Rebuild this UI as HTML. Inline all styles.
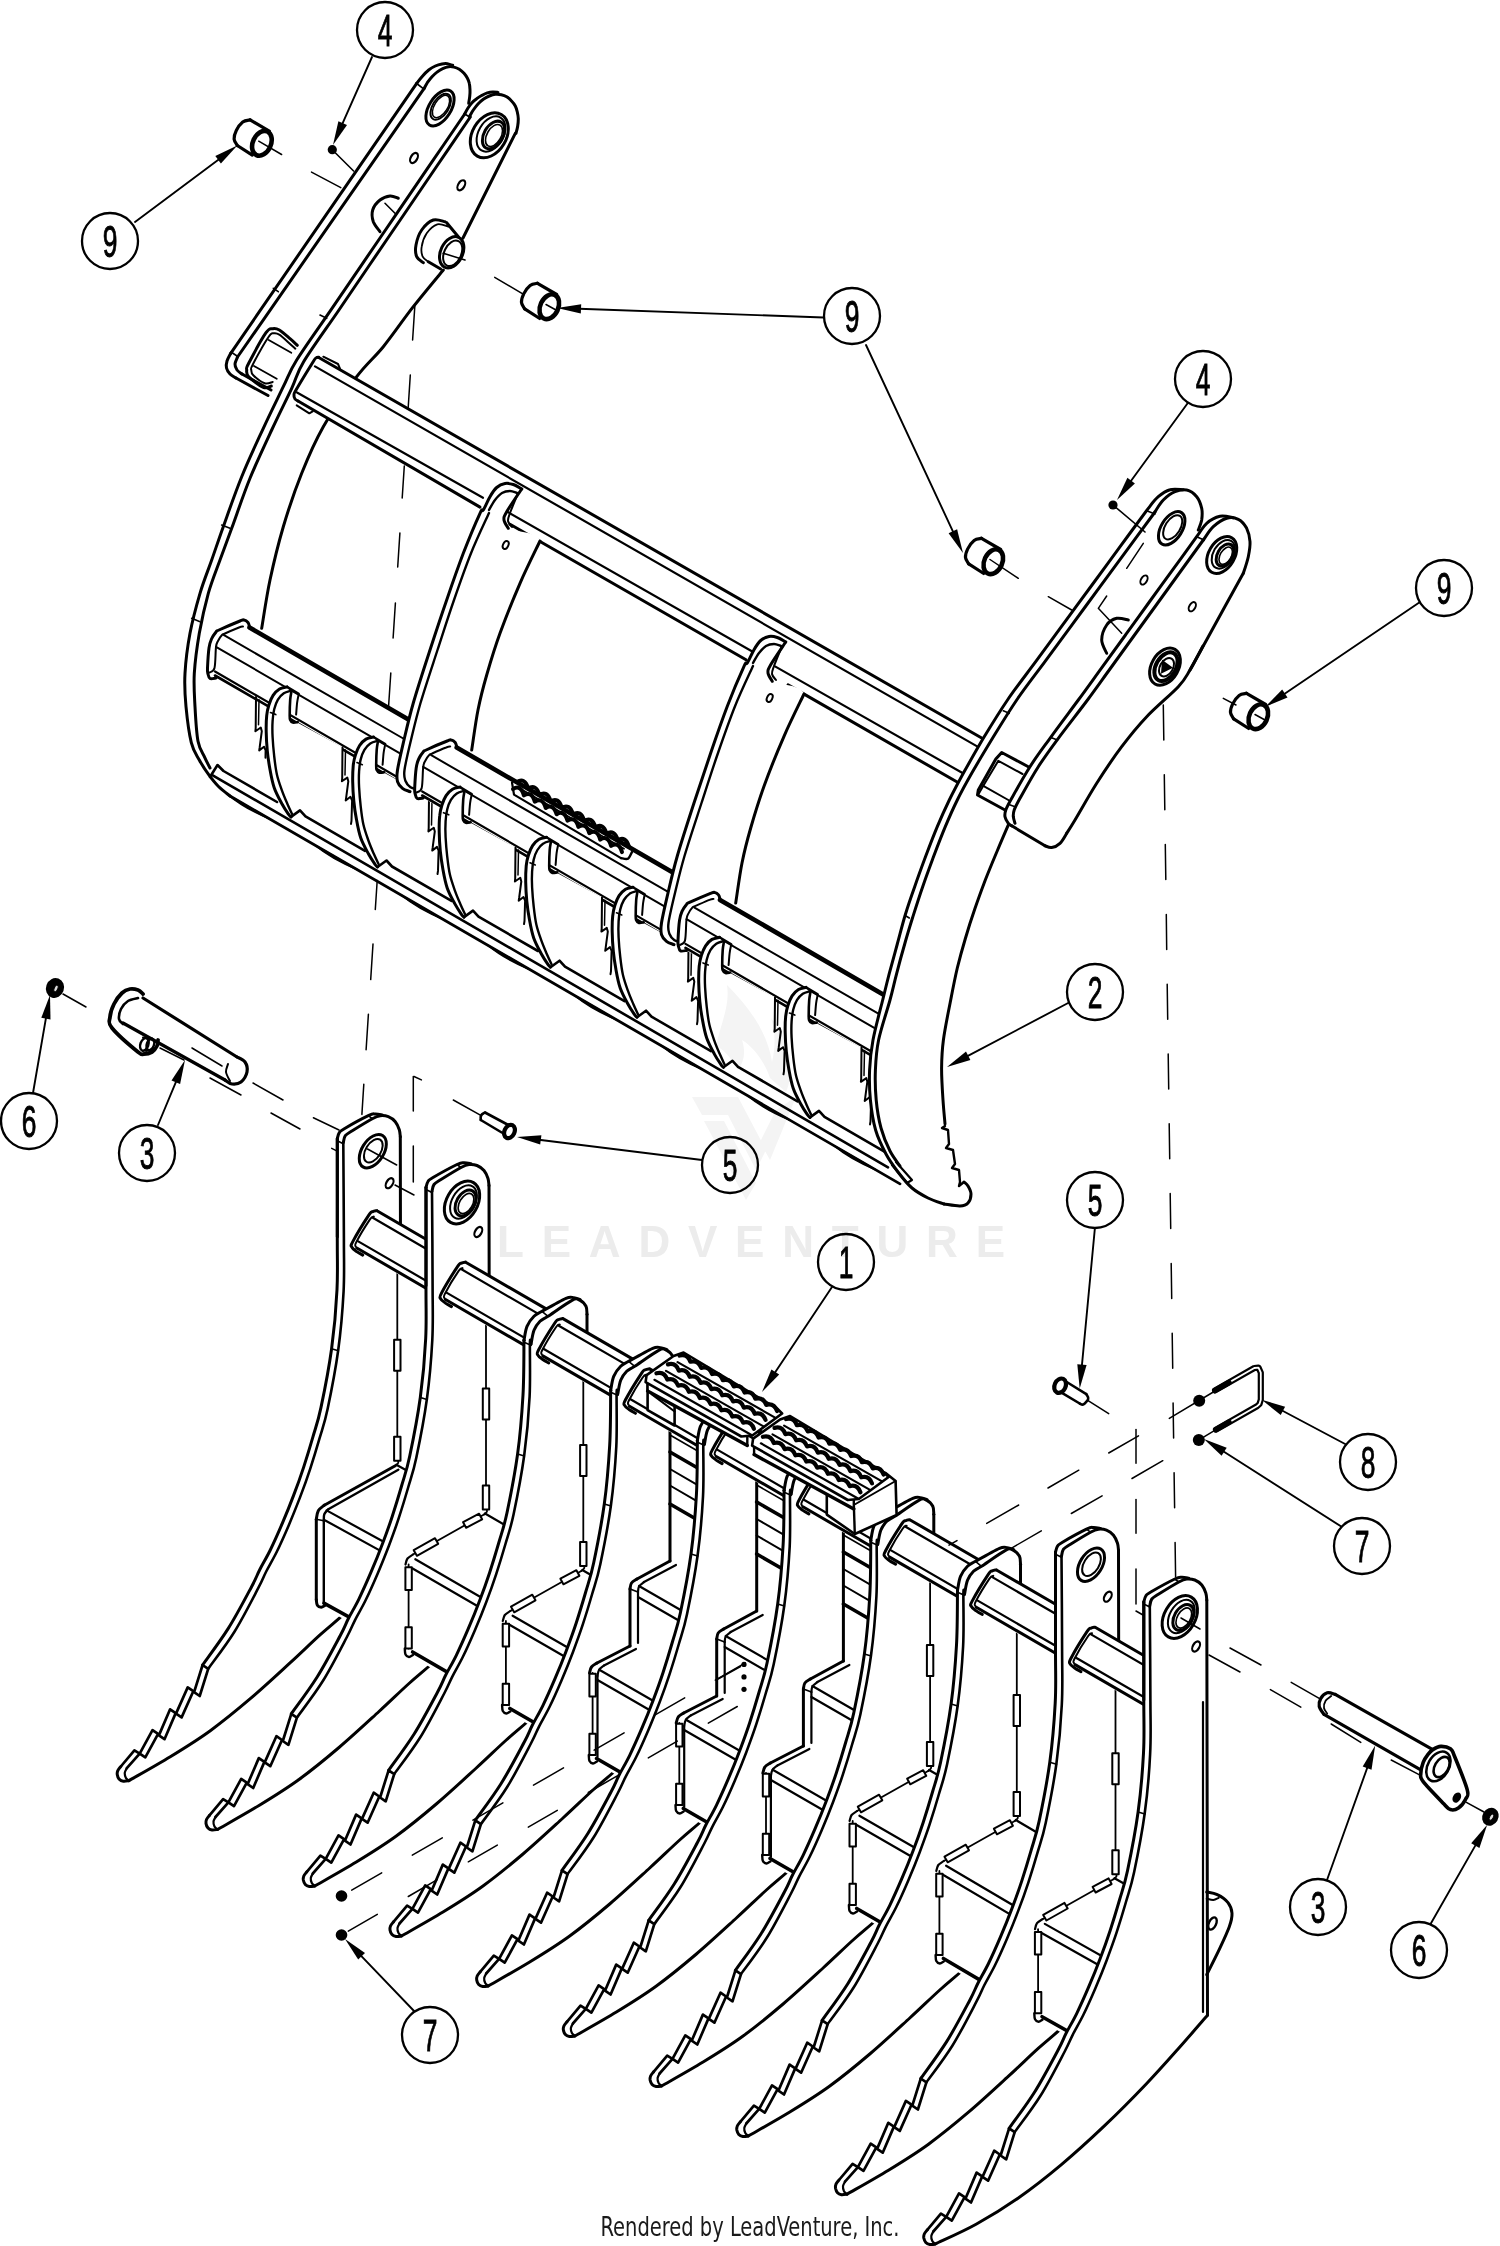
<!DOCTYPE html>
<html><head><meta charset="utf-8"><title>Parts diagram</title>
<style>
html,body{margin:0;padding:0;background:#fff}
svg{display:block}
.n{font-family:"Liberation Sans",sans-serif;fill:#000}
path,line,polyline,ellipse,circle{stroke-linecap:round;stroke-linejoin:round}
</style></head><body>
<svg width="1500" height="2246" viewBox="0 0 1500 2246">
<rect width="1500" height="2246" fill="#fff"/>
<path d="M416.7 83.3 C417.6 82.2 420 78.9 422 76.7 C424 74.4 426.4 71.8 428.7 70 C430.9 68.2 433.1 67 435.3 66 C437.6 65 440 64.4 442 64 C444 63.6 445.6 63.5 447.3 63.7 C449.1 64 451.8 65.1 452.7 65.3" fill="none" stroke="#000" stroke-width="3.0" />
<path d="M416.7 83.3 L230.7 353.3" fill="none" stroke="#000" stroke-width="3.0" />
<path d="M230.7 353.3 C230.1 354.6 227.7 358.6 227 361 C226.3 363.4 226 365.8 226.5 368 C227 370.2 228.4 372.3 230 374 C231.6 375.7 235 377.3 236 378" fill="none" stroke="#000" stroke-width="3.0" />
<path d="M236 378 L268 395.5" fill="none" stroke="#000" stroke-width="3.0" />
<path d="M424 88.7 C424.6 87.7 426 84.7 427.3 82.7 C428.7 80.7 430.4 78.4 432 76.7 C433.6 75 434.9 73.7 436.7 72.4 C438.4 71.1 440.7 69.6 442.7 68.7 C444.7 67.7 446.8 66.9 448.7 66.7 C450.6 66.4 452.2 66.6 454 67.1 C455.8 67.5 457.7 68.3 459.3 69.3 C461 70.4 462.7 71.9 464 73.3 C465.3 74.8 466.4 76.3 467.3 78 C468.2 79.7 468.9 81.3 469.3 83.3 C469.8 85.3 469.9 87.8 470 90 C470.1 92.2 470 94.4 469.7 96.7 C469.5 98.9 468.8 102.2 468.7 103.3" fill="none" stroke="#000" stroke-width="3.0" />
<path d="M424 88.7 L237.5 357" fill="none" stroke="#000" stroke-width="3.0" />
<path d="M237.5 357 C237.1 358.2 235.1 361.8 235 364 C234.9 366.2 235.8 368.3 237 370 C238.2 371.7 241.2 373.3 242 374" fill="none" stroke="#000" stroke-width="3.0" />
<path d="M242 374 L271 390" fill="none" stroke="#000" stroke-width="3.0" />
<path d="M417.3 84 L423.3 88.7" fill="none" stroke="#000" stroke-width="1.6" />
<path d="M231 352 L237 356" fill="none" stroke="#000" stroke-width="1.6" />
<path d="M273.3 288.3 L278.3 291.7" fill="none" stroke="#000" stroke-width="1.6" />
<ellipse cx="440" cy="108" rx="11" ry="20" transform="rotate(32 440 108)" fill="none" stroke="#000" stroke-width="3.0"/>
<ellipse cx="440.7" cy="106.7" rx="8" ry="14.5" transform="rotate(32 440.7 106.7)" fill="none" stroke="#000" stroke-width="2"/>
<ellipse cx="441" cy="106.5" rx="6.5" ry="12.5" transform="rotate(32 441 106.5)" fill="none" stroke="#000" stroke-width="1.5"/>
<ellipse cx="414" cy="158" rx="3.2" ry="5.5" transform="rotate(30 414 158)" fill="none" stroke="#000" stroke-width="2.2"/>
<path d="M380 231.7 C378.9 230 374.6 225.3 373.3 221.7 C372.1 218.1 371.6 213.6 372.7 210 C373.8 206.4 377.1 202.3 380 200 C382.9 197.7 386.9 196.3 390 196 C393.1 195.7 396.9 197.9 398.3 198.3" fill="none" stroke="#000" stroke-width="3.0" />
<path d="M385 203.3 L395 213.3" fill="none" stroke="#000" stroke-width="1.6" />
<path d="M297.3 345.3 C296.1 344.2 293 341.2 290 338.7 C287 336.1 282.2 331.7 279.3 330 C276.4 328.3 274.9 328.2 272.7 328.7 C270.4 329.1 270 326.9 266 332.7 C262 338.4 251.9 357.1 248.7 363.3 C245.4 369.6 246.7 367.8 246.7 370 C246.7 372.2 245.9 373.8 248.7 376.7 C251.4 379.6 259.6 385.8 263.3 387.3 C267.1 388.9 270 386.2 271.3 386" fill="none" stroke="#000" stroke-width="3.0" />
<path d="M295.3 348.7 C294.2 347.7 291.3 345 288.7 342.7 C286 340.3 281.8 336.2 279.3 334.7 C276.9 333.1 275.8 333 274 333.3 C272.2 333.7 272.2 331.4 268.7 336.7 C265.1 341.9 255.6 359.1 252.7 364.7 C249.8 370.2 251.2 368.2 251.3 370 C251.4 371.8 251.1 373.1 253.3 375.3 C255.6 377.6 261.4 382.2 264.7 383.3 C267.9 384.4 271.3 382.2 272.7 382" fill="none" stroke="#000" stroke-width="2" />
<path d="M268.7 340 L291.3 352.7" fill="none" stroke="#000" stroke-width="1.8" />
<path d="M254 366 L276.7 378.7" fill="none" stroke="#000" stroke-width="1.8" />
<path d="M464.7 114 C459.1 122.2 442.3 146.8 431.1 163.2 C419.9 179.6 408.7 196 397.5 212.4 C386.3 228.8 375.1 245.2 363.9 261.6 C352.7 278 341.5 294.4 330.3 310.8 C319.1 327.2 304.5 347.4 296.7 360 C288.9 372.6 288.9 375.3 283.3 386.7 C277.8 398.1 270.3 413.3 263.3 428.3 C256.4 443.3 248.3 460.3 241.7 476.7 C235 493.1 228.3 512.8 223.3 526.7 C218.3 540.6 215.6 548.9 211.7 560 C207.8 571.1 203.6 581.1 200 593.3 C196.4 605.6 192.5 620 190 633.3 C187.5 646.7 185.7 661.1 185 673.3 C184.3 685.6 185.8 701.1 186 706.7 L261.7 628.3 C263.1 620.3 266.4 596.9 270 580 C273.6 563.1 278.1 544.4 283.3 526.7 C288.6 508.9 295 490 301.7 473.3 C308.3 456.7 314.2 442.8 323.3 426.7 C332.5 410.6 346.7 390 356.7 376.7 C366.7 363.3 373.9 358.3 383.3 346.7 C392.8 335 403.3 319.4 413.3 306.7 C423.3 293.9 438.3 276.1 443.3 270 L463 238 L515 134 L516 133.3 C516.3 132.1 517.4 128.4 517.7 126 C518.1 123.6 518.3 121 518.3 118.7 C518.2 116.3 517.8 114.1 517.3 112 C516.8 109.9 516.3 107.9 515.3 106 C514.3 104.1 512.8 102.2 511.3 100.7 C509.9 99.1 508.9 98 506.7 96.7 C504.4 95.3 500.3 93.2 498 92.4 C495.7 91.6 494.4 91.9 492.7 92 C490.9 92.1 489.1 92.4 487.3 92.9 C485.6 93.5 483.8 94.4 482 95.3 C480.2 96.3 478.3 97.4 476.7 98.7 C475 99.9 473.4 101.1 472 102.7 C470.6 104.2 469.2 106.1 468 108 C466.8 109.9 465.2 113 464.7 114Z" fill="#fff" stroke="none"/>
<path d="M464.7 114 C465.2 113 466.8 109.9 468 108 C469.2 106.1 470.6 104.2 472 102.7 C473.4 101.1 475 99.9 476.7 98.7 C478.3 97.4 480.2 96.3 482 95.3 C483.8 94.4 485.6 93.5 487.3 92.9 C489.1 92.4 490.9 92.1 492.7 92 C494.4 91.9 497.1 92.3 498 92.4" fill="none" stroke="#000" stroke-width="3.0" />
<path d="M469.3 116.7 C470 115.6 471.9 112.1 473.3 110 C474.8 107.9 476.3 105.8 478 104 C479.7 102.2 481.4 100.7 483.3 99.3 C485.2 98 487.3 96.8 489.3 96 C491.3 95.2 493.3 94.5 495.3 94.3 C497.3 94 499.4 94.3 501.3 94.7 C503.2 95.1 505 95.7 506.7 96.7 C508.3 97.7 509.9 99.1 511.3 100.7 C512.8 102.2 514.3 104.1 515.3 106 C516.3 107.9 516.8 109.9 517.3 112 C517.8 114.1 518.2 116.3 518.3 118.7 C518.3 121 518.1 123.6 517.7 126 C517.4 128.4 516.3 132.1 516 133.3" fill="none" stroke="#000" stroke-width="3.0" />
<path d="M464.7 114 L469.3 116.7" fill="none" stroke="#000" stroke-width="1.6" />
<path d="M515.3 133.3 L463 238" fill="none" stroke="#000" stroke-width="3.0" />
<ellipse cx="489.3" cy="135.3" rx="17" ry="24" transform="rotate(30 489.3 135.3)" fill="none" stroke="#000" stroke-width="3.0"/>
<ellipse cx="491" cy="134" rx="12.5" ry="19" transform="rotate(30 491 134)" fill="none" stroke="#000" stroke-width="2"/>
<ellipse cx="493.5" cy="135" rx="9.5" ry="15" transform="rotate(30 493.5 135)" fill="none" stroke="#000" stroke-width="3.0"/>
<ellipse cx="494" cy="135.5" rx="7" ry="12" transform="rotate(30 494 135.5)" fill="none" stroke="#000" stroke-width="1.6"/>
<ellipse cx="461.3" cy="185.3" rx="3.2" ry="5.5" transform="rotate(30 461.3 185.3)" fill="none" stroke="#000" stroke-width="2.2"/>
<path d="M445 221.7 C443.1 221.4 437.2 218.6 433.3 220 C429.4 221.4 424.6 225.8 421.7 230 C418.8 234.2 416.8 240.6 416 245 C415.2 249.4 415.4 253.7 416.7 256.7 C417.9 259.6 422.2 261.7 423.3 262.7" fill="none" stroke="#000" stroke-width="3.0" />
<path d="M448.3 226.7 C446.5 226.3 440.9 223.2 437.3 224.3 C433.7 225.4 429.3 229.6 426.7 233.3 C424.1 237.1 422.3 242.8 421.7 246.7 C421 250.6 421.6 254.2 422.7 256.7 C423.8 259.2 427.4 260.8 428.3 261.7" fill="none" stroke="#000" stroke-width="1.8" />
<ellipse cx="451.7" cy="252.3" rx="11" ry="16.5" transform="rotate(25 451.7 252.3)" fill="#fff" stroke="#000" stroke-width="3.0"/>
<ellipse cx="452.7" cy="253.3" rx="8.5" ry="13.5" transform="rotate(25 452.7 253.3)" fill="none" stroke="#000" stroke-width="2"/>
<path d="M428.3 261.7 L440.7 269" fill="none" stroke="#000" stroke-width="3.0" />
<path d="M446.7 222.7 L458.3 236.7" fill="none" stroke="#000" stroke-width="3.0" />
<path d="M443.3 253.3 L465 260" fill="none" stroke="#000" stroke-width="1.6" />
<path d="M464.7 114 C459.1 122.2 442.3 146.8 431.1 163.2 C419.9 179.6 408.7 196 397.5 212.4 C386.3 228.8 375.1 245.2 363.9 261.6 C352.7 278 341.5 294.4 330.3 310.8 C319.1 327.2 304.5 347.4 296.7 360 C288.9 372.6 288.9 375.3 283.3 386.7 C277.8 398.1 270.3 413.3 263.3 428.3 C256.4 443.3 248.3 460.3 241.7 476.7 C235 493.1 228.3 512.8 223.3 526.7 C218.3 540.6 215.6 548.9 211.7 560 C207.8 571.1 203.6 581.1 200 593.3 C196.4 605.6 192.5 620 190 633.3 C187.5 646.7 185.7 661.1 185 673.3 C184.3 685.6 184.9 695.1 186 706.7 C187.1 718.2 189.1 733.8 191.3 742.7 C193.5 751.6 196.4 754.7 199.3 760 C202.2 765.3 205.5 770.3 208.7 774.7 C211.9 779.1 214.9 783 218.5 786.5 C222.1 790 228.1 794.4 230 796" fill="none" stroke="#000" stroke-width="3.0" />
<path d="M470.3 117 C464.7 125.2 448.1 149.7 436.9 166 C425.8 182.3 414.7 198.7 403.6 215 C392.5 231.3 381.3 247.7 370.2 264 C359.1 280.3 348 296.7 336.9 313 C325.7 329.3 311 349.4 303.5 362 C296 374.6 297 377 291.7 388.3 C286.4 399.7 278.6 415 271.7 430 C264.7 445 256.7 461.9 250 478.3 C243.3 494.7 236.7 514.7 231.7 528.3 C226.7 541.9 223.9 549.2 220 560 C216.1 570.8 211.8 581.1 208.3 593.3 C204.9 605.6 201.7 620 199.3 633.3 C197 646.7 195.1 661.1 194.3 673.3 C193.6 685.6 194.4 695.3 195 706.7 C195.6 718 196.4 732.9 198 741.3 C199.6 749.7 202.7 752.8 204.7 757.3 C206.7 761.8 209.1 766.2 210 768" fill="none" stroke="#000" stroke-width="3.0" />
<path d="M443.3 270 C438.3 276.1 423.3 293.9 413.3 306.7 C403.3 319.4 392.8 335 383.3 346.7 C373.9 358.3 366.7 363.3 356.7 376.7 C346.7 390 332.5 410.6 323.3 426.7 C314.2 442.8 308.3 456.7 301.7 473.3 C295 490 288.6 508.9 283.3 526.7 C278.1 544.4 273.6 563.1 270 580 C266.4 596.9 263.1 620.3 261.7 628.3" fill="none" stroke="#000" stroke-width="3.0" />
<path d="M320 315 L326.7 318.3" fill="none" stroke="#000" stroke-width="1.6" />
<path d="M221.7 525 L230 528.3" fill="none" stroke="#000" stroke-width="1.6" />
<path d="M191.7 618.3 L200 621.7" fill="none" stroke="#000" stroke-width="1.6" />
<path d="M318.7 357.5 L983 738.8 L958 782.5 L298 401 L294 395Z" fill="#fff" stroke="none"/>
<path d="M318.7 357.5 L983 738.8" fill="none" stroke="#000" stroke-width="3.0" />
<path d="M315 366.4 L978 746.9" fill="none" stroke="#000" stroke-width="2.2" />
<path d="M318.7 357.3 C318.2 357.4 316.9 357.2 316 358 C315.1 358.8 316.3 356.7 313 362 C309.7 367.3 299.2 384.5 296 390 C292.8 395.5 294.2 393.5 294 395 C293.8 396.5 294.3 398 295 399 C295.7 400 297.5 400.7 298 401" fill="none" stroke="#000" stroke-width="3.0" />
<path d="M297 392.5 L483 497.8" fill="none" stroke="#000" stroke-width="2.2" />
<path d="M298 401 L480 507.1" fill="none" stroke="#000" stroke-width="3.0" />
<path d="M507 511.6 L758 654.7" fill="none" stroke="#000" stroke-width="2.2" />
<path d="M510 524.3 L746 659.8" fill="none" stroke="#000" stroke-width="3.0" />
<path d="M775 666.4 L963 773.3" fill="none" stroke="#000" stroke-width="2.2" />
<path d="M788 684.9 L958 782.5" fill="none" stroke="#000" stroke-width="3.0" />
<path d="M323.3 356.7 L338 364 L340 368.7" fill="none" stroke="#000" stroke-width="2" />
<path d="M296.7 405.3 L309.3 413.3 L312.7 411.3" fill="none" stroke="#000" stroke-width="2" />
<path d="M216 678 L210 678.5 L208 674 L207.5 668 L209 648 L211.5 639 L216 632 L219 630 L240 621 L244 620 L248 622.5 L249.5 626.5 L408 718.3 L400 782.1Z" fill="#fff" stroke="none"/>
<path d="M216 678 C215 678.1 211.3 679.2 210 678.5 C208.7 677.8 208.4 675.8 208 674 C207.6 672.2 207.3 672.3 207.5 668 C207.7 663.7 208.3 652.8 209 648 C209.7 643.2 210.3 641.7 211.5 639 C212.7 636.3 214.8 633.5 216 632 C217.2 630.5 215 631.8 219 630 C223 628.2 235.8 622.7 240 621 C244.2 619.3 242.7 619.8 244 620 C245.3 620.2 247.1 621.4 248 622.5 C248.9 623.6 249.2 625.8 249.5 626.5" fill="none" stroke="#000" stroke-width="3.0" />
<path d="M209.5 672.5 C210.3 671.8 213.4 672.2 214.5 668 C215.6 663.8 215.4 651.5 216 647 C216.6 642.5 217 643 218 641 C219 639 220.8 636.2 222 635 C223.2 633.8 222.2 634.8 225 633.5 C227.8 632.2 236 628.7 239 627.5 C242 626.3 242.3 626.7 243 626.5" fill="none" stroke="#000" stroke-width="2" />
<path d="M249.5 627.5 L408 719.3" fill="none" stroke="#000" stroke-width="4.6" />
<path d="M224 635.2 L405 739.5" fill="none" stroke="#000" stroke-width="2" />
<path d="M216 646.8 L403 755.1" fill="none" stroke="#000" stroke-width="2" />
<path d="M215 671.5 L401 779.2" fill="none" stroke="#000" stroke-width="2.2" />
<path d="M215 675.5 L400 782.6" fill="none" stroke="#000" stroke-width="2.6" />
<path d="M210 777 L217.5 765 L223.5 771 L277 802" fill="none" stroke="#000" stroke-width="2.6" />
<path d="M256 697.1 L255.7 728 L255.4 731.2 L260.8 727.5 L261.8 731.2 L259.7 747.2 L259.2 750.4 L264 746.7 L265.6 750.4 L265.5 757.8" fill="none" stroke="#000" stroke-width="2" />
<path d="M259 699.8 L258.5 724.8" fill="none" stroke="#000" stroke-width="1.5" />
<path d="M287 686.9 L279.5 689 L273.1 695.4 L268.9 705 L266.7 715.7 L266.2 731.7 L267.3 750.9 L269.9 769 L274.2 787.7 L281.9 803.7 L288.6 814.4 L291 816.9 L357 861.1 L357 846.9 L357 823.9 L356 820.4 L351 823.9 L351.5 820.8 L352.1 800.5 L350.5 796.8 L345.7 800.5 L346.2 797.3 L348.3 781.3 L347.3 777.6 L341.9 781.3 L342.2 778.1 L342.5 747.2 L299 723.4 L297.7 722.1 L292.9 722.6 L290.2 719.9 L289.7 715.7 L290.2 699.7 L291.3 692.2Z" fill="#fff" stroke="none"/>
<path d="M342.5 747.2 L342.2 778.1 L341.9 781.3 L347.3 777.6 L348.3 781.3 L346.2 797.3 L345.7 800.5 L350.5 796.8 L352.1 800.5 L351.5 820.8 L351 823.9" fill="none" stroke="#000" stroke-width="2" />
<path d="M345.5 749.9 L345 774.9" fill="none" stroke="#000" stroke-width="1.5" />
<path d="M287 686.9 C285.8 687.3 281.8 687.6 279.5 689 C277.2 690.4 274.9 692.7 273.1 695.4 C271.3 698.1 270 701.6 268.9 705 C267.8 708.4 267.1 711.3 266.7 715.7 C266.2 720.2 266.1 725.8 266.2 731.7 C266.3 737.6 266.7 744.7 267.3 750.9 C267.9 757.1 268.8 762.9 269.9 769 C271 775.1 272.2 781.9 274.2 787.7 C276.2 793.5 279.5 799.3 281.9 803.7 C284.3 808.2 287.1 812.2 288.6 814.4 C290.1 816.6 290.6 816.5 291 816.9" fill="none" stroke="#000" stroke-width="3.0" />
<path d="M291.3 690.6 C290.1 691.1 286 691.8 283.8 693.3 C281.6 694.8 279.5 697 277.9 699.7 C276.3 702.4 275.1 705.8 274.2 709.3 C273.3 712.9 272.9 716.4 272.6 721 C272.3 725.6 272.3 731.1 272.6 737 C272.9 742.9 273.5 750 274.2 756.2 C274.9 762.4 275.6 768.7 276.9 774.4 C278.2 780.1 280.2 785.5 281.9 790.4 C283.6 795.3 285.6 799.8 287.3 803.7 C289 807.6 291.2 812.2 292 813.9" fill="none" stroke="#000" stroke-width="2.4" />
<path d="M270.5 712.5 L275.8 714.6" fill="none" stroke="#000" stroke-width="1.6" />
<path d="M291.3 692.2 C291.1 693.5 290.5 695.8 290.2 699.7 C289.9 703.6 289.7 712.3 289.7 715.7 C289.7 719.1 289.7 718.8 290.2 719.9 C290.7 721.1 291.6 722.2 292.9 722.6 C294.1 723 296.9 722.2 297.7 722.1" fill="none" stroke="#000" stroke-width="2.6" />
<path d="M298.7 694.4 C298.4 695.8 297.5 699.5 297.1 702.9 C296.7 706.3 296.3 712.7 296.1 714.6" fill="none" stroke="#000" stroke-width="2" />
<path d="M287 686.9 L298.7 693.9" fill="none" stroke="#000" stroke-width="2.4" />
<path d="M291 816.9 L300 810.4 L305.5 816.4 L365 850.9" fill="none" stroke="#000" stroke-width="2.6" />
<path d="M373.5 737 L366 739.1 L359.6 745.5 L355.4 755.1 L353.2 765.8 L352.7 781.8 L353.8 801 L356.4 819.1 L360.7 837.8 L368.4 853.8 L375.1 864.5 L377.5 867 L443.5 911.3 L443.5 897 L443.5 874 L442.5 870.5 L437.5 874 L438 870.9 L438.6 850.6 L437 846.9 L432.2 850.6 L432.7 847.4 L434.8 831.4 L433.8 827.7 L428.4 831.4 L428.7 828.2 L429 797.3 L385.5 773.5 L384.2 772.2 L379.4 772.7 L376.7 770 L376.2 765.8 L376.7 749.8 L377.8 742.3Z" fill="#fff" stroke="none"/>
<path d="M429 797.3 L428.7 828.2 L428.4 831.4 L433.8 827.7 L434.8 831.4 L432.7 847.4 L432.2 850.6 L437 846.9 L438.6 850.6 L438 870.9 L437.5 874" fill="none" stroke="#000" stroke-width="2" />
<path d="M432 800 L431.5 825" fill="none" stroke="#000" stroke-width="1.5" />
<path d="M373.5 737 C372.2 737.3 368.3 737.7 366 739.1 C363.7 740.5 361.4 742.8 359.6 745.5 C357.8 748.2 356.5 751.7 355.4 755.1 C354.3 758.5 353.6 761.3 353.2 765.8 C352.8 770.2 352.6 775.9 352.7 781.8 C352.8 787.7 353.2 794.8 353.8 801 C354.4 807.2 355.2 813 356.4 819.1 C357.5 825.2 358.7 832 360.7 837.8 C362.7 843.6 366 849.3 368.4 853.8 C370.8 858.2 373.6 862.3 375.1 864.5 C376.6 866.7 377.1 866.6 377.5 867" fill="none" stroke="#000" stroke-width="3.0" />
<path d="M377.8 740.7 C376.6 741.1 372.5 741.9 370.3 743.4 C368.1 744.9 366 747.1 364.4 749.8 C362.8 752.5 361.6 755.8 360.7 759.4 C359.8 762.9 359.4 766.5 359.1 771.1 C358.8 775.7 358.8 781.2 359.1 787.1 C359.4 793 360 800.1 360.7 806.3 C361.4 812.5 362.1 818.8 363.4 824.5 C364.7 830.2 366.7 835.6 368.4 840.5 C370.1 845.4 372.1 849.9 373.8 853.8 C375.5 857.7 377.7 862.3 378.5 864" fill="none" stroke="#000" stroke-width="2.4" />
<path d="M357 762.6 L362.3 764.7" fill="none" stroke="#000" stroke-width="1.6" />
<path d="M377.8 742.3 C377.6 743.5 377 745.9 376.7 749.8 C376.4 753.7 376.2 762.4 376.2 765.8 C376.2 769.2 376.2 768.8 376.7 770 C377.2 771.1 378.1 772.3 379.4 772.7 C380.6 773.1 383.4 772.3 384.2 772.2" fill="none" stroke="#000" stroke-width="2.6" />
<path d="M385.2 744.5 C384.9 745.9 384 749.6 383.6 753 C383.2 756.4 382.8 762.7 382.6 764.7" fill="none" stroke="#000" stroke-width="2" />
<path d="M373.5 737 L385.2 744" fill="none" stroke="#000" stroke-width="2.4" />
<path d="M377.5 867 L386.5 860.5 L392 866.5 L451.5 900.9" fill="none" stroke="#000" stroke-width="2.6" />
<path d="M505 483.5 C500.8 483.2 499.2 485.3 496.7 487.5 C494.2 489.7 492.2 492.9 490 496.7 C487.8 500.4 485 507.2 483.3 510 C481.6 512.8 483.3 506.1 480 513.3 C476.7 520.5 468.9 538.8 463.3 553.3 C457.8 567.8 452.2 583.9 446.7 600 C441.1 616.1 435.6 632.8 430 650 C424.4 667.2 417.6 688 413.3 703 C409 718 406.6 728.8 404 740 C401.4 751.2 398.6 763 397.5 770 C396.4 777 396.7 778.7 397.5 781.7 C398.3 784.8 400.4 786.6 402.5 788.3 C404.6 790 403.8 791.4 410 791.7 C416.2 792 429.7 797 440 790 C450.3 783 466.4 756.7 471.7 750 C477 743.3 470.6 756.7 471.7 750 C472.8 743.3 475.5 722.5 478 710 C480.5 697.5 483 687.8 486.7 675 C490.4 662.2 494.4 648.6 500 633.3 C505.6 618 513.3 598.7 520 583.3 C526.7 567.9 542 550.2 540 541 C538 531.8 514.3 531.8 508.3 528.3 C502.3 524.8 504.3 522.8 504 520 C503.7 517.2 503.8 516.9 506.7 511.7 C509.6 506.5 522 493.7 521.7 489 C521.4 484.3 509.2 483.8 505 483.5Z" fill="#fff" stroke="none"/>
<path d="M410 791.7 C408.8 791.1 404.6 790 402.5 788.3 C400.4 786.6 398.3 784.8 397.5 781.7 C396.7 778.7 396.4 777 397.5 770 C398.6 763 401.4 751.2 404 740 C406.6 728.8 409 718 413.3 703 C417.6 688 424.4 667.2 430 650 C435.6 632.8 441.1 616.1 446.7 600 C452.2 583.9 457.8 567.8 463.3 553.3 C468.9 538.8 476.7 520.5 480 513.3 C483.3 506.1 481.6 512.8 483.3 510 C485 507.2 487.8 500.4 490 496.7 C492.2 492.9 494.2 489.7 496.7 487.5 C499.2 485.3 502.2 484 505 483.5 C507.8 483 510.5 483.6 513.3 484.5 C516.1 485.4 520.3 488.2 521.7 489" fill="none" stroke="#000" stroke-width="3.0" />
<path d="M489 510 C490 508.3 492.8 502.8 495 500 C497.2 497.2 499.5 494.5 502 493 C504.5 491.5 507.5 491 510 491 C512.5 491 515.8 492.7 517 493" fill="none" stroke="#000" stroke-width="2.4" />
<path d="M489 513 C486 519.7 476.8 538.8 471 553.3 C465.2 567.8 459.6 583.9 454 600 C448.4 616.1 443.1 632.8 437.5 650 C431.9 667.2 424.9 688 420.5 703 C416.1 718 413.7 728.8 411 740 C408.3 751.2 405.4 763.2 404.5 770 C403.6 776.8 404.5 778.1 405.5 781 C406.5 783.9 408.6 785.9 410.5 787.3 C412.4 788.7 415.9 788.9 417 789.2" fill="none" stroke="#000" stroke-width="2.4" />
<path d="M521.7 489 C519.2 492.8 509.6 506.5 506.7 511.7 C503.8 516.9 503.7 517.2 504 520 C504.3 522.8 507.6 526.9 508.3 528.3" fill="none" stroke="#000" stroke-width="3.0" />
<path d="M518 493 C516.7 496.3 511.7 508.3 510 513 C508.3 517.7 507.7 518.7 508 521 C508.3 523.3 511.3 526 512 527" fill="none" stroke="#000" stroke-width="2" />
<path d="M540 541 C536.7 548 526.7 567.9 520 583.3 C513.3 598.7 505.6 618 500 633.3 C494.4 648.6 490.4 662.2 486.7 675 C483 687.8 480.5 697.5 478 710 C475.5 722.5 472.8 743.3 471.7 750" fill="none" stroke="#000" stroke-width="3.0" />
<ellipse cx="505.7" cy="545" rx="2.6" ry="4.2" transform="rotate(25 505.7 545)" fill="none" stroke="#000" stroke-width="2"/>
<path d="M423.2 798 L417.2 798.5 L415.2 794 L414.7 788 L416.2 768 L418.7 759 L423.2 752 L426.2 750 L447.2 741 L451.2 740 L455.2 742.5 L456.7 746.5 L672 871.1 L664 935Z" fill="#fff" stroke="none"/>
<path d="M423.2 798 C422.2 798.1 418.5 799.1 417.2 798.5 C415.9 797.8 415.6 795.7 415.2 794 C414.8 792.2 414.5 792.3 414.7 788 C414.9 783.6 415.5 772.8 416.2 768 C416.9 763.1 417.5 761.6 418.7 759 C419.9 756.3 421.9 753.5 423.2 752 C424.4 750.5 422.2 751.8 426.2 750 C430.2 748.1 443 742.6 447.2 741 C451.4 739.3 449.9 739.7 451.2 740 C452.5 740.2 454.3 741.4 455.2 742.5 C456.1 743.6 456.4 745.8 456.7 746.5" fill="none" stroke="#000" stroke-width="3.0" />
<path d="M416.7 792.5 C417.5 791.7 420.6 792.2 421.7 788 C422.8 783.7 422.6 771.5 423.2 767 C423.8 762.5 424.2 763 425.2 761 C426.2 759 428 756.2 429.2 755 C430.4 753.7 429.4 754.7 432.2 753.5 C435 752.2 443.2 748.6 446.2 747.5 C449.2 746.3 449.5 746.6 450.2 746.5" fill="none" stroke="#000" stroke-width="2" />
<path d="M456.7 747.5 L672 872.1" fill="none" stroke="#000" stroke-width="4.6" />
<path d="M431.2 755.2 L669 892.4" fill="none" stroke="#000" stroke-width="2" />
<path d="M423.2 766.8 L667 907.9" fill="none" stroke="#000" stroke-width="2" />
<path d="M422.2 791.5 L665 932.1" fill="none" stroke="#000" stroke-width="2.2" />
<path d="M422.2 795.5 L664 935.5" fill="none" stroke="#000" stroke-width="2.6" />
<path d="M460 787.1 L452.5 789.2 L446.1 795.6 L441.9 805.2 L439.7 815.9 L439.2 831.9 L440.3 851.1 L442.9 869.2 L447.2 887.9 L454.9 903.9 L461.6 914.6 L464 917.1 L530 961.6 L530 947.1 L530 924.1 L529 920.6 L524 924.1 L524.5 921 L525.1 900.7 L523.5 897 L518.7 900.7 L519.2 897.5 L521.3 881.5 L520.3 877.8 L514.9 881.5 L515.2 878.3 L515.5 847.4 L472 823.6 L470.7 822.3 L465.9 822.8 L463.2 820.1 L462.7 815.9 L463.2 799.9 L464.3 792.4Z" fill="#fff" stroke="none"/>
<path d="M515.5 847.4 L515.2 878.3 L514.9 881.5 L520.3 877.8 L521.3 881.5 L519.2 897.5 L518.7 900.7 L523.5 897 L525.1 900.7 L524.5 921 L524 924.1" fill="none" stroke="#000" stroke-width="2" />
<path d="M518.5 850.1 L518 875.1" fill="none" stroke="#000" stroke-width="1.5" />
<path d="M460 787.1 C458.8 787.4 454.8 787.8 452.5 789.2 C450.2 790.6 447.9 792.9 446.1 795.6 C444.3 798.2 443 801.8 441.9 805.2 C440.8 808.6 440.1 811.4 439.7 815.9 C439.2 820.3 439.1 826 439.2 831.9 C439.3 837.7 439.7 844.9 440.3 851.1 C440.9 857.3 441.8 863 442.9 869.2 C444 875.3 445.2 882.1 447.2 887.9 C449.2 893.7 452.5 899.4 454.9 903.9 C457.3 908.3 460.1 912.4 461.6 914.6 C463.1 916.8 463.6 916.7 464 917.1" fill="none" stroke="#000" stroke-width="3.0" />
<path d="M464.3 790.8 C463.1 791.2 459 792 456.8 793.5 C454.6 795 452.5 797.2 450.9 799.9 C449.3 802.5 448.1 805.9 447.2 809.5 C446.3 813 445.9 816.6 445.6 821.2 C445.3 825.8 445.3 831.3 445.6 837.2 C445.9 843 446.5 850.1 447.2 856.4 C447.9 862.6 448.6 868.9 449.9 874.6 C451.2 880.3 453.2 885.7 454.9 890.6 C456.6 895.5 458.6 900 460.3 903.9 C462 907.8 464.2 912.4 465 914.1" fill="none" stroke="#000" stroke-width="2.4" />
<path d="M443.5 812.7 L448.8 814.8" fill="none" stroke="#000" stroke-width="1.6" />
<path d="M464.3 792.4 C464.1 793.6 463.5 796 463.2 799.9 C462.9 803.8 462.7 812.5 462.7 815.9 C462.7 819.2 462.7 818.9 463.2 820.1 C463.7 821.2 464.6 822.4 465.9 822.8 C467.1 823.1 469.9 822.4 470.7 822.3" fill="none" stroke="#000" stroke-width="2.6" />
<path d="M471.7 794.6 C471.4 796 470.5 799.7 470.1 803.1 C469.7 806.4 469.3 812.8 469.1 814.8" fill="none" stroke="#000" stroke-width="2" />
<path d="M460 787.1 L471.7 794.1" fill="none" stroke="#000" stroke-width="2.4" />
<path d="M464 917.1 L473 910.6 L478.5 916.6 L538 951" fill="none" stroke="#000" stroke-width="2.6" />
<path d="M546.5 837.2 L539 839.3 L532.6 845.7 L528.4 855.3 L526.2 866 L525.7 882 L526.8 901.2 L529.4 919.3 L533.7 938 L541.4 954 L548.1 964.7 L550.5 967.2 L616.5 1011.8 L616.5 997.2 L616.5 974.2 L615.5 970.7 L610.5 974.2 L611 971.1 L611.6 950.8 L610 947.1 L605.2 950.8 L605.7 947.6 L607.8 931.6 L606.8 927.9 L601.4 931.6 L601.7 928.4 L602 897.5 L558.5 873.7 L557.2 872.4 L552.4 872.9 L549.7 870.2 L549.2 866 L549.7 850 L550.8 842.5Z" fill="#fff" stroke="none"/>
<path d="M602 897.5 L601.7 928.4 L601.4 931.6 L606.8 927.9 L607.8 931.6 L605.7 947.6 L605.2 950.8 L610 947.1 L611.6 950.8 L611 971.1 L610.5 974.2" fill="none" stroke="#000" stroke-width="2" />
<path d="M605 900.2 L604.5 925.2" fill="none" stroke="#000" stroke-width="1.5" />
<path d="M546.5 837.2 C545.2 837.5 541.3 837.8 539 839.3 C536.7 840.7 534.4 843 532.6 845.7 C530.8 848.3 529.5 851.9 528.4 855.3 C527.3 858.6 526.7 861.5 526.2 866 C525.8 870.4 525.6 876.1 525.7 882 C525.8 887.8 526.2 894.9 526.8 901.2 C527.4 907.4 528.2 913.1 529.4 919.3 C530.5 925.4 531.7 932.2 533.7 938 C535.7 943.7 539 949.5 541.4 954 C543.8 958.4 546.6 962.5 548.1 964.7 C549.6 966.9 550.1 966.7 550.5 967.2" fill="none" stroke="#000" stroke-width="3.0" />
<path d="M550.8 840.9 C549.5 841.3 545.5 842 543.3 843.6 C541.1 845.1 539 847.3 537.4 850 C535.8 852.6 534.6 856 533.7 859.6 C532.8 863.1 532.4 866.6 532.1 871.3 C531.8 875.9 531.8 881.4 532.1 887.3 C532.4 893.1 533 900.2 533.7 906.5 C534.4 912.7 535.1 919 536.4 924.7 C537.7 930.4 539.7 935.8 541.4 940.7 C543.1 945.5 545.1 950 546.8 954 C548.5 957.9 550.7 962.5 551.5 964.2" fill="none" stroke="#000" stroke-width="2.4" />
<path d="M530 862.8 L535.3 864.9" fill="none" stroke="#000" stroke-width="1.6" />
<path d="M550.8 842.5 C550.6 843.7 550 846 549.7 850 C549.4 853.9 549.2 862.6 549.2 866 C549.2 869.3 549.2 869 549.7 870.2 C550.2 871.3 551.1 872.5 552.4 872.9 C553.6 873.2 556.4 872.4 557.2 872.4" fill="none" stroke="#000" stroke-width="2.6" />
<path d="M558.2 844.7 C557.9 846.1 557 849.8 556.6 853.2 C556.2 856.5 555.8 862.9 555.6 864.9" fill="none" stroke="#000" stroke-width="2" />
<path d="M546.5 837.2 L558.2 844.2" fill="none" stroke="#000" stroke-width="2.4" />
<path d="M550.5 967.2 L559.5 960.7 L565 966.7 L624.5 1001.1" fill="none" stroke="#000" stroke-width="2.6" />
<path d="M633 887.2 L625.5 889.3 L619.1 895.7 L614.9 905.3 L612.7 916 L612.2 932 L613.3 951.2 L615.9 969.3 L620.2 988 L627.9 1004 L634.6 1014.7 L637 1017.2 L703 1062 L703 1047.2 L703 1024.2 L702 1020.7 L697 1024.2 L697.5 1021.1 L698.1 1000.8 L696.5 997.1 L691.7 1000.8 L692.2 997.6 L694.3 981.6 L693.3 977.9 L687.9 981.6 L688.2 978.4 L688.5 947.5 L645 923.7 L643.7 922.4 L638.9 922.9 L636.2 920.2 L635.7 916 L636.2 900 L637.3 892.5Z" fill="#fff" stroke="none"/>
<path d="M688.5 947.5 L688.2 978.4 L687.9 981.6 L693.3 977.9 L694.3 981.6 L692.2 997.6 L691.7 1000.8 L696.5 997.1 L698.1 1000.8 L697.5 1021.1 L697 1024.2" fill="none" stroke="#000" stroke-width="2" />
<path d="M691.5 950.2 L691 975.2" fill="none" stroke="#000" stroke-width="1.5" />
<path d="M633 887.2 C631.8 887.6 627.8 887.9 625.5 889.3 C623.2 890.8 620.9 893.1 619.1 895.7 C617.3 898.4 616 902 614.9 905.3 C613.8 908.7 613.2 911.6 612.7 916 C612.2 920.5 612.1 926.2 612.2 932 C612.3 937.9 612.7 945 613.3 951.2 C613.9 957.5 614.8 963.2 615.9 969.3 C617 975.5 618.2 982.3 620.2 988 C622.2 993.8 625.5 999.6 627.9 1004 C630.3 1008.5 633.1 1012.5 634.6 1014.7 C636.1 1016.9 636.6 1016.8 637 1017.2" fill="none" stroke="#000" stroke-width="3.0" />
<path d="M637.3 890.9 C636 891.4 632 892.1 629.8 893.6 C627.6 895.2 625.5 897.4 623.9 900 C622.3 902.7 621.1 906.1 620.2 909.6 C619.3 913.2 618.9 916.7 618.6 921.3 C618.3 926 618.3 931.5 618.6 937.3 C618.9 943.2 619.5 950.3 620.2 956.5 C620.9 962.8 621.6 969 622.9 974.7 C624.2 980.4 626.2 985.9 627.9 990.7 C629.6 995.6 631.6 1000.1 633.3 1004 C635 1008 637.2 1012.5 638 1014.2" fill="none" stroke="#000" stroke-width="2.4" />
<path d="M616.5 912.8 L621.8 914.9" fill="none" stroke="#000" stroke-width="1.6" />
<path d="M637.3 892.5 C637.1 893.8 636.5 896.1 636.2 900 C635.9 904 635.7 912.7 635.7 916 C635.7 919.4 635.7 919.1 636.2 920.2 C636.7 921.4 637.6 922.6 638.9 922.9 C640.1 923.3 642.9 922.5 643.7 922.4" fill="none" stroke="#000" stroke-width="2.6" />
<path d="M644.7 894.7 C644.4 896.2 643.5 899.9 643.1 903.2 C642.7 906.6 642.3 913 642.1 914.9" fill="none" stroke="#000" stroke-width="2" />
<path d="M633 887.2 L644.7 894.2" fill="none" stroke="#000" stroke-width="2.4" />
<path d="M637 1017.2 L646 1010.7 L651.5 1016.7 L711 1051.2" fill="none" stroke="#000" stroke-width="2.6" />
<path d="M769 636.5 C764.8 636.2 763.2 638.3 760.7 640.5 C758.2 642.7 756.2 646 754 649.7 C751.8 653.5 749 660.2 747.3 663 C745.6 665.8 747.3 659.1 744 666.3 C740.7 673.5 732.8 691.8 727.3 706.3 C721.8 720.8 716.2 736.9 710.7 753 C705.2 769.1 699.6 785.8 694 803 C688.4 820.2 681.6 841 677.3 856 C673 871 670.6 881.8 668 893 C665.4 904.2 662.6 916 661.5 923 C660.4 930 660.7 931.7 661.5 934.7 C662.3 937.8 664.4 939.6 666.5 941.3 C668.6 943 667.8 944.4 674 944.7 C680.2 945 693.7 950 704 943 C714.3 936 730.4 909.7 735.7 903 C741 896.3 734.7 909.7 735.7 903 C736.8 896.3 739.5 875.5 742 863 C744.5 850.5 747 840.8 750.7 828 C754.4 815.2 758.5 801.6 764 786.3 C769.5 771 777.3 751.7 784 736.3 C790.7 720.9 806 703.2 804 694 C802 684.8 778.3 684.8 772.3 681.3 C766.3 677.8 768.3 675.8 768 673 C767.7 670.2 767.8 669.9 770.7 664.7 C773.7 659.5 786 646.7 785.7 642 C785.4 637.3 773.2 636.8 769 636.5Z" fill="#fff" stroke="none"/>
<path d="M674 944.7 C672.8 944.1 668.6 943 666.5 941.3 C664.4 939.6 662.3 937.8 661.5 934.7 C660.7 931.7 660.4 930 661.5 923 C662.6 916 665.4 904.2 668 893 C670.6 881.8 673 871 677.3 856 C681.6 841 688.4 820.2 694 803 C699.6 785.8 705.2 769.1 710.7 753 C716.2 736.9 721.8 720.8 727.3 706.3 C732.8 691.8 740.7 673.5 744 666.3 C747.3 659.1 745.6 665.8 747.3 663 C749 660.2 751.8 653.5 754 649.7 C756.2 646 758.2 642.7 760.7 640.5 C763.2 638.3 766.2 637 769 636.5 C771.8 636 774.5 636.6 777.3 637.5 C780.1 638.4 784.3 641.2 785.7 642" fill="none" stroke="#000" stroke-width="3.0" />
<path d="M753 663 C754 661.3 756.8 655.8 759 653 C761.2 650.2 763.5 647.5 766 646 C768.5 644.5 771.5 644 774 644 C776.5 644 779.8 645.7 781 646" fill="none" stroke="#000" stroke-width="2.4" />
<path d="M753 666 C750 672.7 740.8 691.8 735 706.3 C729.2 720.8 723.6 736.9 718 753 C712.4 769.1 707.1 785.8 701.5 803 C695.9 820.2 688.9 841 684.5 856 C680.1 871 677.7 881.8 675 893 C672.3 904.2 669.4 916.2 668.5 923 C667.6 929.8 668.5 931.1 669.5 934 C670.5 936.9 672.6 938.9 674.5 940.3 C676.4 941.7 679.9 941.9 681 942.2" fill="none" stroke="#000" stroke-width="2.4" />
<path d="M785.7 642 C783.2 645.8 773.7 659.5 770.7 664.7 C767.8 669.9 767.7 670.2 768 673 C768.3 675.8 771.6 679.9 772.3 681.3" fill="none" stroke="#000" stroke-width="3.0" />
<path d="M782 646 C780.7 649.3 775.7 661.3 774 666 C772.3 670.7 771.7 671.7 772 674 C772.3 676.3 775.3 679 776 680" fill="none" stroke="#000" stroke-width="2" />
<path d="M804 694 C800.7 701 790.7 720.9 784 736.3 C777.3 751.7 769.5 771 764 786.3 C758.5 801.6 754.4 815.2 750.7 828 C747 840.8 744.5 850.5 742 863 C739.5 875.5 736.8 896.3 735.7 903" fill="none" stroke="#000" stroke-width="3.0" />
<ellipse cx="769.7" cy="698" rx="2.6" ry="4.2" transform="rotate(25 769.7 698)" fill="none" stroke="#000" stroke-width="2"/>
<path d="M686.5 950.4 L680.5 950.9 L678.5 946.4 L678 940.4 L679.5 920.4 L682 911.4 L686.5 904.4 L689.5 902.4 L710.5 893.4 L714.5 892.4 L718.5 894.9 L720 898.9 L884 993.9 L876 1057.7Z" fill="#fff" stroke="none"/>
<path d="M686.5 950.4 C685.5 950.5 681.8 951.6 680.5 950.9 C679.2 950.3 678.9 948.2 678.5 946.4 C678.1 944.7 677.8 944.8 678 940.4 C678.2 936.1 678.8 925.3 679.5 920.4 C680.2 915.6 680.8 914.1 682 911.4 C683.2 908.8 685.2 905.9 686.5 904.4 C687.8 902.9 685.5 904.3 689.5 902.4 C693.5 900.6 706.3 895.1 710.5 893.4 C714.7 891.8 713.2 892.2 714.5 892.4 C715.8 892.7 717.6 893.8 718.5 894.9 C719.4 896 719.8 898.3 720 898.9" fill="none" stroke="#000" stroke-width="3.0" />
<path d="M680 944.9 C680.8 944.2 683.9 944.7 685 940.4 C686.1 936.2 685.9 923.9 686.5 919.4 C687.1 914.9 687.5 915.4 688.5 913.4 C689.5 911.4 691.3 908.7 692.5 907.4 C693.7 906.2 692.7 907.2 695.5 905.9 C698.3 904.7 706.5 901.1 709.5 899.9 C712.5 898.8 712.8 899.1 713.5 898.9" fill="none" stroke="#000" stroke-width="2" />
<path d="M720 899.9 L884 994.9" fill="none" stroke="#000" stroke-width="4.6" />
<path d="M694.5 907.7 L881 1015.1" fill="none" stroke="#000" stroke-width="2" />
<path d="M686.5 919.2 L879 1030.7" fill="none" stroke="#000" stroke-width="2" />
<path d="M685.5 943.9 L877 1054.8" fill="none" stroke="#000" stroke-width="2.2" />
<path d="M685.5 947.9 L876 1058.2" fill="none" stroke="#000" stroke-width="2.6" />
<path d="M719.5 937.3 L712 939.4 L705.6 945.8 L701.4 955.4 L699.2 966.1 L698.7 982.1 L699.8 1001.3 L702.4 1019.4 L706.7 1038.1 L714.4 1054.1 L721.1 1064.8 L723.5 1067.3 L789.5 1112.2 L789.5 1097.3 L789.5 1074.3 L788.5 1070.8 L783.5 1074.3 L784 1071.2 L784.6 1050.9 L783 1047.2 L778.2 1050.9 L778.7 1047.7 L780.8 1031.7 L779.8 1028 L774.4 1031.7 L774.7 1028.5 L775 997.6 L731.5 973.8 L730.2 972.5 L725.4 973 L722.7 970.3 L722.2 966.1 L722.7 950.1 L723.8 942.6Z" fill="#fff" stroke="none"/>
<path d="M775 997.6 L774.7 1028.5 L774.4 1031.7 L779.8 1028 L780.8 1031.7 L778.7 1047.7 L778.2 1050.9 L783 1047.2 L784.6 1050.9 L784 1071.2 L783.5 1074.3" fill="none" stroke="#000" stroke-width="2" />
<path d="M778 1000.3 L777.5 1025.3" fill="none" stroke="#000" stroke-width="1.5" />
<path d="M719.5 937.3 C718.2 937.7 714.3 938 712 939.4 C709.7 940.8 707.4 943.2 705.6 945.8 C703.8 948.5 702.5 952 701.4 955.4 C700.3 958.8 699.7 961.7 699.2 966.1 C698.8 970.6 698.6 976.3 698.7 982.1 C698.8 988 699.2 995.1 699.8 1001.3 C700.4 1007.5 701.2 1013.3 702.4 1019.4 C703.5 1025.6 704.7 1032.3 706.7 1038.1 C708.7 1043.9 712 1049.7 714.4 1054.1 C716.8 1058.6 719.6 1062.6 721.1 1064.8 C722.6 1067 723.1 1066.9 723.5 1067.3" fill="none" stroke="#000" stroke-width="3.0" />
<path d="M723.8 941 C722.5 941.5 718.5 942.2 716.3 943.7 C714.1 945.2 712 947.5 710.4 950.1 C708.8 952.8 707.6 956.2 706.7 959.7 C705.8 963.3 705.4 966.8 705.1 971.4 C704.8 976 704.8 981.6 705.1 987.4 C705.4 993.3 706 1000.4 706.7 1006.6 C707.4 1012.9 708.1 1019.1 709.4 1024.8 C710.7 1030.5 712.7 1035.9 714.4 1040.8 C716.1 1045.7 718.1 1050.2 719.8 1054.1 C721.5 1058 723.7 1062.6 724.5 1064.3" fill="none" stroke="#000" stroke-width="2.4" />
<path d="M703 962.9 L708.3 965" fill="none" stroke="#000" stroke-width="1.6" />
<path d="M723.8 942.6 C723.6 943.9 723 946.2 722.7 950.1 C722.4 954 722.2 962.8 722.2 966.1 C722.2 969.5 722.2 969.2 722.7 970.3 C723.2 971.5 724.1 972.7 725.4 973 C726.6 973.4 729.4 972.6 730.2 972.5" fill="none" stroke="#000" stroke-width="2.6" />
<path d="M731.2 944.8 C730.9 946.2 730 950 729.6 953.3 C729.2 956.7 728.8 963.1 728.6 965" fill="none" stroke="#000" stroke-width="2" />
<path d="M719.5 937.3 L731.2 944.3" fill="none" stroke="#000" stroke-width="2.4" />
<path d="M723.5 1067.3 L732.5 1060.8 L738 1066.8 L797.5 1101.3" fill="none" stroke="#000" stroke-width="2.6" />
<path d="M806 987.4 L798.5 989.5 L792.1 995.9 L787.9 1005.5 L785.7 1016.2 L785.2 1032.2 L786.3 1051.4 L788.9 1069.5 L793.2 1088.2 L800.9 1104.2 L807.6 1114.9 L810 1117.4 L876 1162.5 L876 1147.4 L876 1124.4 L875 1120.9 L870 1124.4 L870.5 1121.3 L871.1 1101 L869.5 1097.3 L864.7 1101 L865.2 1097.8 L867.3 1081.8 L866.3 1078.1 L860.9 1081.8 L861.2 1078.6 L861.5 1047.7 L818 1023.9 L816.7 1022.6 L811.9 1023.1 L809.2 1020.4 L808.7 1016.2 L809.2 1000.2 L810.3 992.7Z" fill="#fff" stroke="none"/>
<path d="M861.5 1047.7 L861.2 1078.6 L860.9 1081.8 L866.3 1078.1 L867.3 1081.8 L865.2 1097.8 L864.7 1101 L869.5 1097.3 L871.1 1101 L870.5 1121.3 L870 1124.4" fill="none" stroke="#000" stroke-width="2" />
<path d="M864.5 1050.4 L864 1075.4" fill="none" stroke="#000" stroke-width="1.5" />
<path d="M806 987.4 C804.8 987.8 800.8 988.1 798.5 989.5 C796.2 990.9 793.9 993.2 792.1 995.9 C790.3 998.6 789 1002.1 787.9 1005.5 C786.8 1008.9 786.2 1011.8 785.7 1016.2 C785.2 1020.7 785.1 1026.3 785.2 1032.2 C785.3 1038.1 785.7 1045.2 786.3 1051.4 C786.9 1057.6 787.8 1063.4 788.9 1069.5 C790 1075.6 791.2 1082.4 793.2 1088.2 C795.2 1094 798.5 1099.8 800.9 1104.2 C803.3 1108.7 806.1 1112.7 807.6 1114.9 C809.1 1117.1 809.6 1117 810 1117.4" fill="none" stroke="#000" stroke-width="3.0" />
<path d="M810.3 991.1 C809 991.6 805 992.3 802.8 993.8 C800.6 995.3 798.5 997.5 796.9 1000.2 C795.3 1002.9 794.1 1006.3 793.2 1009.8 C792.3 1013.4 791.9 1016.9 791.6 1021.5 C791.3 1026.1 791.3 1031.6 791.6 1037.5 C791.9 1043.4 792.5 1050.5 793.2 1056.7 C793.9 1062.9 794.6 1069.2 795.9 1074.9 C797.2 1080.6 799.2 1086 800.9 1090.9 C802.6 1095.8 804.6 1100.3 806.3 1104.2 C808 1108.1 810.2 1112.7 811 1114.4" fill="none" stroke="#000" stroke-width="2.4" />
<path d="M789.5 1013 L794.8 1015.1" fill="none" stroke="#000" stroke-width="1.6" />
<path d="M810.3 992.7 C810.1 994 809.5 996.3 809.2 1000.2 C808.9 1004.1 808.7 1012.8 808.7 1016.2 C808.7 1019.6 808.7 1019.3 809.2 1020.4 C809.7 1021.6 810.6 1022.7 811.9 1023.1 C813.1 1023.5 815.9 1022.7 816.7 1022.6" fill="none" stroke="#000" stroke-width="2.6" />
<path d="M817.7 994.9 C817.4 996.3 816.5 1000 816.1 1003.4 C815.7 1006.8 815.3 1013.2 815.1 1015.1" fill="none" stroke="#000" stroke-width="2" />
<path d="M806 987.4 L817.7 994.4" fill="none" stroke="#000" stroke-width="2.4" />
<path d="M810 1117.4 L819 1110.9 L824.5 1116.9 L884 1151.4" fill="none" stroke="#000" stroke-width="2.6" />
<path d="M212.7 775.3 L888 1167.4" fill="none" stroke="#000" stroke-width="2.6" />
<path d="M230 796 L900 1183.9" fill="none" stroke="#000" stroke-width="2.8" />
<path d="M228.5 795.1 Q244.5 808.6 270.5 819.4Z" fill="#000" stroke="#000" stroke-width="1.5"/>
<path d="M315 845.2 Q331 858.7 357 869.5Z" fill="#000" stroke="#000" stroke-width="1.5"/>
<path d="M401.5 895.3 Q417.5 908.8 443.5 919.6Z" fill="#000" stroke="#000" stroke-width="1.5"/>
<path d="M488 945.4 Q504 958.9 530 969.7Z" fill="#000" stroke="#000" stroke-width="1.5"/>
<path d="M574.5 995.5 Q590.5 1009 616.5 1019.8Z" fill="#000" stroke="#000" stroke-width="1.5"/>
<path d="M661 1045.5 Q677 1059 703 1069.9Z" fill="#000" stroke="#000" stroke-width="1.5"/>
<path d="M747.5 1095.6 Q763.5 1109.1 789.5 1120Z" fill="#000" stroke="#000" stroke-width="1.5"/>
<path d="M834 1145.7 Q850 1159.2 876 1170Z" fill="#000" stroke="#000" stroke-width="1.5"/>
<path d="M517 781.9 Q524.7 777.1 528.2 788.4 Q535.9 783.6 539.4 794.9 Q547.1 790.1 550.6 801.3 Q558.3 796.6 561.8 807.8 Q569.5 803.1 573 814.3 Q580.7 809.6 584.2 820.8 Q591.9 816.1 595.4 827.3 Q603.1 822.5 606.6 833.8 Q614.3 829 617.8 840.2 Q625.5 835.5 629 846.7" fill="none" stroke="#000" stroke-width="4.0" />
<path d="M513 789.1 Q520.6 784.2 523.9 795.4 Q531.4 790.6 534.8 801.7 Q542.4 796.9 545.7 808 Q553.3 803.2 556.6 814.3 Q564.1 809.5 567.5 820.6 Q575.1 815.8 578.4 826.9 Q585.9 822.1 589.3 833.2 Q596.9 828.4 600.2 839.6 Q607.8 834.7 611.1 845.9 Q618.6 841 622 852.2" fill="none" stroke="#000" stroke-width="4.0" />
<path d="M512 782.5 L514 794.6 L621 858.1" fill="none" stroke="#000" stroke-width="2.2" />
<path d="M621 858.1 C622.2 858.2 626.2 859.7 628 858.7 C629.8 857.6 631.3 853.1 632 852" fill="none" stroke="#000" stroke-width="2.4" />
<path d="M520 788.6 L624 848.8" fill="none" stroke="#000" stroke-width="1.8" />
<path d="M1183.3 489.7 C1185.8 486 1174.2 488.5 1170 489.7 C1165.8 490.8 1161.9 493.6 1158.3 496.7 C1154.7 499.8 1154.7 500 1148.3 508.3 C1142 516.7 1129.5 533.9 1120.1 546.6 C1110.7 559.4 1101.4 572.2 1092 585 C1082.6 597.8 1073.2 610.5 1063.8 623.3 C1054.4 636.1 1045 648.9 1035.7 661.7 C1026.3 674.4 1016.2 687.2 1007.5 700 C998.8 712.8 990.7 726.1 983.3 738.3 C976 750.6 969 763.1 963.3 773.3 C957.7 783.6 953.7 791.1 949.3 800 C945 808.9 941.3 817.1 937.3 826.7 C933.3 836.2 929.1 847.3 925.3 857.3 C921.6 867.3 918 877.1 914.7 886.7 C911.3 896.2 908.2 905.1 905.3 914.7 C902.4 924.2 900 934.2 897.3 944 C894.7 953.8 891.8 964 889.3 973.3 C886.9 982.7 885.4 988.9 882.7 1000 C879.9 1011.1 875.2 1028.3 873 1040 C870.8 1051.7 870 1060 869.6 1070 C869.2 1080 869.4 1090 870.4 1100 C871.4 1110 873 1121 875.6 1130 C878.2 1139 882.3 1147 886 1154 C889.7 1161 893.7 1166.3 898 1172 C902.3 1177.7 907 1183.7 912 1188 C917 1192.3 922.7 1195.3 928 1198 C933.3 1200.7 941.3 1203 944 1204 C946.7 1205 941.3 1203.7 944 1204 C946.7 1204.3 956 1206.2 960 1206 C964 1205.8 966.2 1205 968 1203 C969.8 1201 971 1196.8 971 1194 C971 1191.2 969.2 1188 968 1186 C966.8 1184 964.7 1182.7 964 1182 C963.3 1181.3 964.8 1181.3 964 1182 C963.2 1182.7 959.7 1186 959 1186 C958.3 1186 960 1184.7 960 1182 C960 1179.3 960.3 1172.3 959 1170 C957.7 1167.7 952.7 1169 952 1168 C951.3 1167 954.8 1167 955 1164 C955.2 1161 954.5 1152.7 953 1150 C951.5 1147.3 946.7 1149 946 1148 C945.3 1147 948.7 1147 949 1144 C949.3 1141 949.2 1132.7 948 1130 C946.8 1127.3 942.5 1128.7 942 1128 C941.5 1127.3 944.5 1126.7 945 1126 C945.5 1125.3 945.3 1128.3 945 1124 C944.7 1119.7 943.6 1109.3 943 1100 C942.4 1090.7 941.5 1078 941.6 1068 C941.7 1058 941.9 1051.3 943.4 1040 C944.9 1028.7 948.3 1012 950.7 1000 C953 988 954.9 978.2 957.3 968 C959.8 957.8 962.4 948.4 965.3 938.7 C968.2 928.9 971.3 919.1 974.7 909.3 C978 899.6 981.6 889.8 985.3 880 C989.1 870.2 993.4 860 997.3 850.7 C1001.2 841.3 994.9 845.8 1008.7 824 C1022.4 802.2 1053.1 764 1080 720 C1106.9 676 1150.3 591.7 1170 560 C1189.7 528.3 1193.1 536.7 1198.3 530 C1203.6 523.3 1201.1 523.6 1201.7 520 C1202.2 516.4 1202.5 512.2 1201.7 508.3 C1200.8 504.4 1199.2 499.7 1196.7 496.7 C1194.2 493.6 1190.3 490.8 1186.7 490 C1183.1 489.2 1178.9 490 1175 491.7 C1171.1 493.3 1166.7 496.7 1163.3 500 C1160 503.3 1151.7 513.4 1155 511.7 C1158.3 509.9 1180.8 493.3 1183.3 489.7Z" fill="#fff" stroke="none"/>
<path d="M1183.3 489.7 C1181.1 489.7 1174.2 488.5 1170 489.7 C1165.8 490.8 1161.9 493.6 1158.3 496.7 C1154.7 499.8 1154.7 500 1148.3 508.3 C1142 516.7 1129.5 533.9 1120.1 546.6 C1110.7 559.4 1101.4 572.2 1092 585 C1082.6 597.8 1073.2 610.5 1063.8 623.3 C1054.4 636.1 1045 648.9 1035.7 661.7 C1026.3 674.4 1016.2 687.2 1007.5 700 C998.8 712.8 990.7 726.1 983.3 738.3 C976 750.6 969 763.1 963.3 773.3 C957.7 783.6 953.7 791.1 949.3 800 C945 808.9 941.3 817.1 937.3 826.7 C933.3 836.2 929.1 847.3 925.3 857.3 C921.6 867.3 918 877.1 914.7 886.7 C911.3 896.2 908.2 905.1 905.3 914.7 C902.4 924.2 900 934.2 897.3 944 C894.7 953.8 891.8 964 889.3 973.3 C886.9 982.7 885.4 988.9 882.7 1000 C879.9 1011.1 875.2 1028.3 873 1040 C870.8 1051.7 870 1060 869.6 1070 C869.2 1080 869.4 1090 870.4 1100 C871.4 1110 873 1121 875.6 1130 C878.2 1139 882.3 1147 886 1154 C889.7 1161 893.7 1166.3 898 1172 C902.3 1177.7 907 1183.7 912 1188 C917 1192.3 922.7 1195.3 928 1198 C933.3 1200.7 941.3 1203 944 1204" fill="none" stroke="#000" stroke-width="3.0" />
<path d="M1155 512 C1150.4 518.3 1136.6 537.1 1127.3 549.6 C1118.1 562.1 1108.9 574.7 1099.7 587.2 C1090.5 599.7 1081.2 612.3 1072 624.8 C1062.8 637.3 1053.6 649.9 1044.4 662.4 C1035.1 674.9 1025.3 687.3 1016.7 700 C1008.1 712.7 1000 726.1 992.5 738.3 C985 750.6 977.5 763.1 971.7 773.3 C965.8 783.6 961.7 791.1 957.3 800 C952.9 808.9 949.3 817.1 945.3 826.7 C941.3 836.2 937.1 847.3 933.3 857.3 C929.6 867.3 926.1 876.7 922.7 886.7 C919.2 896.7 915.7 907.8 912.7 917.3 C909.7 926.9 907.3 934.7 904.7 944 C902 953.3 899.1 964 896.7 973.3 C894.2 982.7 893 988.9 890 1000 C887 1011.1 881 1028.3 878.6 1040 C876.2 1051.7 875.8 1060 875.4 1070 C875 1080 875.3 1090.3 876.2 1100 C877.1 1109.7 878.7 1119.5 881 1128 C883.3 1136.5 886.8 1144.7 890 1151 C893.2 1157.3 898.3 1163.5 900 1166" fill="none" stroke="#000" stroke-width="3.0" />
<path d="M1008.7 824 C1006.8 828.4 1001.2 841.3 997.3 850.7 C993.4 860 989.1 870.2 985.3 880 C981.6 889.8 978 899.6 974.7 909.3 C971.3 919.1 968.2 928.9 965.3 938.7 C962.4 948.4 959.8 957.8 957.3 968 C954.9 978.2 953 988 950.7 1000 C948.3 1012 944.9 1028.7 943.4 1040 C941.9 1051.3 941.7 1058 941.6 1068 C941.5 1078 942.4 1090.7 943 1100 C943.6 1109.3 944.7 1120 945 1124" fill="none" stroke="#000" stroke-width="3.0" />
<path d="M945 1126 L942 1128 L948 1130 L949 1144 L946 1148 L953 1150 L955 1164 L952 1168 L959 1170 L960 1182 L959 1186 L964 1182" fill="none" stroke="#000" stroke-width="2.4" />
<path d="M964 1182 C964.7 1182.7 966.8 1184 968 1186 C969.2 1188 971 1191.2 971 1194 C971 1196.8 969.8 1201 968 1203 C966.2 1205 964 1205.8 960 1206 C956 1206.2 946.7 1204.3 944 1204" fill="none" stroke="#000" stroke-width="3.0" />
<path d="M1155 511.7 C1156.4 509.7 1160 503.3 1163.3 500 C1166.7 496.7 1171.1 493.3 1175 491.7 C1178.9 490 1183.1 489.2 1186.7 490 C1190.3 490.8 1194.2 493.6 1196.7 496.7 C1199.2 499.7 1200.8 504.4 1201.7 508.3 C1202.5 512.2 1202.2 516.4 1201.7 520 C1201.1 523.6 1198.9 528.3 1198.3 530" fill="none" stroke="#000" stroke-width="3.0" />
<path d="M1146.7 510.7 L1155 514" fill="none" stroke="#000" stroke-width="1.6" />
<path d="M1003.3 710.8 L1009.2 713.3" fill="none" stroke="#000" stroke-width="1.6" />
<path d="M904.7 915.3 L909.3 918" fill="none" stroke="#000" stroke-width="1.6" />
<ellipse cx="1171.7" cy="528.3" rx="10.5" ry="18.5" transform="rotate(32 1171.7 528.3)" fill="none" stroke="#000" stroke-width="3.0"/>
<ellipse cx="1172.7" cy="527.3" rx="7.5" ry="13.5" transform="rotate(32 1172.7 527.3)" fill="none" stroke="#000" stroke-width="2"/>
<ellipse cx="1144" cy="580" rx="3" ry="5" transform="rotate(30 1144 580)" fill="none" stroke="#000" stroke-width="2"/>
<path d="M1106.7 653.3 C1105.8 651.1 1101.7 644.7 1101.7 640 C1101.7 635.3 1104.2 628.6 1106.7 625 C1109.2 621.4 1113.1 619.2 1116.7 618.3 C1120.3 617.5 1126.4 619.7 1128.3 620" fill="none" stroke="#000" stroke-width="3.0" />
<path d="M1143.3 543.3 L1126.7 568.3" fill="none" stroke="#000" stroke-width="1.5" />
<path d="M1106.7 596 L1098.3 608.3 L1121.7 633.3" fill="none" stroke="#000" stroke-width="1.5" />
<path d="M896 1162 L912 1180 L907 1183 L892 1165" fill="none" stroke="#000" stroke-width="2.2" />
<path d="M1028.3 766.7 L1001.7 752.5 L995.8 759 L978.3 790 L977.5 795 L1005 810" fill="none" stroke="#000" stroke-width="3.0" />
<path d="M1022.5 774 L998.3 760.8 L983.3 785.8 L1008.3 800" fill="none" stroke="#000" stroke-width="2" />
<path d="M983.3 785.8 L978 795" fill="none" stroke="#000" stroke-width="2" />
<path d="M1233.3 517.7 C1236.1 513.7 1224.4 515.4 1220 516.3 C1215.6 517.3 1210.6 519.9 1206.7 523.3 C1202.8 526.7 1202.3 529 1196.7 536.7 C1191.1 544.3 1180.9 558.5 1173 569.4 C1165.1 580.3 1157.2 591.1 1149.3 602 C1141.4 612.9 1133.6 623.8 1125.7 634.7 C1117.8 645.6 1109.9 656.5 1102 667.3 C1094.1 678.2 1087 688.2 1078.3 700 C1069.6 711.8 1058 727.2 1050 738.3 C1042 749.4 1036.4 756.7 1030 766.7 C1023.6 776.7 1015.7 791.1 1011.7 798.3 C1007.6 805.6 1006.9 806.9 1005.8 810 C1004.7 813.1 1004.6 814.4 1005 816.7 C1005.4 818.9 1007.2 821.8 1008.3 823.3 C1009.4 824.9 1005.6 822.1 1011.7 825.8 C1017.8 829.6 1038.3 842.2 1045 845.8 C1051.7 849.4 1049.2 847.9 1051.7 847.5 C1054.2 847.1 1057.5 845.7 1060 843.3 C1062.5 841 1064.2 837.2 1066.7 833.3 C1069.2 829.4 1070 828.3 1075 820 C1080 811.7 1088.9 795.6 1096.7 783.3 C1104.4 771.1 1113.3 757.8 1121.7 746.7 C1130 735.6 1137.2 726.7 1146.7 716.7 C1156.1 706.7 1171.1 694.4 1178.3 686.7 C1185.6 678.9 1188.1 672.8 1190 670 C1191.9 667.2 1187 675.4 1190 670 C1193 664.6 1201.8 648.5 1207.8 637.8 C1213.7 627 1219.6 616.3 1225.5 605.5 C1231.5 594.8 1240.3 578.7 1243.3 573.3 C1246.3 567.9 1242.5 576.1 1243.3 573.3 C1244.2 570.6 1247.2 561.9 1248.3 556.7 C1249.4 551.4 1250.3 546.4 1250 541.7 C1249.7 536.9 1248.6 532.1 1246.7 528.3 C1244.7 524.6 1241.7 521 1238.3 519.3 C1235 517.7 1230.8 517.1 1226.7 518.3 C1222.5 519.6 1217.2 523.1 1213.3 526.7 C1209.4 530.3 1200 541.5 1203.3 540 C1206.7 538.5 1230.6 521.6 1233.3 517.7Z" fill="#fff" stroke="none"/>
<path d="M1233.3 517.7 C1231.1 517.4 1224.4 515.4 1220 516.3 C1215.6 517.3 1210.6 519.9 1206.7 523.3 C1202.8 526.7 1202.3 529 1196.7 536.7 C1191.1 544.3 1180.9 558.5 1173 569.4 C1165.1 580.3 1157.2 591.1 1149.3 602 C1141.4 612.9 1133.6 623.8 1125.7 634.7 C1117.8 645.6 1109.9 656.5 1102 667.3 C1094.1 678.2 1087 688.2 1078.3 700 C1069.6 711.8 1058 727.2 1050 738.3 C1042 749.4 1036.4 756.7 1030 766.7 C1023.6 776.7 1015.7 791.1 1011.7 798.3 C1007.6 805.6 1006.9 806.9 1005.8 810 C1004.7 813.1 1004.6 814.4 1005 816.7 C1005.4 818.9 1007.2 821.8 1008.3 823.3 C1009.4 824.9 1011.1 825.4 1011.7 825.8" fill="none" stroke="#000" stroke-width="3.0" />
<path d="M1011.7 825.8 L1045 845.8" fill="none" stroke="#000" stroke-width="3.0" />
<path d="M1045 845.8 C1046.1 846.1 1049.2 847.9 1051.7 847.5 C1054.2 847.1 1057.5 845.7 1060 843.3 C1062.5 841 1065.6 835 1066.7 833.3" fill="none" stroke="#000" stroke-width="3.0" />
<path d="M1066.7 833.3 C1068.1 831.1 1070 828.3 1075 820 C1080 811.7 1088.9 795.6 1096.7 783.3 C1104.4 771.1 1113.3 757.8 1121.7 746.7 C1130 735.6 1137.2 726.7 1146.7 716.7 C1156.1 706.7 1171.1 694.4 1178.3 686.7 C1185.6 678.9 1185.9 676.8 1190 670 C1194.1 663.2 1200.8 650 1203 646" fill="none" stroke="#000" stroke-width="3.0" />
<path d="M1190 670 L1207.8 637.8 L1225.5 605.5 L1243.3 573.3" fill="none" stroke="#000" stroke-width="3.0" />
<path d="M1203.3 540 C1205 537.8 1209.4 530.3 1213.3 526.7 C1217.2 523.1 1222.5 519.6 1226.7 518.3 C1230.8 517.1 1235 517.7 1238.3 519.3 C1241.7 521 1244.7 524.6 1246.7 528.3 C1248.6 532.1 1249.7 536.9 1250 541.7 C1250.3 546.4 1249.4 551.4 1248.3 556.7 C1247.2 561.9 1244.2 570.6 1243.3 573.3" fill="none" stroke="#000" stroke-width="3.0" />
<path d="M1203.3 540 C1199.4 545.3 1187.9 561.3 1180.1 572 C1172.4 582.7 1164.7 593.3 1157 604 C1149.3 614.7 1141.5 625.3 1133.8 636 C1126.1 646.7 1118.4 657.3 1110.7 668 C1102.9 678.7 1096.2 688.3 1087.5 700 C1078.8 711.7 1066.5 727.2 1058.3 738.3 C1050.1 749.4 1044.7 756.7 1038.3 766.7 C1031.9 776.7 1024 791.1 1020 798.3 C1016 805.6 1015.3 806.9 1014.2 810 C1013.1 813.1 1013.2 814.4 1013.3 816.7 C1013.5 818.9 1014.7 822.2 1015 823.3" fill="none" stroke="#000" stroke-width="3.0" />
<path d="M1196.7 536.7 L1204 540" fill="none" stroke="#000" stroke-width="1.6" />
<path d="M1050.8 737.5 L1057.5 740" fill="none" stroke="#000" stroke-width="1.6" />
<path d="M1008.3 804.2 L1015 806.7" fill="none" stroke="#000" stroke-width="1.6" />
<ellipse cx="1221.7" cy="555" rx="13" ry="20" transform="rotate(30 1221.7 555)" fill="none" stroke="#000" stroke-width="3.0"/>
<ellipse cx="1223.3" cy="554.3" rx="10" ry="15.5" transform="rotate(30 1223.3 554.3)" fill="none" stroke="#000" stroke-width="2"/>
<ellipse cx="1225" cy="555" rx="7.5" ry="12" transform="rotate(30 1225 555)" fill="none" stroke="#000" stroke-width="3.0"/>
<ellipse cx="1225.7" cy="555.7" rx="5.5" ry="9.5" transform="rotate(30 1225.7 555.7)" fill="none" stroke="#000" stroke-width="1.6"/>
<ellipse cx="1192.3" cy="606.7" rx="3" ry="5" transform="rotate(30 1192.3 606.7)" fill="none" stroke="#000" stroke-width="2"/>
<ellipse cx="1165" cy="666.7" rx="13.5" ry="20" transform="rotate(30 1165 666.7)" fill="#fff" stroke="#000" stroke-width="3.0"/>
<ellipse cx="1166" cy="666.7" rx="10" ry="15.5" transform="rotate(30 1166 666.7)" fill="none" stroke="#000" stroke-width="4"/>
<ellipse cx="1166.5" cy="667.2" rx="6.5" ry="10" transform="rotate(30 1166.5 667.2)" fill="none" stroke="#000" stroke-width="2"/>
<polygon points="1162.0,659.6666666666666 1173.0,667.6666666666666 1161.0,673.6666666666666" fill="#000"/>
<path d="M382.3 1114.9 L375.3 1113.9 L368.3 1115.7 L344.3 1128.7 L339.3 1132.7 L337.3 1138.7 L337.3 1138.7 L337.3 1236.7 L337 1289.7 L331.6 1348.7 L321 1407.4 L313 1436.7 L303.6 1467.4 L293.6 1495.4 L282.3 1523.4 L270.3 1550 L259.6 1570 L251.6 1586.7 L228.3 1628.4 L202.6 1665 L187.7 1687.4 L170.1 1709.3 L152.5 1730.1 L134.4 1750.4 L120.8 1766.5 L117.8 1770.7 L117.3 1774.7 L119.3 1779.2 L123.3 1781.2 L128.8 1780.7 L170.3 1756.7 L210.3 1730.7 L250.3 1698.7 L290.3 1662.7 L320.3 1634.7 L342.3 1615.7 L369.3 1590.7 L401 1552 L400.3 1136.7 L399.3 1129.7 L395.3 1121.7 L388.3 1116.7 L380.3 1115.7Z" fill="#fff" stroke="none"/>
<path d="M337.3 1138.7 C337.6 1137.7 338.1 1134.4 339.3 1132.7 C340.5 1131 339.5 1131.5 344.3 1128.7 C349.1 1125.9 363.1 1118.2 368.3 1115.7 C373.5 1113.2 373 1114 375.3 1113.9 C377.6 1113.8 381.1 1114.7 382.3 1114.9" fill="none" stroke="#000" stroke-width="3.0" />
<path d="M343.3 1142.7 C343.6 1141.5 343.8 1137.7 345.3 1135.7 C346.8 1133.7 347.8 1133.5 352.3 1130.7 C356.8 1127.9 367.6 1121.2 372.3 1118.7 C377 1116.2 377.6 1116 380.3 1115.7 C383 1115.4 385.8 1115.7 388.3 1116.7 C390.8 1117.7 393.5 1119.5 395.3 1121.7 C397.1 1123.9 398.5 1127.2 399.3 1129.7 C400.1 1132.2 400.1 1135.5 400.3 1136.7" fill="none" stroke="#000" stroke-width="3.0" />
<path d="M337.3 1138.7 L337.3 1236.7" fill="none" stroke="#000" stroke-width="3.0" />
<path d="M337.3 1138.7 C337.3 1155 337.4 1211.5 337.3 1236.7 C337.2 1261.9 337.9 1271 337 1289.7 C336.1 1308.4 334.3 1329.1 331.6 1348.7 C328.9 1368.3 324.1 1392.7 321 1407.4 C317.9 1422.1 315.9 1426.7 313 1436.7 C310.1 1446.7 306.8 1457.6 303.6 1467.4 C300.4 1477.2 297.2 1486.1 293.6 1495.4 C290.1 1504.7 286.2 1514.3 282.3 1523.4 C278.4 1532.5 274.1 1542.2 270.3 1550 C266.5 1557.8 262.7 1563.9 259.6 1570 C256.5 1576.1 256.8 1577 251.6 1586.7 C246.4 1596.4 236.5 1615.4 228.3 1628.4 C220.1 1641.5 206.9 1658.9 202.6 1665" fill="none" stroke="#000" stroke-width="3.0" />
<path d="M120.8 1766.5 C120.3 1767.2 118.4 1769.3 117.8 1770.7 C117.2 1772.1 117 1773.3 117.3 1774.7 C117.5 1776.1 118.3 1778.1 119.3 1779.2 C120.3 1780.3 121.7 1781 123.3 1781.2 C124.9 1781.5 127.9 1780.8 128.8 1780.7" fill="none" stroke="#000" stroke-width="3.0" />
<path d="M343.3 1142.7 C343.4 1158.6 343.8 1213.5 343.9 1238.2 C343.9 1263 344.5 1272.5 343.6 1291.2 C342.6 1309.9 340.9 1330.6 338.2 1350.2 C335.5 1369.8 330.7 1394.2 327.6 1408.9 C324.5 1423.6 322.5 1428.2 319.6 1438.2 C316.7 1448.2 313.4 1459.1 310.2 1468.9 C307 1478.7 303.8 1487.6 300.2 1496.9 C296.6 1506.2 292.8 1515.8 288.9 1524.9 C285 1534 280.7 1543.7 276.9 1551.5 C273.1 1559.3 269.3 1565.4 266.2 1571.5 C263.1 1577.6 263.5 1578.1 258.2 1588.2 C252.9 1598.3 242.6 1618.6 234.3 1632 C226 1645.4 212.5 1662.7 208.2 1668.8" fill="none" stroke="#000" stroke-width="2.6" />
<path d="M128.8 1780.7 C135.7 1776.7 156.7 1765 170.3 1756.7 C183.9 1748.4 197 1740.4 210.3 1730.7 C223.6 1721 237 1710 250.3 1698.7 C263.6 1687.4 278.6 1673.4 290.3 1662.7 C302 1652 311.6 1642.5 320.3 1634.7 C329 1626.9 334.1 1623 342.3 1615.7 C350.5 1608.4 359.5 1601.3 369.3 1590.7 C379.1 1580.1 395.7 1558.5 401 1552" fill="none" stroke="#000" stroke-width="3.0" />
<path d="M401 1552 L400.3 1136.7" fill="none" stroke="#000" stroke-width="3.0" />
<path d="M139.7 1753.6 L152.5 1730.1 L158.1 1733.9 L145.3 1757.4Z" fill="#fff" stroke="#000" stroke-width="2.7" stroke-linejoin="round"/>
<path d="M158.9 1735.4 L170.1 1709.3 L175.7 1713.1 L164.5 1739.2Z" fill="#fff" stroke="#000" stroke-width="2.7" stroke-linejoin="round"/>
<path d="M176 1713.6 L187.7 1687.4 L193.3 1691.2 L181.6 1717.4Z" fill="#fff" stroke="#000" stroke-width="2.7" stroke-linejoin="round"/>
<path d="M194.1 1692.2 L202.6 1665 L208.2 1668.8 L199.7 1696Z" fill="#fff" stroke="#000" stroke-width="2.7" stroke-linejoin="round"/>
<path d="M120.8 1766.5 L134.4 1750.4 L139.7 1753.6 L126.8 1768.2" fill="none" stroke="#000" stroke-width="2.7" />
<path d="M126.8 1768.2 C126.5 1769 125 1771.1 124.8 1772.7 C124.6 1774.3 125.2 1776.5 125.8 1777.7 C126.4 1779 127.9 1779.8 128.3 1780.2" fill="none" stroke="#000" stroke-width="2.2" />
<path d="M337.3 1140.7 L343.3 1143.7" fill="none" stroke="#000" stroke-width="1.6" />
<path d="M368.3 1115.7 L372.3 1118.7" fill="none" stroke="#000" stroke-width="1.6" />
<path d="M331.6 1348.7 L338.3 1350.7" fill="none" stroke="#000" stroke-width="1.6" />
<ellipse cx="372.8" cy="1151.2" rx="11" ry="18.5" transform="rotate(32 372.8 1151.2)" fill="none" stroke="#000" stroke-width="3.0"/>
<ellipse cx="373.3" cy="1150.7" rx="7.5" ry="13" transform="rotate(32 373.3 1150.7)" fill="none" stroke="#000" stroke-width="2"/>
<ellipse cx="389.6" cy="1183.2" rx="3.2" ry="5.5" transform="rotate(30 389.6 1183.2)" fill="none" stroke="#000" stroke-width="2.2"/>
<path d="M397.3 1271.5 L397.3 1458.7 L398.3 1462.7 L395.3 1465.7 L324.3 1505.7 L318.8 1509.7 L316.8 1515.7 L316.8 1599.7 L317.8 1604.7 L321.3 1606.7 L410 1655.5 L406.5 1653.5 L405.5 1648.5 L405.5 1564.5 L407.5 1558.5 L413 1554.5 L484 1514.5 L487 1511.5 L486 1507.5 L486 1320.3Z" fill="#fff" stroke="none"/>
<path d="M397.3 1271.5 L397.3 1458.7" fill="none" stroke="#000" stroke-width="1.8" />
<path d="M397.3 1458.7 C397.5 1459.4 398.6 1461.5 398.3 1462.7 C398 1463.9 395.8 1465.2 395.3 1465.7" fill="none" stroke="#000" stroke-width="1.8" />
<path d="M394.1 1339.7 L394.1 1370.7 L400.5 1370.7 L400.5 1339.7Z" fill="#fff" stroke="#000" stroke-width="2" stroke-linejoin="round"/>
<path d="M394.1 1436.7 L394.1 1460.7 L400.5 1460.7 L400.5 1436.7Z" fill="#fff" stroke="#000" stroke-width="2" stroke-linejoin="round"/>
<path d="M395.3 1465.7 L324.3 1505.2" fill="none" stroke="#000" stroke-width="3.0" />
<path d="M398.3 1469.7 L328.3 1509.2" fill="none" stroke="#000" stroke-width="2.4" />
<path d="M324.3 1505.2 C323.3 1506.1 319.6 1508.4 318.3 1510.7 C317 1513 316.6 1517.8 316.3 1519.2" fill="none" stroke="#000" stroke-width="3.0" />
<path d="M328.3 1509.2 C327.6 1510 325.1 1512.3 324.3 1514.2 C323.6 1516.1 323.9 1519.6 323.8 1520.7" fill="none" stroke="#000" stroke-width="2.4" />
<path d="M316.3 1519.2 L316.3 1599.7" fill="none" stroke="#000" stroke-width="3.0" />
<path d="M323.8 1520.7 L323.8 1601.7" fill="none" stroke="#000" stroke-width="2.4" />
<path d="M316.3 1599.7 C316.5 1600.6 316.5 1604 317.3 1605.2 C318.1 1606.5 320 1607.2 321.3 1607.2 C322.6 1607.2 324.6 1605.5 325.3 1605.2" fill="none" stroke="#000" stroke-width="3.0" />
<path d="M316.3 1519.2 L323.8 1520.7" fill="none" stroke="#000" stroke-width="1.6" />
<path d="M396.3 1464.7 L476.1 1508.6" fill="none" stroke="#000" stroke-width="2.2" />
<path d="M326.6 1510.4 L406.4 1554.3" fill="none" stroke="#000" stroke-width="2.2" />
<path d="M323.9 1519.7 L403.7 1563.6" fill="none" stroke="#000" stroke-width="2.2" />
<path d="M323.9 1603.2 L377.1 1632.5" fill="none" stroke="#000" stroke-width="3.6" />
<path d="M376.8 1210.6 L372.8 1211.6 L368.8 1215.1 L352.8 1241.6 L351.8 1247.1 L356.8 1251.6 L362.8 1255.1 L451 1302.7 L451 1253.7Z" fill="#fff" stroke="none"/>
<path d="M376.8 1210.6 C376.1 1210.8 374.1 1210.9 372.8 1211.6 C371.5 1212.4 372.1 1210.1 368.8 1215.1 C365.5 1220.1 355.6 1236.3 352.8 1241.6 C350 1247 351.1 1245.5 351.8 1247.1 C352.5 1248.8 355 1250.3 356.8 1251.6 C358.6 1253 361.8 1254.5 362.8 1255.1" fill="none" stroke="#000" stroke-width="3.0" />
<path d="M373.8 1216.6 C373.1 1217.1 372.7 1215.4 369.8 1219.6 C366.9 1223.9 358.6 1237.6 356.3 1242.1 C354 1246.6 355.9 1245.9 355.8 1246.6" fill="none" stroke="#000" stroke-width="2" />
<path d="M377.8 1211.2 L451 1253.7" fill="none" stroke="#000" stroke-width="3.0" />
<path d="M372.8 1217.8 L451 1263.2" fill="none" stroke="#000" stroke-width="2.2" />
<path d="M357.8 1241.1 L451 1295.2" fill="none" stroke="#000" stroke-width="2.2" />
<path d="M356.8 1248 L451 1302.7" fill="none" stroke="#000" stroke-width="3.0" />
<path d="M471 1163.7 L464 1162.7 L457 1164.5 L433 1177.5 L428 1181.5 L426 1187.5 L426 1187.5 L426 1285.5 L425.7 1338.5 L420.3 1397.5 L409.7 1456.2 L401.7 1485.5 L392.3 1516.2 L382.3 1544.2 L371 1572.2 L359 1598.8 L348.3 1618.8 L340.3 1635.5 L317 1677.2 L291.3 1713.8 L276.4 1736.2 L258.8 1758.1 L241.2 1778.9 L223.1 1799.2 L209.5 1815.3 L206.5 1819.5 L206 1823.5 L208 1828 L212 1830 L217.5 1829.5 L259 1805.5 L299 1779.5 L339 1747.5 L379 1711.5 L409 1683.5 L431 1664.5 L458 1639.5 L489.7 1600.8 L489 1185.5 L488 1178.5 L484 1170.5 L477 1165.5 L469 1164.5Z" fill="#fff" stroke="none"/>
<path d="M426 1187.5 C426.3 1186.5 426.8 1183.2 428 1181.5 C429.2 1179.8 428.2 1180.3 433 1177.5 C437.8 1174.7 451.8 1167 457 1164.5 C462.2 1162 461.7 1162.8 464 1162.7 C466.3 1162.6 469.8 1163.5 471 1163.7" fill="none" stroke="#000" stroke-width="3.0" />
<path d="M432 1191.5 C432.3 1190.3 432.5 1186.5 434 1184.5 C435.5 1182.5 436.5 1182.3 441 1179.5 C445.5 1176.7 456.3 1170 461 1167.5 C465.7 1165 466.3 1164.8 469 1164.5 C471.7 1164.2 474.5 1164.5 477 1165.5 C479.5 1166.5 482.2 1168.3 484 1170.5 C485.8 1172.7 487.2 1176 488 1178.5 C488.8 1181 488.8 1184.3 489 1185.5" fill="none" stroke="#000" stroke-width="3.0" />
<path d="M426 1187.5 L426 1285.5" fill="none" stroke="#000" stroke-width="3.0" />
<path d="M426 1187.5 C426 1203.8 426.1 1260.3 426 1285.5 C425.9 1310.7 426.6 1319.8 425.7 1338.5 C424.8 1357.2 423 1377.9 420.3 1397.5 C417.6 1417.1 412.8 1441.5 409.7 1456.2 C406.6 1470.9 404.6 1475.5 401.7 1485.5 C398.8 1495.5 395.5 1506.4 392.3 1516.2 C389.1 1526 385.9 1534.9 382.3 1544.2 C378.8 1553.5 374.9 1563.1 371 1572.2 C367.1 1581.3 362.8 1591 359 1598.8 C355.2 1606.6 351.4 1612.7 348.3 1618.8 C345.2 1624.9 345.5 1625.8 340.3 1635.5 C335.1 1645.2 325.2 1664.2 317 1677.2 C308.8 1690.2 295.6 1707.7 291.3 1713.8" fill="none" stroke="#000" stroke-width="3.0" />
<path d="M209.5 1815.3 C209 1816 207.1 1818.1 206.5 1819.5 C205.9 1820.9 205.8 1822.1 206 1823.5 C206.2 1824.9 207 1826.9 208 1828 C209 1829.1 210.4 1829.8 212 1830 C213.6 1830.2 216.6 1829.6 217.5 1829.5" fill="none" stroke="#000" stroke-width="3.0" />
<path d="M432 1191.5 C432.1 1207.4 432.6 1262.2 432.6 1287 C432.7 1311.8 433.2 1321.3 432.3 1340 C431.3 1358.7 429.6 1379.4 426.9 1399 C424.2 1418.6 419.4 1443 416.3 1457.7 C413.2 1472.4 411.2 1477 408.3 1487 C405.4 1497 402.1 1507.9 398.9 1517.7 C395.7 1527.5 392.4 1536.4 388.9 1545.7 C385.3 1555 381.5 1564.6 377.6 1573.7 C373.7 1582.8 369.4 1592.5 365.6 1600.3 C361.8 1608.1 358 1614.2 354.9 1620.3 C351.8 1626.4 352.2 1626.9 346.9 1637 C341.6 1647.1 331.3 1667.4 323 1680.8 C314.7 1694.2 301.2 1711.5 296.9 1717.6" fill="none" stroke="#000" stroke-width="2.6" />
<path d="M217.5 1829.5 C224.4 1825.5 245.4 1813.8 259 1805.5 C272.6 1797.2 285.7 1789.2 299 1779.5 C312.3 1769.8 325.7 1758.8 339 1747.5 C352.3 1736.2 367.3 1722.2 379 1711.5 C390.7 1700.8 400.3 1691.3 409 1683.5 C417.7 1675.7 422.8 1671.8 431 1664.5 C439.2 1657.2 448.2 1650.1 458 1639.5 C467.8 1628.9 484.4 1607.2 489.7 1600.8" fill="none" stroke="#000" stroke-width="3.0" />
<path d="M489.7 1600.8 L489 1185.5" fill="none" stroke="#000" stroke-width="3.0" />
<path d="M228.4 1802.4 L241.2 1778.9 L246.8 1782.7 L234 1806.2Z" fill="#fff" stroke="#000" stroke-width="2.7" stroke-linejoin="round"/>
<path d="M247.6 1784.2 L258.8 1758.1 L264.4 1761.9 L253.2 1788Z" fill="#fff" stroke="#000" stroke-width="2.7" stroke-linejoin="round"/>
<path d="M264.7 1762.4 L276.4 1736.2 L282 1740 L270.3 1766.2Z" fill="#fff" stroke="#000" stroke-width="2.7" stroke-linejoin="round"/>
<path d="M282.8 1741 L291.3 1713.8 L296.9 1717.6 L288.4 1744.8Z" fill="#fff" stroke="#000" stroke-width="2.7" stroke-linejoin="round"/>
<path d="M209.5 1815.3 L223.1 1799.2 L228.4 1802.4 L215.5 1817" fill="none" stroke="#000" stroke-width="2.7" />
<path d="M215.5 1817 C215.2 1817.8 213.7 1819.9 213.5 1821.5 C213.3 1823.1 213.9 1825.2 214.5 1826.5 C215.1 1827.8 216.6 1828.6 217 1829" fill="none" stroke="#000" stroke-width="2.2" />
<path d="M426 1189.5 L432 1192.5" fill="none" stroke="#000" stroke-width="1.6" />
<path d="M457 1164.5 L461 1167.5" fill="none" stroke="#000" stroke-width="1.6" />
<path d="M420.3 1397.5 L427 1399.5" fill="none" stroke="#000" stroke-width="1.6" />
<ellipse cx="462" cy="1202.5" rx="15.5" ry="23" transform="rotate(30 462 1202.5)" fill="none" stroke="#000" stroke-width="3.0"/>
<ellipse cx="463.5" cy="1202" rx="11.5" ry="18" transform="rotate(30 463.5 1202)" fill="none" stroke="#000" stroke-width="2"/>
<ellipse cx="465.5" cy="1203" rx="9" ry="14" transform="rotate(30 465.5 1203)" fill="none" stroke="#000" stroke-width="3.0"/>
<ellipse cx="466" cy="1203.5" rx="6.5" ry="11" transform="rotate(30 466 1203.5)" fill="none" stroke="#000" stroke-width="1.6"/>
<ellipse cx="478.3" cy="1232" rx="3.2" ry="5.5" transform="rotate(30 478.3 1232)" fill="none" stroke="#000" stroke-width="2.2"/>
<path d="M486 1323 L486 1507.5 L487 1511.5 L484 1514.5 L413 1554.5 L407.5 1558.5 L405.5 1564.5 L405.5 1648.5 L406.5 1653.5 L410 1655.5 L507.3 1712 L503.8 1710 L502.8 1705 L502.8 1621 L504.8 1615 L510.3 1611 L581.3 1571 L584.3 1568 L583.3 1564 L583.3 1379.5Z" fill="#fff" stroke="none"/>
<path d="M486 1323 L486 1507.5" fill="none" stroke="#000" stroke-width="1.8" />
<path d="M486 1507.5 C486.2 1508.2 487.3 1510.3 487 1511.5 C486.7 1512.7 484.5 1514 484 1514.5" fill="none" stroke="#000" stroke-width="1.8" />
<path d="M484 1514.5 L413 1554.5" fill="none" stroke="#000" stroke-width="1.8" />
<path d="M413 1554.5 C412.1 1555.2 408.8 1556.8 407.5 1558.5 C406.2 1560.2 405.8 1563.5 405.5 1564.5" fill="none" stroke="#000" stroke-width="2.2" />
<path d="M408.6 1564.5 L408.6 1648.5" fill="none" stroke="#000" stroke-width="1.8" />
<path d="M404.8 1648.5 C404.9 1649.5 404.8 1653.1 405.5 1654.5 C406.2 1655.9 407.8 1656.9 409 1657 C410.2 1657.1 412.3 1655.3 413 1655" fill="none" stroke="#000" stroke-width="2.4" />
<path d="M482.8 1388.5 L482.8 1419.5 L489.2 1419.5 L489.2 1388.5Z" fill="#fff" stroke="#000" stroke-width="2" stroke-linejoin="round"/>
<path d="M482.8 1485.5 L482.8 1509.5 L489.2 1509.5 L489.2 1485.5Z" fill="#fff" stroke="#000" stroke-width="2" stroke-linejoin="round"/>
<path d="M479.1 1513.7 L463.1 1522.2 L466.1 1527.8 L482.1 1519.3Z" fill="#fff" stroke="#000" stroke-width="2" stroke-linejoin="round"/>
<path d="M435 1538.2 L413.7 1550.2 L416.9 1555.8 L438.2 1543.8Z" fill="#fff" stroke="#000" stroke-width="2" stroke-linejoin="round"/>
<path d="M405.4 1567.2 L405.4 1589.9 L411.8 1589.9 L411.8 1567.2Z" fill="#fff" stroke="#000" stroke-width="2" stroke-linejoin="round"/>
<path d="M405.4 1627.2 L405.4 1648.5 L411.8 1648.5 L411.8 1627.2Z" fill="#fff" stroke="#000" stroke-width="2" stroke-linejoin="round"/>
<path d="M485 1513.5 L572.6 1564.3" fill="none" stroke="#000" stroke-width="2.2" />
<path d="M415.3 1559.2 L502.9 1610" fill="none" stroke="#000" stroke-width="2.2" />
<path d="M412.6 1568.5 L500.2 1619.3" fill="none" stroke="#000" stroke-width="2.2" />
<path d="M412.6 1652 L471 1685.9" fill="none" stroke="#000" stroke-width="3.6" />
<path d="M465.5 1262.1 L461.5 1263.1 L457.5 1266.6 L441.5 1293.1 L440.5 1298.6 L445.5 1303.1 L451.5 1306.6 L548.3 1359.1 L548.3 1310.1Z" fill="#fff" stroke="none"/>
<path d="M465.5 1262.1 C464.8 1262.2 462.8 1262.3 461.5 1263.1 C460.2 1263.8 460.8 1261.6 457.5 1266.6 C454.2 1271.6 444.3 1287.7 441.5 1293.1 C438.7 1298.4 439.8 1296.9 440.5 1298.6 C441.2 1300.2 443.7 1301.7 445.5 1303.1 C447.3 1304.4 450.5 1306 451.5 1306.6" fill="none" stroke="#000" stroke-width="3.0" />
<path d="M462.5 1268.1 C461.8 1268.6 461.4 1266.8 458.5 1271.1 C455.6 1275.3 447.3 1289.1 445 1293.6 C442.7 1298.1 444.6 1297.3 444.5 1298.1" fill="none" stroke="#000" stroke-width="2" />
<path d="M466.5 1262.7 L548.3 1310.1" fill="none" stroke="#000" stroke-width="3.0" />
<path d="M461.5 1269.3 L548.3 1319.6" fill="none" stroke="#000" stroke-width="2.2" />
<path d="M446.5 1292.6 L548.3 1351.6" fill="none" stroke="#000" stroke-width="2.2" />
<path d="M445.5 1299.5 L548.3 1359.1" fill="none" stroke="#000" stroke-width="3.0" />
<path d="M580.3 1299.7 L573.8 1297.7 L566 1298.3 L542 1311.3 L534 1316.3 L527 1326.3 L524 1340.3 L524 1340.3 L523 1395 L517.6 1454 L507 1512.7 L499 1542 L489.6 1572.7 L479.6 1600.7 L468.3 1628.7 L456.3 1655.3 L445.6 1675.3 L437.6 1692 L414.3 1733.7 L388.6 1770.3 L373.7 1792.7 L356.1 1814.6 L338.5 1835.4 L320.4 1855.7 L306.8 1871.8 L303.8 1876 L303.3 1880 L305.3 1884.5 L309.3 1886.5 L314.8 1886 L356.3 1862 L396.3 1836 L436.3 1804 L476.3 1768 L506.3 1740 L528.3 1721 L555.3 1696 L587 1657.3 L587 1314.3 L586 1306.3 L580 1300.3Z" fill="#fff" stroke="none"/>
<path d="M524 1340.3 C524.5 1338 525.3 1330.3 527 1326.3 C528.7 1322.3 531.5 1318.8 534 1316.3 C536.5 1313.8 536.7 1314.3 542 1311.3 C547.3 1308.3 560.7 1300.6 566 1298.3 C571.3 1296 571.4 1297.5 573.8 1297.7 C576.2 1297.9 579.2 1299.4 580.3 1299.7" fill="none" stroke="#000" stroke-width="3.0" />
<path d="M531 1344.3 C531.5 1342 532.5 1334.1 534 1330.3 C535.5 1326.5 537.7 1323.6 540 1321.3 C542.3 1319 542.7 1319.8 548 1316.3 C553.3 1312.8 566.7 1303 572 1300.3 C577.3 1297.6 577.7 1299.3 580 1300.3 C582.3 1301.3 584.8 1304 586 1306.3 C587.2 1308.6 586.8 1313 587 1314.3" fill="none" stroke="#000" stroke-width="3.0" />
<path d="M524 1340.3 L524 1340.3" fill="none" stroke="#000" stroke-width="3.0" />
<path d="M524 1340.3 C523.8 1349.4 524.1 1376 523 1395 C521.9 1414 520.3 1434.4 517.6 1454 C514.9 1473.6 510.1 1498 507 1512.7 C503.9 1527.4 501.9 1532 499 1542 C496.1 1552 492.8 1562.9 489.6 1572.7 C486.4 1582.5 483.2 1591.4 479.6 1600.7 C476.1 1610 472.2 1619.6 468.3 1628.7 C464.4 1637.8 460.1 1647.5 456.3 1655.3 C452.5 1663.1 448.7 1669.2 445.6 1675.3 C442.5 1681.4 442.8 1682.3 437.6 1692 C432.4 1701.7 422.5 1720.7 414.3 1733.7 C406.1 1746.8 392.9 1764.2 388.6 1770.3" fill="none" stroke="#000" stroke-width="3.0" />
<path d="M306.8 1871.8 C306.3 1872.5 304.4 1874.6 303.8 1876 C303.2 1877.4 303.1 1878.6 303.3 1880 C303.6 1881.4 304.3 1883.4 305.3 1884.5 C306.3 1885.6 307.7 1886.2 309.3 1886.5 C310.9 1886.8 313.9 1886.1 314.8 1886" fill="none" stroke="#000" stroke-width="3.0" />
<path d="M531 1344.3 C530.8 1344.2 530.1 1334.8 529.9 1343.5 C529.7 1352.2 530.5 1377.8 529.6 1396.5 C528.7 1415.2 526.9 1435.9 524.2 1455.5 C521.5 1475.1 516.7 1499.5 513.6 1514.2 C510.5 1528.9 508.5 1533.5 505.6 1543.5 C502.7 1553.5 499.4 1564.4 496.2 1574.2 C493 1584 489.8 1592.9 486.2 1602.2 C482.7 1611.5 478.8 1621.1 474.9 1630.2 C471 1639.3 466.7 1649 462.9 1656.8 C459.1 1664.6 455.3 1670.7 452.2 1676.8 C449.1 1682.9 449.5 1683.4 444.2 1693.5 C438.9 1703.6 428.6 1723.9 420.3 1737.3 C412 1750.7 398.6 1768 394.2 1774.1" fill="none" stroke="#000" stroke-width="2.6" />
<path d="M314.8 1886 C321.7 1882 342.7 1870.3 356.3 1862 C369.9 1853.7 383 1845.7 396.3 1836 C409.6 1826.3 423 1815.3 436.3 1804 C449.6 1792.7 464.6 1778.7 476.3 1768 C488 1757.3 497.6 1747.8 506.3 1740 C515 1732.2 520.1 1728.3 528.3 1721 C536.5 1713.7 545.5 1706.6 555.3 1696 C565.1 1685.4 581.7 1663.8 587 1657.3" fill="none" stroke="#000" stroke-width="3.0" />
<path d="M587 1657.3 L587 1314.3" fill="none" stroke="#000" stroke-width="3.0" />
<path d="M325.7 1858.9 L338.5 1835.4 L344.1 1839.2 L331.3 1862.7Z" fill="#fff" stroke="#000" stroke-width="2.7" stroke-linejoin="round"/>
<path d="M344.9 1840.7 L356.1 1814.6 L361.7 1818.4 L350.5 1844.5Z" fill="#fff" stroke="#000" stroke-width="2.7" stroke-linejoin="round"/>
<path d="M362 1818.9 L373.7 1792.7 L379.3 1796.5 L367.6 1822.7Z" fill="#fff" stroke="#000" stroke-width="2.7" stroke-linejoin="round"/>
<path d="M380.1 1797.5 L388.6 1770.3 L394.2 1774.1 L385.7 1801.3Z" fill="#fff" stroke="#000" stroke-width="2.7" stroke-linejoin="round"/>
<path d="M306.8 1871.8 L320.4 1855.7 L325.7 1858.9 L312.8 1873.5" fill="none" stroke="#000" stroke-width="2.7" />
<path d="M312.8 1873.5 C312.5 1874.2 311 1876.4 310.8 1878 C310.6 1879.6 311.2 1881.8 311.8 1883 C312.4 1884.2 313.9 1885.1 314.3 1885.5" fill="none" stroke="#000" stroke-width="2.2" />
<path d="M524 1342.3 L531 1345.3" fill="none" stroke="#000" stroke-width="1.6" />
<path d="M542 1311.3 L548 1316.3" fill="none" stroke="#000" stroke-width="1.6" />
<path d="M517.6 1454 L524.3 1456" fill="none" stroke="#000" stroke-width="1.6" />
<path d="M583.3 1379.4 L583.3 1564 L584.3 1568 L581.3 1571 L510.3 1611 L504.8 1615 L502.8 1621 L502.8 1705 L503.8 1710 L507.3 1712 L594 1762 L590.5 1760 L589.5 1755 L589.5 1671 L591.5 1665 L597 1661 L668 1621 L671 1618 L670 1614 L670 1429.4Z" fill="#fff" stroke="none"/>
<path d="M583.3 1379.4 L583.3 1564" fill="none" stroke="#000" stroke-width="1.8" />
<path d="M583.3 1564 C583.5 1564.7 584.6 1566.8 584.3 1568 C584 1569.2 581.8 1570.5 581.3 1571" fill="none" stroke="#000" stroke-width="1.8" />
<path d="M581.3 1571 L510.3 1611" fill="none" stroke="#000" stroke-width="1.8" />
<path d="M510.3 1611 C509.4 1611.7 506.1 1613.3 504.8 1615 C503.6 1616.7 503.1 1620 502.8 1621" fill="none" stroke="#000" stroke-width="2.2" />
<path d="M505.9 1621 L505.9 1705" fill="none" stroke="#000" stroke-width="1.8" />
<path d="M502.1 1705 C502.2 1706 502.1 1709.6 502.8 1711 C503.5 1712.4 505.1 1713.4 506.3 1713.5 C507.6 1713.6 509.6 1711.8 510.3 1711.5" fill="none" stroke="#000" stroke-width="2.4" />
<path d="M580.1 1445 L580.1 1476 L586.5 1476 L586.5 1445Z" fill="#fff" stroke="#000" stroke-width="2" stroke-linejoin="round"/>
<path d="M580.1 1542 L580.1 1566 L586.5 1566 L586.5 1542Z" fill="#fff" stroke="#000" stroke-width="2" stroke-linejoin="round"/>
<path d="M576.4 1570.2 L560.4 1578.7 L563.4 1584.3 L579.4 1575.8Z" fill="#fff" stroke="#000" stroke-width="2" stroke-linejoin="round"/>
<path d="M532.3 1594.7 L511 1606.7 L514.2 1612.3 L535.5 1600.3Z" fill="#fff" stroke="#000" stroke-width="2" stroke-linejoin="round"/>
<path d="M502.7 1623.7 L502.7 1646.4 L509.1 1646.4 L509.1 1623.7Z" fill="#fff" stroke="#000" stroke-width="2" stroke-linejoin="round"/>
<path d="M502.7 1683.7 L502.7 1705 L509.1 1705 L509.1 1683.7Z" fill="#fff" stroke="#000" stroke-width="2" stroke-linejoin="round"/>
<path d="M582.3 1570 L660.3 1615" fill="none" stroke="#000" stroke-width="2.2" />
<path d="M512.6 1615.7 L590.6 1660.7" fill="none" stroke="#000" stroke-width="2.2" />
<path d="M509.9 1625 L587.9 1670" fill="none" stroke="#000" stroke-width="2.2" />
<path d="M509.9 1708.5 L561.9 1738.5" fill="none" stroke="#000" stroke-width="3.6" />
<path d="M562.8 1318.5 L558.8 1319.5 L554.8 1323 L538.8 1349.5 L537.8 1355 L542.8 1359.5 L548.8 1363 L635 1409.4 L635 1360.4Z" fill="#fff" stroke="none"/>
<path d="M562.8 1318.5 C562.1 1318.7 560.1 1318.8 558.8 1319.5 C557.5 1320.3 558.1 1318 554.8 1323 C551.5 1328 541.6 1344.2 538.8 1349.5 C536 1354.8 537.1 1353.3 537.8 1355 C538.5 1356.7 541 1358.2 542.8 1359.5 C544.6 1360.8 547.8 1362.4 548.8 1363" fill="none" stroke="#000" stroke-width="3.0" />
<path d="M559.8 1324.5 C559.1 1325 558.7 1323.3 555.8 1327.5 C552.9 1331.8 544.6 1345.5 542.3 1350 C540 1354.5 541.9 1353.8 541.8 1354.5" fill="none" stroke="#000" stroke-width="2" />
<path d="M563.8 1319.1 L635 1360.4" fill="none" stroke="#000" stroke-width="3.0" />
<path d="M558.8 1325.7 L635 1369.9" fill="none" stroke="#000" stroke-width="2.2" />
<path d="M543.8 1349 L635 1401.9" fill="none" stroke="#000" stroke-width="2.2" />
<path d="M542.8 1355.9 L635 1409.4" fill="none" stroke="#000" stroke-width="3.0" />
<path d="M667 1349.7 L660.5 1347.7 L652.7 1348.3 L628.7 1361.3 L620.7 1366.3 L613.7 1376.3 L610.7 1390.3 L610.7 1390.3 L609.7 1445 L604.3 1504 L593.7 1562.7 L585.7 1592 L576.3 1622.7 L566.3 1650.7 L555 1678.7 L543 1705.3 L532.3 1725.3 L524.3 1742 L501 1783.7 L475.3 1820.3 L460.4 1842.7 L442.8 1864.6 L425.2 1885.4 L407.1 1905.7 L393.5 1921.8 L390.5 1926 L390 1930 L392 1934.5 L396 1936.5 L401.5 1936 L443 1912 L483 1886 L523 1854 L563 1818 L593 1790 L615 1771 L642 1746 L673.7 1707.3 L673.7 1364.3 L672.7 1356.3 L666.7 1350.3Z" fill="#fff" stroke="none"/>
<path d="M610.7 1390.3 C611.2 1388 612 1380.3 613.7 1376.3 C615.4 1372.3 618.2 1368.8 620.7 1366.3 C623.2 1363.8 623.4 1364.3 628.7 1361.3 C634 1358.3 647.4 1350.6 652.7 1348.3 C658 1346 658.1 1347.5 660.5 1347.7 C662.9 1347.9 665.9 1349.4 667 1349.7" fill="none" stroke="#000" stroke-width="3.0" />
<path d="M617.7 1394.3 C618.2 1392 619.2 1384.1 620.7 1380.3 C622.2 1376.5 624.4 1373.6 626.7 1371.3 C629 1369 629.4 1369.8 634.7 1366.3 C640 1362.8 653.4 1353 658.7 1350.3 C664 1347.6 664.4 1349.3 666.7 1350.3 C669 1351.3 671.5 1354 672.7 1356.3 C673.9 1358.6 673.5 1363 673.7 1364.3" fill="none" stroke="#000" stroke-width="3.0" />
<path d="M610.7 1390.3 L610.7 1390.3" fill="none" stroke="#000" stroke-width="3.0" />
<path d="M610.7 1390.3 C610.5 1399.4 610.8 1426 609.7 1445 C608.6 1464 607 1484.4 604.3 1504 C601.6 1523.6 596.8 1548 593.7 1562.7 C590.6 1577.4 588.6 1582 585.7 1592 C582.8 1602 579.5 1612.9 576.3 1622.7 C573.1 1632.5 569.8 1641.4 566.3 1650.7 C562.8 1660 558.9 1669.6 555 1678.7 C551.1 1687.8 546.8 1697.5 543 1705.3 C539.2 1713.1 535.4 1719.2 532.3 1725.3 C529.2 1731.4 529.5 1732.3 524.3 1742 C519.1 1751.7 509.2 1770.7 501 1783.7 C492.8 1796.8 479.6 1814.2 475.3 1820.3" fill="none" stroke="#000" stroke-width="3.0" />
<path d="M393.5 1921.8 C393 1922.5 391.1 1924.6 390.5 1926 C389.9 1927.4 389.8 1928.6 390 1930 C390.2 1931.4 391 1933.4 392 1934.5 C393 1935.6 394.4 1936.2 396 1936.5 C397.6 1936.8 400.6 1936.1 401.5 1936" fill="none" stroke="#000" stroke-width="3.0" />
<path d="M617.7 1394.3 C617.5 1394.2 616.8 1384.8 616.6 1393.5 C616.4 1402.2 617.2 1427.8 616.3 1446.5 C615.3 1465.2 613.6 1485.9 610.9 1505.5 C608.2 1525.1 603.4 1549.5 600.3 1564.2 C597.2 1578.9 595.2 1583.5 592.3 1593.5 C589.4 1603.5 586.1 1614.4 582.9 1624.2 C579.7 1634 576.4 1642.9 572.9 1652.2 C569.4 1661.5 565.5 1671.1 561.6 1680.2 C557.7 1689.3 553.4 1699 549.6 1706.8 C545.8 1714.6 542 1720.7 538.9 1726.8 C535.8 1732.9 536.2 1733.4 530.9 1743.5 C525.6 1753.6 515.3 1773.9 507 1787.3 C498.7 1800.7 485.2 1818 480.9 1824.1" fill="none" stroke="#000" stroke-width="2.6" />
<path d="M401.5 1936 C408.4 1932 429.4 1920.3 443 1912 C456.6 1903.7 469.7 1895.7 483 1886 C496.3 1876.3 509.7 1865.3 523 1854 C536.3 1842.7 551.3 1828.7 563 1818 C574.7 1807.3 584.3 1797.8 593 1790 C601.7 1782.2 606.8 1778.3 615 1771 C623.2 1763.7 632.2 1756.6 642 1746 C651.8 1735.4 668.4 1713.8 673.7 1707.3" fill="none" stroke="#000" stroke-width="3.0" />
<path d="M673.7 1707.3 L673.7 1364.3" fill="none" stroke="#000" stroke-width="3.0" />
<path d="M412.4 1908.9 L425.2 1885.4 L430.8 1889.2 L418 1912.7Z" fill="#fff" stroke="#000" stroke-width="2.7" stroke-linejoin="round"/>
<path d="M431.6 1890.7 L442.8 1864.6 L448.4 1868.4 L437.2 1894.5Z" fill="#fff" stroke="#000" stroke-width="2.7" stroke-linejoin="round"/>
<path d="M448.7 1868.9 L460.4 1842.7 L466 1846.5 L454.3 1872.7Z" fill="#fff" stroke="#000" stroke-width="2.7" stroke-linejoin="round"/>
<path d="M466.8 1847.5 L475.3 1820.3 L480.9 1824.1 L472.4 1851.3Z" fill="#fff" stroke="#000" stroke-width="2.7" stroke-linejoin="round"/>
<path d="M393.5 1921.8 L407.1 1905.7 L412.4 1908.9 L399.5 1923.5" fill="none" stroke="#000" stroke-width="2.7" />
<path d="M399.5 1923.5 C399.2 1924.2 397.7 1926.4 397.5 1928 C397.3 1929.6 397.9 1931.8 398.5 1933 C399.1 1934.2 400.6 1935.1 401 1935.5" fill="none" stroke="#000" stroke-width="2.2" />
<path d="M610.7 1392.3 L617.7 1395.3" fill="none" stroke="#000" stroke-width="1.6" />
<path d="M628.7 1361.3 L634.7 1366.3" fill="none" stroke="#000" stroke-width="1.6" />
<path d="M604.3 1504 L611 1506" fill="none" stroke="#000" stroke-width="1.6" />
<path d="M670 1429.7 L670 1561 L637 1579 L631.5 1583 L630 1589 L630 1646 L597 1663 L591.5 1667 L589.5 1673 L589.5 1755 L590.5 1760 L594 1762 L680.7 1812 L677.2 1810 L676.2 1805 L676.2 1723 L678.2 1717 L683.7 1713 L716.7 1696 L716.7 1639 L718.2 1633 L723.7 1629 L756.7 1611 L756.7 1479.7Z" fill="#fff" stroke="none"/>
<path d="M670 1429.7 L670 1561" fill="none" stroke="#000" stroke-width="3" />
<path d="M670 1561 L637 1579" fill="none" stroke="#000" stroke-width="3.0" />
<path d="M637 1579 C636.1 1579.7 632.7 1581.3 631.5 1583 C630.3 1584.7 630.2 1588 630 1589" fill="none" stroke="#000" stroke-width="3.0" />
<path d="M630 1589 L630 1646" fill="none" stroke="#000" stroke-width="3.0" />
<path d="M630 1646 L597 1663" fill="none" stroke="#000" stroke-width="3.0" />
<path d="M597 1663 C596.1 1663.7 592.8 1665.3 591.5 1667 C590.2 1668.7 589.8 1672 589.5 1673" fill="none" stroke="#000" stroke-width="3.0" />
<path d="M592.6 1673 L592.6 1755" fill="none" stroke="#000" stroke-width="1.8" />
<path d="M588.8 1755 C588.9 1756 588.8 1759.6 589.5 1761 C590.2 1762.4 591.8 1763.4 593 1763.5 C594.2 1763.6 596.3 1761.8 597 1761.5" fill="none" stroke="#000" stroke-width="2.4" />
<path d="M589.4 1673.7 L589.4 1696.4 L595.8 1696.4 L595.8 1673.7Z" fill="#fff" stroke="#000" stroke-width="2" stroke-linejoin="round"/>
<path d="M589.4 1733.7 L589.4 1755 L595.8 1755 L595.8 1733.7Z" fill="#fff" stroke="#000" stroke-width="2" stroke-linejoin="round"/>
<path d="M676 1565 L644 1582" fill="none" stroke="#000" stroke-width="2.2" />
<path d="M644 1582 C643.2 1582.8 640 1584.8 639 1586.5 C638 1588.2 638.2 1591.1 638 1592" fill="none" stroke="#000" stroke-width="2.2" />
<path d="M638 1592 L638 1643" fill="none" stroke="#000" stroke-width="2.2" />
<path d="M636 1649 L604 1665.5" fill="none" stroke="#000" stroke-width="2.2" />
<path d="M604 1665.5 C603.2 1666.2 600.1 1668.2 599 1670 C597.9 1671.8 597.8 1675 597.5 1676" fill="none" stroke="#000" stroke-width="2.2" />
<path d="M597.5 1676 L597.5 1757" fill="none" stroke="#000" stroke-width="2.2" />
<path d="M630 1589 L638 1592" fill="none" stroke="#000" stroke-width="1.8" />
<path d="M639 1586 L717 1631" fill="none" stroke="#000" stroke-width="2.2" />
<path d="M638 1597 L716 1642" fill="none" stroke="#000" stroke-width="2.2" />
<path d="M599.3 1669.7 L677.3 1714.7" fill="none" stroke="#000" stroke-width="2.2" />
<path d="M597.5 1680 L675.5 1725" fill="none" stroke="#000" stroke-width="2.2" />
<path d="M596.6 1758.5 L648.6 1788.5" fill="none" stroke="#000" stroke-width="3.6" />
<path d="M670 1430 L699 1446.8" fill="none" stroke="#000" stroke-width="1.6" />
<path d="M670 1435 L699 1451.8" fill="none" stroke="#000" stroke-width="1.6" />
<path d="M670 1452 L699 1468.8" fill="none" stroke="#000" stroke-width="3.6" />
<path d="M670 1469 L699 1485.8" fill="none" stroke="#000" stroke-width="2" />
<path d="M670 1485.5 L699 1502.3" fill="none" stroke="#000" stroke-width="2" />
<path d="M670 1504 L699 1520.8" fill="none" stroke="#000" stroke-width="3.6" />
<path d="M649.5 1368.8 L645.5 1369.8 L641.5 1373.3 L625.5 1399.8 L624.5 1405.3 L629.5 1409.8 L635.5 1413.3 L721.7 1459.7 L721.7 1410.7Z" fill="#fff" stroke="none"/>
<path d="M649.5 1368.8 C648.8 1369 646.8 1369 645.5 1369.8 C644.2 1370.5 644.8 1368.3 641.5 1373.3 C638.2 1378.3 628.3 1394.5 625.5 1399.8 C622.7 1405.1 623.8 1403.6 624.5 1405.3 C625.2 1407 627.7 1408.5 629.5 1409.8 C631.3 1411.1 634.5 1412.7 635.5 1413.3" fill="none" stroke="#000" stroke-width="3.0" />
<path d="M646.5 1374.8 C645.8 1375.3 645.4 1373.5 642.5 1377.8 C639.6 1382 631.3 1395.8 629 1400.3 C626.7 1404.8 628.6 1404 628.5 1404.8" fill="none" stroke="#000" stroke-width="2" />
<path d="M650.5 1369.4 L721.7 1410.7" fill="none" stroke="#000" stroke-width="3.0" />
<path d="M645.5 1376 L721.7 1420.2" fill="none" stroke="#000" stroke-width="2.2" />
<path d="M630.5 1399.3 L721.7 1452.2" fill="none" stroke="#000" stroke-width="2.2" />
<path d="M629.5 1406.2 L721.7 1459.7" fill="none" stroke="#000" stroke-width="3.0" />
<path d="M753.7 1399.7 L747.2 1397.7 L739.4 1398.3 L715.4 1411.3 L707.4 1416.3 L700.4 1426.3 L697.4 1440.3 L697.4 1440.3 L696.4 1495 L691 1554 L680.4 1612.7 L672.4 1642 L663 1672.7 L653 1700.7 L641.7 1728.7 L629.7 1755.3 L619 1775.3 L611 1792 L587.7 1833.7 L562 1870.3 L547.1 1892.7 L529.5 1914.6 L511.9 1935.4 L493.8 1955.7 L480.2 1971.8 L477.2 1976 L476.7 1980 L478.7 1984.5 L482.7 1986.5 L488.2 1986 L529.7 1962 L569.7 1936 L609.7 1904 L649.7 1868 L679.7 1840 L701.7 1821 L728.7 1796 L760.4 1757.3 L760.4 1414.3 L759.4 1406.3 L753.4 1400.3Z" fill="#fff" stroke="none"/>
<path d="M697.4 1440.3 C697.9 1438 698.7 1430.3 700.4 1426.3 C702.1 1422.3 704.9 1418.8 707.4 1416.3 C709.9 1413.8 710.1 1414.3 715.4 1411.3 C720.7 1408.3 734.1 1400.6 739.4 1398.3 C744.7 1396 744.8 1397.5 747.2 1397.7 C749.6 1397.9 752.6 1399.4 753.7 1399.7" fill="none" stroke="#000" stroke-width="3.0" />
<path d="M704.4 1444.3 C704.9 1442 705.9 1434.1 707.4 1430.3 C708.9 1426.5 711.1 1423.6 713.4 1421.3 C715.7 1419 716.1 1419.8 721.4 1416.3 C726.7 1412.8 740.1 1403 745.4 1400.3 C750.7 1397.6 751.1 1399.3 753.4 1400.3 C755.7 1401.3 758.2 1404 759.4 1406.3 C760.6 1408.6 760.2 1413 760.4 1414.3" fill="none" stroke="#000" stroke-width="3.0" />
<path d="M697.4 1440.3 L697.4 1440.3" fill="none" stroke="#000" stroke-width="3.0" />
<path d="M697.4 1440.3 C697.2 1449.4 697.5 1476 696.4 1495 C695.3 1514 693.7 1534.4 691 1554 C688.3 1573.6 683.5 1598 680.4 1612.7 C677.3 1627.4 675.3 1632 672.4 1642 C669.5 1652 666.2 1662.9 663 1672.7 C659.8 1682.5 656.5 1691.4 653 1700.7 C649.5 1710 645.6 1719.6 641.7 1728.7 C637.8 1737.8 633.5 1747.5 629.7 1755.3 C625.9 1763.1 622.1 1769.2 619 1775.3 C615.9 1781.4 616.2 1782.3 611 1792 C605.8 1801.7 595.9 1820.7 587.7 1833.7 C579.5 1846.8 566.3 1864.2 562 1870.3" fill="none" stroke="#000" stroke-width="3.0" />
<path d="M480.2 1971.8 C479.7 1972.5 477.8 1974.6 477.2 1976 C476.6 1977.4 476.4 1978.6 476.7 1980 C476.9 1981.4 477.7 1983.4 478.7 1984.5 C479.7 1985.6 481.1 1986.2 482.7 1986.5 C484.3 1986.8 487.3 1986.1 488.2 1986" fill="none" stroke="#000" stroke-width="3.0" />
<path d="M704.4 1444.3 C704.2 1444.2 703.5 1434.8 703.3 1443.5 C703.1 1452.2 704 1477.8 703 1496.5 C702 1515.2 700.3 1535.9 697.6 1555.5 C694.9 1575.1 690.1 1599.5 687 1614.2 C683.9 1628.9 681.9 1633.5 679 1643.5 C676.1 1653.5 672.8 1664.4 669.6 1674.2 C666.4 1684 663.2 1692.9 659.6 1702.2 C656 1711.5 652.2 1721.1 648.3 1730.2 C644.4 1739.3 640.1 1749 636.3 1756.8 C632.5 1764.6 628.7 1770.7 625.6 1776.8 C622.5 1782.9 622.9 1783.4 617.6 1793.5 C612.3 1803.6 602 1823.9 593.7 1837.3 C585.4 1850.7 572 1868 567.6 1874.1" fill="none" stroke="#000" stroke-width="2.6" />
<path d="M488.2 1986 C495.1 1982 516.1 1970.3 529.7 1962 C543.3 1953.7 556.4 1945.7 569.7 1936 C583 1926.3 596.4 1915.3 609.7 1904 C623 1892.7 638 1878.7 649.7 1868 C661.4 1857.3 671 1847.8 679.7 1840 C688.4 1832.2 693.5 1828.3 701.7 1821 C709.9 1813.7 718.9 1806.6 728.7 1796 C738.5 1785.4 755.1 1763.8 760.4 1757.3" fill="none" stroke="#000" stroke-width="3.0" />
<path d="M760.4 1757.3 L760.4 1414.3" fill="none" stroke="#000" stroke-width="3.0" />
<path d="M499.1 1958.9 L511.9 1935.4 L517.5 1939.2 L504.7 1962.7Z" fill="#fff" stroke="#000" stroke-width="2.7" stroke-linejoin="round"/>
<path d="M518.3 1940.7 L529.5 1914.6 L535.1 1918.4 L523.9 1944.5Z" fill="#fff" stroke="#000" stroke-width="2.7" stroke-linejoin="round"/>
<path d="M535.4 1918.9 L547.1 1892.7 L552.7 1896.5 L541 1922.7Z" fill="#fff" stroke="#000" stroke-width="2.7" stroke-linejoin="round"/>
<path d="M553.5 1897.5 L562 1870.3 L567.6 1874.1 L559.1 1901.3Z" fill="#fff" stroke="#000" stroke-width="2.7" stroke-linejoin="round"/>
<path d="M480.2 1971.8 L493.8 1955.7 L499.1 1958.9 L486.2 1973.5" fill="none" stroke="#000" stroke-width="2.7" />
<path d="M486.2 1973.5 C485.9 1974.2 484.4 1976.4 484.2 1978 C484 1979.6 484.6 1981.8 485.2 1983 C485.8 1984.2 487.3 1985.1 487.7 1985.5" fill="none" stroke="#000" stroke-width="2.2" />
<path d="M697.4 1442.3 L704.4 1445.3" fill="none" stroke="#000" stroke-width="1.6" />
<path d="M715.4 1411.3 L721.4 1416.3" fill="none" stroke="#000" stroke-width="1.6" />
<path d="M691 1554 L697.7 1556" fill="none" stroke="#000" stroke-width="1.6" />
<path d="M756.7 1480 L756.7 1611 L723.7 1629 L718.2 1633 L716.7 1639 L716.7 1696 L683.7 1713 L678.2 1717 L676.2 1723 L676.2 1805 L677.2 1810 L680.7 1812 L767.4 1862 L763.9 1860 L762.9 1855 L762.9 1773 L764.9 1767 L770.4 1763 L803.4 1746 L803.4 1689 L804.9 1683 L810.4 1679 L843.4 1661 L843.4 1530Z" fill="#fff" stroke="none"/>
<path d="M756.7 1480 L756.7 1611" fill="none" stroke="#000" stroke-width="3" />
<path d="M756.7 1611 L723.7 1629" fill="none" stroke="#000" stroke-width="3.0" />
<path d="M723.7 1629 C722.8 1629.7 719.4 1631.3 718.2 1633 C717 1634.7 717 1638 716.7 1639" fill="none" stroke="#000" stroke-width="3.0" />
<path d="M716.7 1639 L716.7 1696" fill="none" stroke="#000" stroke-width="3.0" />
<path d="M716.7 1696 L683.7 1713" fill="none" stroke="#000" stroke-width="3.0" />
<path d="M683.7 1713 C682.8 1713.7 679.5 1715.3 678.2 1717 C677 1718.7 676.5 1722 676.2 1723" fill="none" stroke="#000" stroke-width="3.0" />
<path d="M679.3 1723 L679.3 1805" fill="none" stroke="#000" stroke-width="1.8" />
<path d="M675.5 1805 C675.6 1806 675.5 1809.6 676.2 1811 C676.9 1812.4 678.5 1813.4 679.7 1813.5 C681 1813.6 683 1811.8 683.7 1811.5" fill="none" stroke="#000" stroke-width="2.4" />
<path d="M676.1 1723.7 L676.1 1746.4 L682.5 1746.4 L682.5 1723.7Z" fill="#fff" stroke="#000" stroke-width="2" stroke-linejoin="round"/>
<path d="M676.1 1783.7 L676.1 1805 L682.5 1805 L682.5 1783.7Z" fill="#fff" stroke="#000" stroke-width="2" stroke-linejoin="round"/>
<path d="M762.7 1615 L730.7 1632" fill="none" stroke="#000" stroke-width="2.2" />
<path d="M730.7 1632 C729.9 1632.8 726.7 1634.8 725.7 1636.5 C724.7 1638.2 724.9 1641.1 724.7 1642" fill="none" stroke="#000" stroke-width="2.2" />
<path d="M724.7 1642 L724.7 1693" fill="none" stroke="#000" stroke-width="2.2" />
<path d="M722.7 1699 L690.7 1715.5" fill="none" stroke="#000" stroke-width="2.2" />
<path d="M690.7 1715.5 C689.9 1716.2 686.8 1718.2 685.7 1720 C684.6 1721.8 684.5 1725 684.2 1726" fill="none" stroke="#000" stroke-width="2.2" />
<path d="M684.2 1726 L684.2 1807" fill="none" stroke="#000" stroke-width="2.2" />
<path d="M716.7 1639 L724.7 1642" fill="none" stroke="#000" stroke-width="1.8" />
<path d="M725.7 1636 L803.7 1681" fill="none" stroke="#000" stroke-width="2.2" />
<path d="M724.7 1647 L802.7 1692" fill="none" stroke="#000" stroke-width="2.2" />
<path d="M686 1719.7 L764 1764.7" fill="none" stroke="#000" stroke-width="2.2" />
<path d="M684.2 1730 L762.2 1775" fill="none" stroke="#000" stroke-width="2.2" />
<path d="M683.3 1808.5 L735.3 1838.5" fill="none" stroke="#000" stroke-width="3.6" />
<path d="M756.7 1480 L785.7 1496.8" fill="none" stroke="#000" stroke-width="1.6" />
<path d="M756.7 1485 L785.7 1501.8" fill="none" stroke="#000" stroke-width="1.6" />
<path d="M756.7 1502 L785.7 1518.8" fill="none" stroke="#000" stroke-width="3.6" />
<path d="M756.7 1519 L785.7 1535.8" fill="none" stroke="#000" stroke-width="2" />
<path d="M756.7 1535.5 L785.7 1552.3" fill="none" stroke="#000" stroke-width="2" />
<path d="M756.7 1554 L785.7 1570.8" fill="none" stroke="#000" stroke-width="3.6" />
<path d="M736.2 1419.1 L732.2 1420.1 L728.2 1423.6 L712.2 1450.1 L711.2 1455.6 L716.2 1460.1 L722.2 1463.6 L808.4 1510 L808.4 1461Z" fill="#fff" stroke="none"/>
<path d="M736.2 1419.1 C735.5 1419.2 733.5 1419.3 732.2 1420.1 C730.9 1420.8 731.5 1418.6 728.2 1423.6 C724.9 1428.6 715 1444.7 712.2 1450.1 C709.4 1455.4 710.5 1453.9 711.2 1455.6 C711.9 1457.2 714.4 1458.7 716.2 1460.1 C718 1461.4 721.2 1463 722.2 1463.6" fill="none" stroke="#000" stroke-width="3.0" />
<path d="M733.2 1425.1 C732.5 1425.6 732.1 1423.8 729.2 1428.1 C726.3 1432.3 718 1446.1 715.7 1450.6 C713.4 1455.1 715.3 1454.3 715.2 1455.1" fill="none" stroke="#000" stroke-width="2" />
<path d="M737.2 1419.7 L808.4 1461" fill="none" stroke="#000" stroke-width="3.0" />
<path d="M732.2 1426.3 L808.4 1470.5" fill="none" stroke="#000" stroke-width="2.2" />
<path d="M717.2 1449.6 L808.4 1502.5" fill="none" stroke="#000" stroke-width="2.2" />
<path d="M716.2 1456.5 L808.4 1510" fill="none" stroke="#000" stroke-width="3.0" />
<path d="M840.4 1449.7 L833.9 1447.7 L826.1 1448.3 L802.1 1461.3 L794.1 1466.3 L787.1 1476.3 L784.1 1490.3 L784.1 1490.3 L783.1 1545 L777.7 1604 L767.1 1662.7 L759.1 1692 L749.7 1722.7 L739.7 1750.7 L728.4 1778.7 L716.4 1805.3 L705.7 1825.3 L697.7 1842 L674.4 1883.7 L648.7 1920.3 L633.8 1942.7 L616.2 1964.6 L598.6 1985.4 L580.5 2005.7 L566.9 2021.8 L563.9 2026 L563.4 2030 L565.4 2034.5 L569.4 2036.5 L574.9 2036 L616.4 2012 L656.4 1986 L696.4 1954 L736.4 1918 L766.4 1890 L788.4 1871 L815.4 1846 L847.1 1807.3 L847.1 1464.3 L846.1 1456.3 L840.1 1450.3Z" fill="#fff" stroke="none"/>
<path d="M784.1 1490.3 C784.6 1488 785.4 1480.3 787.1 1476.3 C788.8 1472.3 791.6 1468.8 794.1 1466.3 C796.6 1463.8 796.8 1464.3 802.1 1461.3 C807.4 1458.3 820.8 1450.6 826.1 1448.3 C831.4 1446 831.5 1447.5 833.9 1447.7 C836.3 1447.9 839.3 1449.4 840.4 1449.7" fill="none" stroke="#000" stroke-width="3.0" />
<path d="M791.1 1494.3 C791.6 1492 792.6 1484.1 794.1 1480.3 C795.6 1476.5 797.8 1473.6 800.1 1471.3 C802.4 1469 802.8 1469.8 808.1 1466.3 C813.4 1462.8 826.8 1453 832.1 1450.3 C837.4 1447.6 837.8 1449.3 840.1 1450.3 C842.4 1451.3 844.9 1454 846.1 1456.3 C847.3 1458.6 846.9 1463 847.1 1464.3" fill="none" stroke="#000" stroke-width="3.0" />
<path d="M784.1 1490.3 L784.1 1490.3" fill="none" stroke="#000" stroke-width="3.0" />
<path d="M784.1 1490.3 C783.9 1499.4 784.2 1526 783.1 1545 C782 1564 780.4 1584.4 777.7 1604 C775 1623.6 770.2 1648 767.1 1662.7 C764 1677.4 762 1682 759.1 1692 C756.2 1702 752.9 1712.9 749.7 1722.7 C746.5 1732.5 743.2 1741.4 739.7 1750.7 C736.2 1760 732.3 1769.6 728.4 1778.7 C724.5 1787.8 720.2 1797.5 716.4 1805.3 C712.6 1813.1 708.8 1819.2 705.7 1825.3 C702.6 1831.4 702.9 1832.3 697.7 1842 C692.5 1851.7 682.6 1870.7 674.4 1883.7 C666.2 1896.8 653 1914.2 648.7 1920.3" fill="none" stroke="#000" stroke-width="3.0" />
<path d="M566.9 2021.8 C566.4 2022.5 564.5 2024.6 563.9 2026 C563.3 2027.4 563.1 2028.6 563.4 2030 C563.6 2031.4 564.4 2033.4 565.4 2034.5 C566.4 2035.6 567.8 2036.2 569.4 2036.5 C571 2036.8 574 2036.1 574.9 2036" fill="none" stroke="#000" stroke-width="3.0" />
<path d="M791.1 1494.3 C790.9 1494.2 790.2 1484.8 790 1493.5 C789.8 1502.2 790.6 1527.8 789.7 1546.5 C788.7 1565.2 787 1585.9 784.3 1605.5 C781.6 1625.1 776.8 1649.5 773.7 1664.2 C770.6 1678.9 768.6 1683.5 765.7 1693.5 C762.8 1703.5 759.5 1714.4 756.3 1724.2 C753.1 1734 749.8 1742.9 746.3 1752.2 C742.8 1761.5 738.9 1771.1 735 1780.2 C731.1 1789.3 726.8 1799 723 1806.8 C719.2 1814.6 715.4 1820.7 712.3 1826.8 C709.2 1832.9 709.6 1833.4 704.3 1843.5 C699 1853.6 688.7 1873.9 680.4 1887.3 C672.1 1900.7 658.6 1918 654.3 1924.1" fill="none" stroke="#000" stroke-width="2.6" />
<path d="M574.9 2036 C581.8 2032 602.8 2020.3 616.4 2012 C630 2003.7 643.1 1995.7 656.4 1986 C669.7 1976.3 683.1 1965.3 696.4 1954 C709.7 1942.7 724.7 1928.7 736.4 1918 C748.1 1907.3 757.7 1897.8 766.4 1890 C775.1 1882.2 780.2 1878.3 788.4 1871 C796.6 1863.7 805.6 1856.6 815.4 1846 C825.2 1835.4 841.8 1813.8 847.1 1807.3" fill="none" stroke="#000" stroke-width="3.0" />
<path d="M847.1 1807.3 L847.1 1464.3" fill="none" stroke="#000" stroke-width="3.0" />
<path d="M585.8 2008.9 L598.6 1985.4 L604.2 1989.2 L591.4 2012.7Z" fill="#fff" stroke="#000" stroke-width="2.7" stroke-linejoin="round"/>
<path d="M605 1990.7 L616.2 1964.6 L621.8 1968.4 L610.6 1994.5Z" fill="#fff" stroke="#000" stroke-width="2.7" stroke-linejoin="round"/>
<path d="M622.1 1968.9 L633.8 1942.7 L639.4 1946.5 L627.7 1972.7Z" fill="#fff" stroke="#000" stroke-width="2.7" stroke-linejoin="round"/>
<path d="M640.2 1947.5 L648.7 1920.3 L654.3 1924.1 L645.8 1951.3Z" fill="#fff" stroke="#000" stroke-width="2.7" stroke-linejoin="round"/>
<path d="M566.9 2021.8 L580.5 2005.7 L585.8 2008.9 L572.9 2023.5" fill="none" stroke="#000" stroke-width="2.7" />
<path d="M572.9 2023.5 C572.6 2024.2 571.1 2026.4 570.9 2028 C570.7 2029.6 571.3 2031.8 571.9 2033 C572.5 2034.2 574 2035.1 574.4 2035.5" fill="none" stroke="#000" stroke-width="2.2" />
<path d="M784.1 1492.3 L791.1 1495.3" fill="none" stroke="#000" stroke-width="1.6" />
<path d="M802.1 1461.3 L808.1 1466.3" fill="none" stroke="#000" stroke-width="1.6" />
<path d="M777.7 1604 L784.4 1606" fill="none" stroke="#000" stroke-width="1.6" />
<path d="M843.4 1530.3 L843.4 1661 L810.4 1679 L804.9 1683 L803.4 1689 L803.4 1746 L770.4 1763 L764.9 1767 L762.9 1773 L762.9 1855 L763.9 1860 L767.4 1862 L854.1 1912 L850.6 1910 L849.6 1905 L849.6 1823 L851.6 1817 L857.1 1813 L890.1 1796 L890.1 1739 L891.6 1733 L897.1 1729 L930.1 1711 L930.1 1580.3Z" fill="#fff" stroke="none"/>
<path d="M843.4 1530.3 L843.4 1661" fill="none" stroke="#000" stroke-width="3" />
<path d="M843.4 1661 L810.4 1679" fill="none" stroke="#000" stroke-width="3.0" />
<path d="M810.4 1679 C809.5 1679.7 806.1 1681.3 804.9 1683 C803.7 1684.7 803.6 1688 803.4 1689" fill="none" stroke="#000" stroke-width="3.0" />
<path d="M803.4 1689 L803.4 1746" fill="none" stroke="#000" stroke-width="3.0" />
<path d="M803.4 1746 L770.4 1763" fill="none" stroke="#000" stroke-width="3.0" />
<path d="M770.4 1763 C769.5 1763.7 766.1 1765.3 764.9 1767 C763.6 1768.7 763.2 1772 762.9 1773" fill="none" stroke="#000" stroke-width="3.0" />
<path d="M766 1773 L766 1855" fill="none" stroke="#000" stroke-width="1.8" />
<path d="M762.2 1855 C762.3 1856 762.2 1859.6 762.9 1861 C763.6 1862.4 765.1 1863.4 766.4 1863.5 C767.6 1863.6 769.7 1861.8 770.4 1861.5" fill="none" stroke="#000" stroke-width="2.4" />
<path d="M762.8 1773.7 L762.8 1796.4 L769.2 1796.4 L769.2 1773.7Z" fill="#fff" stroke="#000" stroke-width="2" stroke-linejoin="round"/>
<path d="M762.8 1833.7 L762.8 1855 L769.2 1855 L769.2 1833.7Z" fill="#fff" stroke="#000" stroke-width="2" stroke-linejoin="round"/>
<path d="M849.4 1665 L817.4 1682" fill="none" stroke="#000" stroke-width="2.2" />
<path d="M817.4 1682 C816.6 1682.8 813.4 1684.8 812.4 1686.5 C811.4 1688.2 811.6 1691.1 811.4 1692" fill="none" stroke="#000" stroke-width="2.2" />
<path d="M811.4 1692 L811.4 1743" fill="none" stroke="#000" stroke-width="2.2" />
<path d="M809.4 1749 L777.4 1765.5" fill="none" stroke="#000" stroke-width="2.2" />
<path d="M777.4 1765.5 C776.6 1766.2 773.5 1768.2 772.4 1770 C771.3 1771.8 771.1 1775 770.9 1776" fill="none" stroke="#000" stroke-width="2.2" />
<path d="M770.9 1776 L770.9 1857" fill="none" stroke="#000" stroke-width="2.2" />
<path d="M803.4 1689 L811.4 1692" fill="none" stroke="#000" stroke-width="1.8" />
<path d="M812.4 1686 L890.4 1731" fill="none" stroke="#000" stroke-width="2.2" />
<path d="M811.4 1697 L889.4 1742" fill="none" stroke="#000" stroke-width="2.2" />
<path d="M772.7 1769.7 L850.7 1814.7" fill="none" stroke="#000" stroke-width="2.2" />
<path d="M770.9 1780 L848.9 1825" fill="none" stroke="#000" stroke-width="2.2" />
<path d="M770 1858.5 L822 1888.5" fill="none" stroke="#000" stroke-width="3.6" />
<path d="M843.4 1530 L872.4 1546.8" fill="none" stroke="#000" stroke-width="1.6" />
<path d="M843.4 1535 L872.4 1551.8" fill="none" stroke="#000" stroke-width="1.6" />
<path d="M843.4 1552 L872.4 1568.8" fill="none" stroke="#000" stroke-width="3.6" />
<path d="M843.4 1569 L872.4 1585.8" fill="none" stroke="#000" stroke-width="2" />
<path d="M843.4 1585.5 L872.4 1602.3" fill="none" stroke="#000" stroke-width="2" />
<path d="M843.4 1604 L872.4 1620.8" fill="none" stroke="#000" stroke-width="3.6" />
<path d="M822.9 1469.4 L818.9 1470.4 L814.9 1473.9 L798.9 1500.4 L797.9 1505.9 L802.9 1510.4 L808.9 1513.9 L895.1 1560.2 L895.1 1511.2Z" fill="#fff" stroke="none"/>
<path d="M822.9 1469.4 C822.2 1469.5 820.2 1469.6 818.9 1470.4 C817.6 1471.1 818.2 1468.9 814.9 1473.9 C811.6 1478.9 801.7 1495 798.9 1500.4 C796.1 1505.7 797.2 1504.2 797.9 1505.9 C798.6 1507.5 801.1 1509 802.9 1510.4 C804.7 1511.7 807.9 1513.3 808.9 1513.9" fill="none" stroke="#000" stroke-width="3.0" />
<path d="M819.9 1475.4 C819.2 1475.9 818.8 1474.1 815.9 1478.4 C813 1482.6 804.7 1496.4 802.4 1500.9 C800.1 1505.4 802 1504.6 801.9 1505.4" fill="none" stroke="#000" stroke-width="2" />
<path d="M823.9 1469.9 L895.1 1511.2" fill="none" stroke="#000" stroke-width="3.0" />
<path d="M818.9 1476.5 L895.1 1520.7" fill="none" stroke="#000" stroke-width="2.2" />
<path d="M803.9 1499.8 L895.1 1552.7" fill="none" stroke="#000" stroke-width="2.2" />
<path d="M802.9 1506.8 L895.1 1560.2" fill="none" stroke="#000" stroke-width="3.0" />
<path d="M927.1 1499.7 L920.6 1497.7 L912.8 1498.3 L888.8 1511.3 L880.8 1516.3 L873.8 1526.3 L870.8 1540.3 L870.8 1540.3 L869.8 1595 L864.4 1654 L853.8 1712.7 L845.8 1742 L836.4 1772.7 L826.4 1800.7 L815.1 1828.7 L803.1 1855.3 L792.4 1875.3 L784.4 1892 L761.1 1933.7 L735.4 1970.3 L720.5 1992.7 L702.9 2014.6 L685.3 2035.4 L667.2 2055.7 L653.6 2071.8 L650.6 2076 L650.1 2080 L652.1 2084.5 L656.1 2086.5 L661.6 2086 L703.1 2062 L743.1 2036 L783.1 2004 L823.1 1968 L853.1 1940 L875.1 1921 L902.1 1896 L933.8 1857.3 L933.8 1514.3 L932.8 1506.3 L926.8 1500.3Z" fill="#fff" stroke="none"/>
<path d="M870.8 1540.3 C871.3 1538 872.1 1530.3 873.8 1526.3 C875.5 1522.3 878.3 1518.8 880.8 1516.3 C883.3 1513.8 883.5 1514.3 888.8 1511.3 C894.1 1508.3 907.5 1500.6 912.8 1498.3 C918.1 1496 918.2 1497.5 920.6 1497.7 C923 1497.9 926 1499.4 927.1 1499.7" fill="none" stroke="#000" stroke-width="3.0" />
<path d="M877.8 1544.3 C878.3 1542 879.3 1534.1 880.8 1530.3 C882.3 1526.5 884.5 1523.6 886.8 1521.3 C889.1 1519 889.5 1519.8 894.8 1516.3 C900.1 1512.8 913.5 1503 918.8 1500.3 C924.1 1497.6 924.5 1499.3 926.8 1500.3 C929.1 1501.3 931.6 1504 932.8 1506.3 C934 1508.6 933.6 1513 933.8 1514.3" fill="none" stroke="#000" stroke-width="3.0" />
<path d="M870.8 1540.3 L870.8 1540.3" fill="none" stroke="#000" stroke-width="3.0" />
<path d="M870.8 1540.3 C870.6 1549.4 870.9 1576 869.8 1595 C868.7 1614 867.1 1634.4 864.4 1654 C861.7 1673.6 856.9 1698 853.8 1712.7 C850.7 1727.4 848.7 1732 845.8 1742 C842.9 1752 839.6 1762.9 836.4 1772.7 C833.2 1782.5 830 1791.4 826.4 1800.7 C822.9 1810 819 1819.6 815.1 1828.7 C811.2 1837.8 806.9 1847.5 803.1 1855.3 C799.3 1863.1 795.5 1869.2 792.4 1875.3 C789.3 1881.4 789.6 1882.3 784.4 1892 C779.2 1901.7 769.3 1920.7 761.1 1933.7 C752.9 1946.8 739.7 1964.2 735.4 1970.3" fill="none" stroke="#000" stroke-width="3.0" />
<path d="M653.6 2071.8 C653.1 2072.5 651.2 2074.6 650.6 2076 C650 2077.4 649.9 2078.6 650.1 2080 C650.4 2081.4 651.1 2083.4 652.1 2084.5 C653.1 2085.6 654.5 2086.2 656.1 2086.5 C657.7 2086.8 660.7 2086.1 661.6 2086" fill="none" stroke="#000" stroke-width="3.0" />
<path d="M877.8 1544.3 C877.6 1544.2 876.9 1534.8 876.7 1543.5 C876.5 1552.2 877.4 1577.8 876.4 1596.5 C875.4 1615.2 873.7 1635.9 871 1655.5 C868.3 1675.1 863.5 1699.5 860.4 1714.2 C857.3 1728.9 855.3 1733.5 852.4 1743.5 C849.5 1753.5 846.2 1764.4 843 1774.2 C839.8 1784 836.5 1792.9 833 1802.2 C829.5 1811.5 825.6 1821.1 821.7 1830.2 C817.8 1839.3 813.5 1849 809.7 1856.8 C805.9 1864.6 802.1 1870.7 799 1876.8 C795.9 1882.9 796.3 1883.4 791 1893.5 C785.7 1903.6 775.4 1923.9 767.1 1937.3 C758.8 1950.7 745.4 1968 741 1974.1" fill="none" stroke="#000" stroke-width="2.6" />
<path d="M661.6 2086 C668.5 2082 689.5 2070.3 703.1 2062 C716.7 2053.7 729.8 2045.7 743.1 2036 C756.4 2026.3 769.8 2015.3 783.1 2004 C796.4 1992.7 811.4 1978.7 823.1 1968 C834.8 1957.3 844.4 1947.8 853.1 1940 C861.8 1932.2 866.9 1928.3 875.1 1921 C883.3 1913.7 892.3 1906.6 902.1 1896 C911.9 1885.4 928.5 1863.8 933.8 1857.3" fill="none" stroke="#000" stroke-width="3.0" />
<path d="M933.8 1857.3 L933.8 1514.3" fill="none" stroke="#000" stroke-width="3.0" />
<path d="M672.5 2058.9 L685.3 2035.4 L690.9 2039.2 L678.1 2062.7Z" fill="#fff" stroke="#000" stroke-width="2.7" stroke-linejoin="round"/>
<path d="M691.7 2040.7 L702.9 2014.6 L708.5 2018.4 L697.3 2044.5Z" fill="#fff" stroke="#000" stroke-width="2.7" stroke-linejoin="round"/>
<path d="M708.8 2018.9 L720.5 1992.7 L726.1 1996.5 L714.4 2022.7Z" fill="#fff" stroke="#000" stroke-width="2.7" stroke-linejoin="round"/>
<path d="M726.9 1997.5 L735.4 1970.3 L741 1974.1 L732.5 2001.3Z" fill="#fff" stroke="#000" stroke-width="2.7" stroke-linejoin="round"/>
<path d="M653.6 2071.8 L667.2 2055.7 L672.5 2058.9 L659.6 2073.5" fill="none" stroke="#000" stroke-width="2.7" />
<path d="M659.6 2073.5 C659.3 2074.2 657.8 2076.4 657.6 2078 C657.4 2079.6 658 2081.8 658.6 2083 C659.2 2084.2 660.7 2085.1 661.1 2085.5" fill="none" stroke="#000" stroke-width="2.2" />
<path d="M870.8 1542.3 L877.8 1545.3" fill="none" stroke="#000" stroke-width="1.6" />
<path d="M888.8 1511.3 L894.8 1516.3" fill="none" stroke="#000" stroke-width="1.6" />
<path d="M864.4 1654 L871.1 1656" fill="none" stroke="#000" stroke-width="1.6" />
<path d="M930.1 1580.5 L930.1 1764 L931.1 1768 L928.1 1771 L857.1 1811 L851.6 1815 L849.6 1821 L849.6 1905 L850.6 1910 L854.1 1912 L940.8 1962 L937.3 1960 L936.3 1955 L936.3 1871 L938.3 1865 L943.8 1861 L1014.8 1821 L1017.8 1818 L1016.8 1814 L1016.8 1630.5Z" fill="#fff" stroke="none"/>
<path d="M930.1 1580.5 L930.1 1764" fill="none" stroke="#000" stroke-width="1.8" />
<path d="M930.1 1764 C930.3 1764.7 931.4 1766.8 931.1 1768 C930.8 1769.2 928.6 1770.5 928.1 1771" fill="none" stroke="#000" stroke-width="1.8" />
<path d="M928.1 1771 L857.1 1811" fill="none" stroke="#000" stroke-width="1.8" />
<path d="M857.1 1811 C856.2 1811.7 852.9 1813.3 851.6 1815 C850.4 1816.7 849.9 1820 849.6 1821" fill="none" stroke="#000" stroke-width="2.2" />
<path d="M852.7 1821 L852.7 1905" fill="none" stroke="#000" stroke-width="1.8" />
<path d="M848.9 1905 C849 1906 848.9 1909.6 849.6 1911 C850.3 1912.4 851.9 1913.4 853.1 1913.5 C854.4 1913.6 856.4 1911.8 857.1 1911.5" fill="none" stroke="#000" stroke-width="2.4" />
<path d="M926.9 1645 L926.9 1676 L933.3 1676 L933.3 1645Z" fill="#fff" stroke="#000" stroke-width="2" stroke-linejoin="round"/>
<path d="M926.9 1742 L926.9 1766 L933.3 1766 L933.3 1742Z" fill="#fff" stroke="#000" stroke-width="2" stroke-linejoin="round"/>
<path d="M923.2 1770.2 L907.2 1778.7 L910.2 1784.3 L926.2 1775.8Z" fill="#fff" stroke="#000" stroke-width="2" stroke-linejoin="round"/>
<path d="M879.1 1794.7 L857.8 1806.7 L861 1812.3 L882.3 1800.3Z" fill="#fff" stroke="#000" stroke-width="2" stroke-linejoin="round"/>
<path d="M849.5 1823.7 L849.5 1846.4 L855.9 1846.4 L855.9 1823.7Z" fill="#fff" stroke="#000" stroke-width="2" stroke-linejoin="round"/>
<path d="M849.5 1883.7 L849.5 1905 L855.9 1905 L855.9 1883.7Z" fill="#fff" stroke="#000" stroke-width="2" stroke-linejoin="round"/>
<path d="M929.1 1770 L1007.1 1815" fill="none" stroke="#000" stroke-width="2.2" />
<path d="M859.4 1815.7 L937.4 1860.7" fill="none" stroke="#000" stroke-width="2.2" />
<path d="M856.7 1825 L934.7 1870" fill="none" stroke="#000" stroke-width="2.2" />
<path d="M856.7 1908.5 L908.7 1938.5" fill="none" stroke="#000" stroke-width="3.6" />
<path d="M909.6 1519.7 L905.6 1520.7 L901.6 1524.2 L885.6 1550.7 L884.6 1556.2 L889.6 1560.7 L895.6 1564.2 L981.8 1610.5 L981.8 1561.5Z" fill="#fff" stroke="none"/>
<path d="M909.6 1519.7 C908.9 1519.8 906.9 1519.9 905.6 1520.7 C904.3 1521.4 904.9 1519.2 901.6 1524.2 C898.3 1529.2 888.4 1545.3 885.6 1550.7 C882.8 1556 883.9 1554.5 884.6 1556.2 C885.3 1557.8 887.8 1559.3 889.6 1560.7 C891.4 1562 894.6 1563.6 895.6 1564.2" fill="none" stroke="#000" stroke-width="3.0" />
<path d="M906.6 1525.7 C905.9 1526.2 905.5 1524.4 902.6 1528.7 C899.7 1532.9 891.4 1546.7 889.1 1551.2 C886.8 1555.7 888.7 1554.9 888.6 1555.7" fill="none" stroke="#000" stroke-width="2" />
<path d="M910.6 1520.2 L981.8 1561.5" fill="none" stroke="#000" stroke-width="3.0" />
<path d="M905.6 1526.8 L981.8 1571" fill="none" stroke="#000" stroke-width="2.2" />
<path d="M890.6 1550.1 L981.8 1603" fill="none" stroke="#000" stroke-width="2.2" />
<path d="M889.6 1557.1 L981.8 1610.5" fill="none" stroke="#000" stroke-width="3.0" />
<path d="M1013.8 1549.7 L1007.3 1547.7 L999.5 1548.3 L975.5 1561.3 L967.5 1566.3 L960.5 1576.3 L957.5 1590.3 L957.5 1590.3 L956.5 1645 L951.1 1704 L940.5 1762.7 L932.5 1792 L923.1 1822.7 L913.1 1850.7 L901.8 1878.7 L889.8 1905.3 L879.1 1925.3 L871.1 1942 L847.8 1983.7 L822.1 2020.3 L807.2 2042.7 L789.6 2064.6 L772 2085.4 L753.9 2105.7 L740.3 2121.8 L737.3 2126 L736.8 2130 L738.8 2134.5 L742.8 2136.5 L748.3 2136 L789.8 2112 L829.8 2086 L869.8 2054 L909.8 2018 L939.8 1990 L961.8 1971 L988.8 1946 L1020.5 1907.3 L1020.5 1564.3 L1019.5 1556.3 L1013.5 1550.3Z" fill="#fff" stroke="none"/>
<path d="M957.5 1590.3 C958 1588 958.8 1580.3 960.5 1576.3 C962.2 1572.3 965 1568.8 967.5 1566.3 C970 1563.8 970.2 1564.3 975.5 1561.3 C980.8 1558.3 994.2 1550.6 999.5 1548.3 C1004.8 1546 1004.9 1547.5 1007.3 1547.7 C1009.7 1547.9 1012.7 1549.4 1013.8 1549.7" fill="none" stroke="#000" stroke-width="3.0" />
<path d="M964.5 1594.3 C965 1592 966 1584.1 967.5 1580.3 C969 1576.5 971.2 1573.6 973.5 1571.3 C975.8 1569 976.2 1569.8 981.5 1566.3 C986.8 1562.8 1000.2 1553 1005.5 1550.3 C1010.8 1547.6 1011.2 1549.3 1013.5 1550.3 C1015.8 1551.3 1018.3 1554 1019.5 1556.3 C1020.7 1558.6 1020.3 1563 1020.5 1564.3" fill="none" stroke="#000" stroke-width="3.0" />
<path d="M957.5 1590.3 L957.5 1590.3" fill="none" stroke="#000" stroke-width="3.0" />
<path d="M957.5 1590.3 C957.3 1599.4 957.6 1626 956.5 1645 C955.4 1664 953.8 1684.4 951.1 1704 C948.4 1723.6 943.6 1748 940.5 1762.7 C937.4 1777.4 935.4 1782 932.5 1792 C929.6 1802 926.3 1812.9 923.1 1822.7 C919.9 1832.5 916.7 1841.4 913.1 1850.7 C909.6 1860 905.7 1869.6 901.8 1878.7 C897.9 1887.8 893.6 1897.5 889.8 1905.3 C886 1913.1 882.2 1919.2 879.1 1925.3 C876 1931.4 876.3 1932.3 871.1 1942 C865.9 1951.7 856 1970.7 847.8 1983.7 C839.6 1996.8 826.4 2014.2 822.1 2020.3" fill="none" stroke="#000" stroke-width="3.0" />
<path d="M740.3 2121.8 C739.8 2122.5 737.9 2124.6 737.3 2126 C736.7 2127.4 736.6 2128.6 736.8 2130 C737.1 2131.4 737.8 2133.4 738.8 2134.5 C739.8 2135.6 741.2 2136.2 742.8 2136.5 C744.4 2136.8 747.4 2136.1 748.3 2136" fill="none" stroke="#000" stroke-width="3.0" />
<path d="M964.5 1594.3 C964.3 1594.2 963.6 1584.8 963.4 1593.5 C963.2 1602.2 964.1 1627.8 963.1 1646.5 C962.1 1665.2 960.4 1685.9 957.7 1705.5 C955 1725.1 950.2 1749.5 947.1 1764.2 C944 1778.9 942 1783.5 939.1 1793.5 C936.2 1803.5 932.9 1814.4 929.7 1824.2 C926.5 1834 923.2 1842.9 919.7 1852.2 C916.2 1861.5 912.3 1871.1 908.4 1880.2 C904.5 1889.3 900.2 1899 896.4 1906.8 C892.6 1914.6 888.8 1920.7 885.7 1926.8 C882.6 1932.9 883 1933.4 877.7 1943.5 C872.4 1953.6 862.1 1973.9 853.8 1987.3 C845.5 2000.7 832.1 2018 827.7 2024.1" fill="none" stroke="#000" stroke-width="2.6" />
<path d="M748.3 2136 C755.2 2132 776.2 2120.3 789.8 2112 C803.4 2103.7 816.5 2095.7 829.8 2086 C843.1 2076.3 856.5 2065.3 869.8 2054 C883.1 2042.7 898.1 2028.7 909.8 2018 C921.5 2007.3 931.1 1997.8 939.8 1990 C948.5 1982.2 953.6 1978.3 961.8 1971 C970 1963.7 979 1956.6 988.8 1946 C998.6 1935.4 1015.2 1913.8 1020.5 1907.3" fill="none" stroke="#000" stroke-width="3.0" />
<path d="M1020.5 1907.3 L1020.5 1564.3" fill="none" stroke="#000" stroke-width="3.0" />
<path d="M759.2 2108.9 L772 2085.4 L777.6 2089.2 L764.8 2112.7Z" fill="#fff" stroke="#000" stroke-width="2.7" stroke-linejoin="round"/>
<path d="M778.4 2090.7 L789.6 2064.6 L795.2 2068.4 L784 2094.5Z" fill="#fff" stroke="#000" stroke-width="2.7" stroke-linejoin="round"/>
<path d="M795.5 2068.9 L807.2 2042.7 L812.8 2046.5 L801.1 2072.7Z" fill="#fff" stroke="#000" stroke-width="2.7" stroke-linejoin="round"/>
<path d="M813.6 2047.5 L822.1 2020.3 L827.7 2024.1 L819.2 2051.3Z" fill="#fff" stroke="#000" stroke-width="2.7" stroke-linejoin="round"/>
<path d="M740.3 2121.8 L753.9 2105.7 L759.2 2108.9 L746.3 2123.5" fill="none" stroke="#000" stroke-width="2.7" />
<path d="M746.3 2123.5 C746 2124.2 744.5 2126.4 744.3 2128 C744.1 2129.6 744.7 2131.8 745.3 2133 C745.9 2134.2 747.4 2135.1 747.8 2135.5" fill="none" stroke="#000" stroke-width="2.2" />
<path d="M957.5 1592.3 L964.5 1595.3" fill="none" stroke="#000" stroke-width="1.6" />
<path d="M975.5 1561.3 L981.5 1566.3" fill="none" stroke="#000" stroke-width="1.6" />
<path d="M951.1 1704 L957.8 1706" fill="none" stroke="#000" stroke-width="1.6" />
<path d="M1016.8 1630.8 L1016.8 1814 L1017.8 1818 L1014.8 1821 L943.8 1861 L938.3 1865 L936.3 1871 L936.3 1955 L937.3 1960 L940.8 1962 L1039.5 2020.2 L1036 2018.2 L1035 2013.2 L1035 1929.2 L1037 1923.2 L1042.5 1919.2 L1113.5 1879.2 L1116.5 1876.2 L1115.5 1872.2 L1115.5 1689Z" fill="#fff" stroke="none"/>
<path d="M1016.8 1630.8 L1016.8 1814" fill="none" stroke="#000" stroke-width="1.8" />
<path d="M1016.8 1814 C1017 1814.7 1018.1 1816.8 1017.8 1818 C1017.5 1819.2 1015.3 1820.5 1014.8 1821" fill="none" stroke="#000" stroke-width="1.8" />
<path d="M1014.8 1821 L943.8 1861" fill="none" stroke="#000" stroke-width="1.8" />
<path d="M943.8 1861 C942.9 1861.7 939.6 1863.3 938.3 1865 C937.1 1866.7 936.6 1870 936.3 1871" fill="none" stroke="#000" stroke-width="2.2" />
<path d="M939.4 1871 L939.4 1955" fill="none" stroke="#000" stroke-width="1.8" />
<path d="M935.6 1955 C935.7 1956 935.6 1959.6 936.3 1961 C937 1962.4 938.6 1963.4 939.8 1963.5 C941.1 1963.6 943.1 1961.8 943.8 1961.5" fill="none" stroke="#000" stroke-width="2.4" />
<path d="M1013.6 1695 L1013.6 1726 L1020 1726 L1020 1695Z" fill="#fff" stroke="#000" stroke-width="2" stroke-linejoin="round"/>
<path d="M1013.6 1792 L1013.6 1816 L1020 1816 L1020 1792Z" fill="#fff" stroke="#000" stroke-width="2" stroke-linejoin="round"/>
<path d="M1009.9 1820.2 L993.9 1828.7 L996.9 1834.3 L1012.9 1825.8Z" fill="#fff" stroke="#000" stroke-width="2" stroke-linejoin="round"/>
<path d="M965.8 1844.7 L944.5 1856.7 L947.7 1862.3 L969 1850.3Z" fill="#fff" stroke="#000" stroke-width="2" stroke-linejoin="round"/>
<path d="M936.2 1873.7 L936.2 1896.4 L942.6 1896.4 L942.6 1873.7Z" fill="#fff" stroke="#000" stroke-width="2" stroke-linejoin="round"/>
<path d="M936.2 1933.7 L936.2 1955 L942.6 1955 L942.6 1933.7Z" fill="#fff" stroke="#000" stroke-width="2" stroke-linejoin="round"/>
<path d="M1015.8 1820 L1104.6 1872.4" fill="none" stroke="#000" stroke-width="2.2" />
<path d="M946.1 1865.7 L1034.9 1918.1" fill="none" stroke="#000" stroke-width="2.2" />
<path d="M943.4 1875 L1032.2 1927.4" fill="none" stroke="#000" stroke-width="2.2" />
<path d="M943.4 1958.5 L1002.6 1993.4" fill="none" stroke="#000" stroke-width="3.6" />
<path d="M996.3 1569.9 L992.3 1570.9 L988.3 1574.4 L972.3 1600.9 L971.3 1606.4 L976.3 1610.9 L982.3 1614.4 L1080.5 1667.8 L1080.5 1618.8Z" fill="#fff" stroke="none"/>
<path d="M996.3 1569.9 C995.6 1570.1 993.6 1570.2 992.3 1570.9 C991 1571.7 991.6 1569.4 988.3 1574.4 C985 1579.4 975.1 1595.6 972.3 1600.9 C969.5 1606.3 970.6 1604.8 971.3 1606.4 C972 1608.1 974.5 1609.6 976.3 1610.9 C978.1 1612.3 981.3 1613.9 982.3 1614.4" fill="none" stroke="#000" stroke-width="3.0" />
<path d="M993.3 1575.9 C992.6 1576.4 992.2 1574.7 989.3 1578.9 C986.4 1583.2 978.1 1596.9 975.8 1601.4 C973.5 1605.9 975.4 1605.2 975.3 1605.9" fill="none" stroke="#000" stroke-width="2" />
<path d="M997.3 1570.5 L1080.5 1618.8" fill="none" stroke="#000" stroke-width="3.0" />
<path d="M992.3 1577.1 L1080.5 1628.3" fill="none" stroke="#000" stroke-width="2.2" />
<path d="M977.3 1600.4 L1080.5 1660.3" fill="none" stroke="#000" stroke-width="2.2" />
<path d="M976.3 1607.3 L1080.5 1667.8" fill="none" stroke="#000" stroke-width="3.0" />
<path d="M1100.5 1528.4 L1093.5 1527.4 L1086.5 1529.2 L1062.5 1542.2 L1057.5 1546.2 L1055.5 1552.2 L1055.5 1552.2 L1055.5 1650.2 L1055.2 1703.2 L1049.8 1762.2 L1039.2 1820.9 L1031.2 1850.2 L1021.8 1880.9 L1011.8 1908.9 L1000.5 1936.9 L988.5 1963.5 L977.8 1983.5 L969.8 2000.2 L946.5 2041.9 L920.8 2078.5 L905.9 2100.9 L888.3 2122.8 L870.7 2143.6 L852.6 2163.9 L839 2180 L836 2184.2 L835.5 2188.2 L837.5 2192.7 L841.5 2194.7 L847 2194.2 L888.5 2170.2 L928.5 2144.2 L968.5 2112.2 L1008.5 2076.2 L1038.5 2048.2 L1060.5 2029.2 L1087.5 2004.2 L1119.2 1965.5 L1118.5 1550.2 L1117.5 1543.2 L1113.5 1535.2 L1106.5 1530.2 L1098.5 1529.2Z" fill="#fff" stroke="none"/>
<path d="M1055.5 1552.2 C1055.8 1551.2 1056.3 1547.9 1057.5 1546.2 C1058.7 1544.5 1057.7 1545 1062.5 1542.2 C1067.3 1539.4 1081.3 1531.7 1086.5 1529.2 C1091.7 1526.7 1091.2 1527.5 1093.5 1527.4 C1095.8 1527.3 1099.3 1528.2 1100.5 1528.4" fill="none" stroke="#000" stroke-width="3.0" />
<path d="M1061.5 1556.2 C1061.8 1555 1062 1551.2 1063.5 1549.2 C1065 1547.2 1066 1547 1070.5 1544.2 C1075 1541.4 1085.8 1534.7 1090.5 1532.2 C1095.2 1529.7 1095.8 1529.5 1098.5 1529.2 C1101.2 1528.9 1104 1529.2 1106.5 1530.2 C1109 1531.2 1111.7 1533 1113.5 1535.2 C1115.3 1537.4 1116.7 1540.7 1117.5 1543.2 C1118.3 1545.7 1118.3 1549 1118.5 1550.2" fill="none" stroke="#000" stroke-width="3.0" />
<path d="M1055.5 1552.2 L1055.5 1650.2" fill="none" stroke="#000" stroke-width="3.0" />
<path d="M1055.5 1552.2 C1055.5 1568.5 1055.5 1625 1055.5 1650.2 C1055.5 1675.4 1056.2 1684.5 1055.2 1703.2 C1054.2 1721.9 1052.5 1742.6 1049.8 1762.2 C1047.1 1781.8 1042.3 1806.2 1039.2 1820.9 C1036.1 1835.6 1034.1 1840.2 1031.2 1850.2 C1028.3 1860.2 1025 1871.1 1021.8 1880.9 C1018.6 1890.7 1015.4 1899.6 1011.8 1908.9 C1008.3 1918.2 1004.4 1927.8 1000.5 1936.9 C996.6 1946 992.3 1955.7 988.5 1963.5 C984.7 1971.3 980.9 1977.4 977.8 1983.5 C974.7 1989.6 975 1990.5 969.8 2000.2 C964.6 2009.9 954.7 2028.8 946.5 2041.9 C938.3 2054.9 925.1 2072.4 920.8 2078.5" fill="none" stroke="#000" stroke-width="3.0" />
<path d="M839 2180 C838.5 2180.7 836.6 2182.8 836 2184.2 C835.4 2185.6 835.3 2186.8 835.5 2188.2 C835.8 2189.6 836.5 2191.6 837.5 2192.7 C838.5 2193.8 839.9 2194.4 841.5 2194.7 C843.1 2194.9 846.1 2194.3 847 2194.2" fill="none" stroke="#000" stroke-width="3.0" />
<path d="M1061.5 1556.2 C1061.6 1572.1 1062.1 1626.9 1062.1 1651.7 C1062.2 1676.4 1062.8 1686 1061.8 1704.7 C1060.9 1723.4 1059.1 1744.1 1056.4 1763.7 C1053.7 1783.3 1048.9 1807.7 1045.8 1822.4 C1042.7 1837.1 1040.7 1841.7 1037.8 1851.7 C1034.9 1861.7 1031.6 1872.6 1028.4 1882.4 C1025.2 1892.2 1022 1901.1 1018.4 1910.4 C1014.9 1919.7 1011 1929.3 1007.1 1938.4 C1003.2 1947.5 998.9 1957.2 995.1 1965 C991.3 1972.8 987.5 1978.9 984.4 1985 C981.3 1991.1 981.7 1991.6 976.4 2001.7 C971.1 2011.8 960.8 2032.1 952.5 2045.5 C944.2 2058.9 930.8 2076.2 926.4 2082.3" fill="none" stroke="#000" stroke-width="2.6" />
<path d="M847 2194.2 C853.9 2190.2 874.9 2178.5 888.5 2170.2 C902.1 2161.9 915.2 2153.9 928.5 2144.2 C941.8 2134.5 955.2 2123.5 968.5 2112.2 C981.8 2100.9 996.8 2086.9 1008.5 2076.2 C1020.2 2065.5 1029.8 2056 1038.5 2048.2 C1047.2 2040.4 1052.3 2036.5 1060.5 2029.2 C1068.7 2021.9 1077.7 2014.8 1087.5 2004.2 C1097.3 1993.6 1113.9 1971.9 1119.2 1965.5" fill="none" stroke="#000" stroke-width="3.0" />
<path d="M1119.2 1965.5 L1118.5 1550.2" fill="none" stroke="#000" stroke-width="3.0" />
<path d="M857.9 2167.1 L870.7 2143.6 L876.3 2147.4 L863.5 2170.9Z" fill="#fff" stroke="#000" stroke-width="2.7" stroke-linejoin="round"/>
<path d="M877.1 2148.9 L888.3 2122.8 L893.9 2126.6 L882.7 2152.7Z" fill="#fff" stroke="#000" stroke-width="2.7" stroke-linejoin="round"/>
<path d="M894.2 2127.1 L905.9 2100.9 L911.5 2104.7 L899.8 2130.9Z" fill="#fff" stroke="#000" stroke-width="2.7" stroke-linejoin="round"/>
<path d="M912.3 2105.7 L920.8 2078.5 L926.4 2082.3 L917.9 2109.5Z" fill="#fff" stroke="#000" stroke-width="2.7" stroke-linejoin="round"/>
<path d="M839 2180 L852.6 2163.9 L857.9 2167.1 L845 2181.7" fill="none" stroke="#000" stroke-width="2.7" />
<path d="M845 2181.7 C844.7 2182.4 843.2 2184.6 843 2186.2 C842.8 2187.8 843.4 2189.9 844 2191.2 C844.6 2192.4 846.1 2193.3 846.5 2193.7" fill="none" stroke="#000" stroke-width="2.2" />
<path d="M1055.5 1554.2 L1061.5 1557.2" fill="none" stroke="#000" stroke-width="1.6" />
<path d="M1086.5 1529.2 L1090.5 1532.2" fill="none" stroke="#000" stroke-width="1.6" />
<path d="M1049.8 1762.2 L1056.5 1764.2" fill="none" stroke="#000" stroke-width="1.6" />
<ellipse cx="1091" cy="1564.7" rx="11" ry="18.5" transform="rotate(32 1091 1564.7)" fill="none" stroke="#000" stroke-width="3.0"/>
<ellipse cx="1091.5" cy="1564.2" rx="7.5" ry="13" transform="rotate(32 1091.5 1564.2)" fill="none" stroke="#000" stroke-width="2"/>
<ellipse cx="1107.8" cy="1596.7" rx="3.2" ry="5.5" transform="rotate(30 1107.8 1596.7)" fill="none" stroke="#000" stroke-width="2.2"/>
<path d="M1115.5 1688.1 L1115.5 1872.2 L1116.5 1876.2 L1113.5 1879.2 L1042.5 1919.2 L1037 1923.2 L1035 1929.2 L1035 2013.2 L1036 2018.2 L1039.5 2020.2 L1127.8 2070 L1124.3 2068 L1123.3 2063 L1123.3 1979 L1125.3 1973 L1130.8 1969 L1201.8 1929 L1204.8 1926 L1203.8 1922 L1203.8 1737.9Z" fill="#fff" stroke="none"/>
<path d="M1115.5 1688.1 L1115.5 1872.2" fill="none" stroke="#000" stroke-width="1.8" />
<path d="M1115.5 1872.2 C1115.7 1872.9 1116.8 1875 1116.5 1876.2 C1116.2 1877.4 1114 1878.7 1113.5 1879.2" fill="none" stroke="#000" stroke-width="1.8" />
<path d="M1113.5 1879.2 L1042.5 1919.2" fill="none" stroke="#000" stroke-width="1.8" />
<path d="M1042.5 1919.2 C1041.6 1919.9 1038.2 1921.5 1037 1923.2 C1035.8 1924.9 1035.3 1928.2 1035 1929.2" fill="none" stroke="#000" stroke-width="2.2" />
<path d="M1038.1 1929.2 L1038.1 2013.2" fill="none" stroke="#000" stroke-width="1.8" />
<path d="M1034.3 2013.2 C1034.4 2014.2 1034.3 2017.8 1035 2019.2 C1035.7 2020.6 1037.2 2021.6 1038.5 2021.7 C1039.8 2021.8 1041.8 2020 1042.5 2019.7" fill="none" stroke="#000" stroke-width="2.4" />
<path d="M1112.3 1753.2 L1112.3 1784.2 L1118.7 1784.2 L1118.7 1753.2Z" fill="#fff" stroke="#000" stroke-width="2" stroke-linejoin="round"/>
<path d="M1112.3 1850.2 L1112.3 1874.2 L1118.7 1874.2 L1118.7 1850.2Z" fill="#fff" stroke="#000" stroke-width="2" stroke-linejoin="round"/>
<path d="M1108.6 1878.4 L1092.6 1886.9 L1095.6 1892.5 L1111.6 1884Z" fill="#fff" stroke="#000" stroke-width="2" stroke-linejoin="round"/>
<path d="M1064.5 1902.9 L1043.2 1914.9 L1046.4 1920.5 L1067.7 1908.5Z" fill="#fff" stroke="#000" stroke-width="2" stroke-linejoin="round"/>
<path d="M1034.9 1931.9 L1034.9 1954.6 L1041.3 1954.6 L1041.3 1931.9Z" fill="#fff" stroke="#000" stroke-width="2" stroke-linejoin="round"/>
<path d="M1034.9 1991.9 L1034.9 2013.2 L1041.3 2013.2 L1041.3 1991.9Z" fill="#fff" stroke="#000" stroke-width="2" stroke-linejoin="round"/>
<path d="M1114.5 1878.2 L1194 1923" fill="none" stroke="#000" stroke-width="2.2" />
<path d="M1044.8 1923.9 L1124.3 1968.7" fill="none" stroke="#000" stroke-width="2.2" />
<path d="M1042.1 1933.2 L1121.6 1978" fill="none" stroke="#000" stroke-width="2.2" />
<path d="M1042.1 2016.7 L1095.1 2046.6" fill="none" stroke="#000" stroke-width="3.6" />
<path d="M1095 1627.2 L1091 1628.2 L1087 1631.7 L1071 1658.2 L1070 1663.7 L1075 1668.2 L1081 1671.7 L1168.8 1719 L1168.8 1670Z" fill="#fff" stroke="none"/>
<path d="M1095 1627.2 C1094.3 1627.4 1092.3 1627.4 1091 1628.2 C1089.7 1628.9 1090.3 1626.7 1087 1631.7 C1083.7 1636.7 1073.8 1652.9 1071 1658.2 C1068.2 1663.5 1069.3 1662 1070 1663.7 C1070.7 1665.4 1073.2 1666.9 1075 1668.2 C1076.8 1669.5 1080 1671.1 1081 1671.7" fill="none" stroke="#000" stroke-width="3.0" />
<path d="M1092 1633.2 C1091.3 1633.7 1090.9 1631.9 1088 1636.2 C1085.1 1640.4 1076.8 1654.2 1074.5 1658.7 C1072.2 1663.2 1074.1 1662.4 1074 1663.2" fill="none" stroke="#000" stroke-width="2" />
<path d="M1096 1627.8 L1168.8 1670" fill="none" stroke="#000" stroke-width="3.0" />
<path d="M1091 1634.4 L1168.8 1679.5" fill="none" stroke="#000" stroke-width="2.2" />
<path d="M1076 1657.7 L1168.8 1711.5" fill="none" stroke="#000" stroke-width="2.2" />
<path d="M1075 1664.6 L1168.8 1719" fill="none" stroke="#000" stroke-width="3.0" />
<path d="M1188.8 1578.2 L1181.8 1577.2 L1174.8 1579 L1150.8 1592 L1145.8 1596 L1143.8 1602 L1143.8 1602 L1143.8 1700 L1143.5 1753 L1138.1 1812 L1127.5 1870.7 L1119.5 1900 L1110.1 1930.7 L1100.1 1958.7 L1088.8 1986.7 L1076.8 2013.3 L1066.1 2033.3 L1058.1 2050 L1034.8 2091.7 L1009.1 2128.3 L994.2 2150.7 L976.6 2172.6 L959 2193.4 L940.9 2213.7 L927.3 2229.8 L924.3 2234 L923.8 2238 L925.8 2242.5 L929.8 2244.5 L935.3 2244 L976.1 2224.3 L1018.7 2197.7 L1061.4 2164.6 L1104.1 2126.2 L1146.7 2083.5 L1178.7 2048.3 L1207.5 2015.3 L1206.8 1600 L1205.8 1593 L1201.8 1585 L1194.8 1580 L1186.8 1579Z" fill="#fff" stroke="none"/>
<path d="M1143.8 1602 C1144.1 1601 1144.6 1597.7 1145.8 1596 C1147 1594.3 1146 1594.8 1150.8 1592 C1155.6 1589.2 1169.6 1581.5 1174.8 1579 C1180 1576.5 1179.5 1577.3 1181.8 1577.2 C1184.1 1577.1 1187.6 1578 1188.8 1578.2" fill="none" stroke="#000" stroke-width="3.0" />
<path d="M1149.8 1606 C1150.1 1604.8 1150.3 1601 1151.8 1599 C1153.3 1597 1154.3 1596.8 1158.8 1594 C1163.3 1591.2 1174.1 1584.5 1178.8 1582 C1183.5 1579.5 1184.1 1579.3 1186.8 1579 C1189.5 1578.7 1192.3 1579 1194.8 1580 C1197.3 1581 1200 1582.8 1201.8 1585 C1203.6 1587.2 1205 1590.5 1205.8 1593 C1206.6 1595.5 1206.6 1598.8 1206.8 1600" fill="none" stroke="#000" stroke-width="3.0" />
<path d="M1143.8 1602 L1143.8 1700" fill="none" stroke="#000" stroke-width="3.0" />
<path d="M1143.8 1602 C1143.8 1618.3 1143.9 1674.8 1143.8 1700 C1143.8 1725.2 1144.5 1734.3 1143.5 1753 C1142.5 1771.7 1140.8 1792.4 1138.1 1812 C1135.4 1831.6 1130.6 1856 1127.5 1870.7 C1124.4 1885.4 1122.4 1890 1119.5 1900 C1116.6 1910 1113.3 1920.9 1110.1 1930.7 C1106.9 1940.5 1103.7 1949.4 1100.1 1958.7 C1096.6 1968 1092.7 1977.6 1088.8 1986.7 C1084.9 1995.8 1080.6 2005.5 1076.8 2013.3 C1073 2021.1 1069.2 2027.2 1066.1 2033.3 C1063 2039.4 1063.3 2040.3 1058.1 2050 C1052.9 2059.7 1043 2078.6 1034.8 2091.7 C1026.6 2104.8 1013.4 2122.2 1009.1 2128.3" fill="none" stroke="#000" stroke-width="3.0" />
<path d="M927.3 2229.8 C926.8 2230.5 924.9 2232.6 924.3 2234 C923.7 2235.4 923.6 2236.6 923.8 2238 C924.1 2239.4 924.8 2241.4 925.8 2242.5 C926.8 2243.6 928.2 2244.2 929.8 2244.5 C931.4 2244.8 934.4 2244.1 935.3 2244" fill="none" stroke="#000" stroke-width="3.0" />
<path d="M1149.8 1606 C1149.9 1621.9 1150.4 1676.8 1150.4 1701.5 C1150.5 1726.2 1151.1 1735.8 1150.1 1754.5 C1149.2 1773.2 1147.4 1793.9 1144.7 1813.5 C1142 1833.1 1137.2 1857.5 1134.1 1872.2 C1131 1886.9 1129 1891.5 1126.1 1901.5 C1123.2 1911.5 1119.9 1922.4 1116.7 1932.2 C1113.5 1942 1110.2 1950.9 1106.7 1960.2 C1103.2 1969.5 1099.3 1979.1 1095.4 1988.2 C1091.5 1997.3 1087.2 2007 1083.4 2014.8 C1079.6 2022.6 1075.8 2028.7 1072.7 2034.8 C1069.6 2040.9 1070 2041.4 1064.7 2051.5 C1059.4 2061.6 1049.1 2081.9 1040.8 2095.3 C1032.5 2108.7 1019.1 2126 1014.7 2132.1" fill="none" stroke="#000" stroke-width="2.6" />
<path d="M935.3 2244 C942.1 2240.7 962.2 2232 976.1 2224.3 C990 2216.6 1004.5 2207.6 1018.7 2197.7 C1032.9 2187.8 1047.2 2176.5 1061.4 2164.6 C1075.6 2152.7 1089.9 2139.7 1104.1 2126.2 C1118.3 2112.7 1134.3 2096.5 1146.7 2083.5 C1159.1 2070.5 1168.6 2059.7 1178.7 2048.3 C1188.8 2036.9 1202.7 2020.8 1207.5 2015.3" fill="none" stroke="#000" stroke-width="3.0" />
<path d="M1207.5 2015.3 L1206.8 1600" fill="none" stroke="#000" stroke-width="3.0" />
<path d="M946.2 2216.9 L959 2193.4 L964.6 2197.2 L951.8 2220.7Z" fill="#fff" stroke="#000" stroke-width="2.7" stroke-linejoin="round"/>
<path d="M965.4 2198.7 L976.6 2172.6 L982.2 2176.4 L971 2202.5Z" fill="#fff" stroke="#000" stroke-width="2.7" stroke-linejoin="round"/>
<path d="M982.5 2176.9 L994.2 2150.7 L999.8 2154.5 L988.1 2180.7Z" fill="#fff" stroke="#000" stroke-width="2.7" stroke-linejoin="round"/>
<path d="M1000.6 2155.5 L1009.1 2128.3 L1014.7 2132.1 L1006.2 2159.3Z" fill="#fff" stroke="#000" stroke-width="2.7" stroke-linejoin="round"/>
<path d="M927.3 2229.8 L940.9 2213.7 L946.2 2216.9 L933.3 2231.5" fill="none" stroke="#000" stroke-width="2.7" />
<path d="M933.3 2231.5 C933 2232.2 931.5 2234.4 931.3 2236 C931.1 2237.6 931.7 2239.8 932.3 2241 C932.9 2242.2 934.4 2243.1 934.8 2243.5" fill="none" stroke="#000" stroke-width="2.2" />
<path d="M1143.8 1604 L1149.8 1607" fill="none" stroke="#000" stroke-width="1.6" />
<path d="M1174.8 1579 L1178.8 1582" fill="none" stroke="#000" stroke-width="1.6" />
<path d="M1138.1 1812 L1144.8 1814" fill="none" stroke="#000" stroke-width="1.6" />
<ellipse cx="1179.8" cy="1617" rx="15.5" ry="23" transform="rotate(30 1179.8 1617)" fill="none" stroke="#000" stroke-width="3.0"/>
<ellipse cx="1181.3" cy="1616.5" rx="11.5" ry="18" transform="rotate(30 1181.3 1616.5)" fill="none" stroke="#000" stroke-width="2"/>
<ellipse cx="1183.3" cy="1617.5" rx="9" ry="14" transform="rotate(30 1183.3 1617.5)" fill="none" stroke="#000" stroke-width="3.0"/>
<ellipse cx="1183.8" cy="1618" rx="6.5" ry="11" transform="rotate(30 1183.8 1618)" fill="none" stroke="#000" stroke-width="1.6"/>
<ellipse cx="1196.1" cy="1646.5" rx="3.2" ry="5.5" transform="rotate(30 1196.1 1646.5)" fill="none" stroke="#000" stroke-width="2.2"/>
<path d="M647.6 1380.1 L674.6 1395.5 L674.6 1425.5 L647.6 1410.1Z" fill="#fff" stroke="none"/>
<path d="M647.6 1380.1 L647.6 1410.1 L674.6 1425.5 L674.6 1403.5" fill="none" stroke="#000" stroke-width="2.6" />
<path d="M651.6 1394.1 L674.6 1411.5" fill="none" stroke="#000" stroke-width="2" />
<path d="M681.6 1354 L779.1 1409.5 L747.3 1434.5 L747.3 1445.5 L647.6 1391.1 L647.6 1380.1Z" fill="#fff" stroke="none"/>
<path d="M647.6 1391.1 L747.3 1445.5" fill="none" stroke="#000" stroke-width="3.4" />
<path d="M647.6 1380.1 L647.6 1391.1" fill="none" stroke="#000" stroke-width="2.4" />
<path d="M747.3 1434.5 L747.3 1445.5" fill="none" stroke="#000" stroke-width="2.4" />
<path d="M673.6 1356 L683.6 1352.5 L777.1 1408.5 L782.1 1413.5 L752.3 1435.5 L741.3 1436.5 L645.6 1382.1 L646.6 1375.1Z" fill="#fff" stroke="#000" stroke-width="2.6" stroke-linejoin="round"/>
<path d="M679.6 1355.6 Q687.4 1353.4 690.4 1361.7 Q698.2 1359.6 701.2 1367.9 Q709 1365.8 712.1 1374.1 Q719.9 1371.9 722.9 1380.2 Q730.7 1378.1 733.7 1386.4 Q741.5 1384.3 744.6 1392.6 Q752.4 1390.4 755.4 1398.7 Q763.2 1396.6 766.2 1404.9 Q774 1402.8 777.1 1411.1" fill="none" stroke="#000" stroke-width="4.2" />
<path d="M677.6 1362.1 L775.1 1417.6" fill="none" stroke="#000" stroke-width="2.2" />
<path d="M668 1364.4 Q675.8 1362.3 678.8 1370.6 Q686.6 1368.5 689.7 1376.8 Q697.5 1374.7 700.5 1382.9 Q708.3 1380.8 711.3 1389.1 Q719.1 1387 722.2 1395.3 Q730 1393.2 733 1401.4 Q740.8 1399.3 743.8 1407.6 Q751.6 1405.5 754.7 1413.8 Q762.5 1411.7 765.5 1419.9" fill="none" stroke="#000" stroke-width="4.2" />
<path d="M666 1370.9 L763.5 1426.4" fill="none" stroke="#000" stroke-width="2.2" />
<path d="M656.4 1373.3 Q664.3 1371.2 667.3 1379.5 Q675.1 1377.4 678.1 1385.6 Q685.9 1383.5 688.9 1391.8 Q696.8 1389.7 699.8 1398 Q707.6 1395.9 710.6 1404.1 Q718.4 1402 721.4 1410.3 Q729.3 1408.2 732.3 1416.5 Q740.1 1414.4 743.1 1422.6 Q750.9 1420.5 753.9 1428.8" fill="none" stroke="#000" stroke-width="4.2" />
<path d="M654.4 1379.8 L751.9 1435.3" fill="none" stroke="#000" stroke-width="2.2" />
<path d="M826.8 1482.6 L853.8 1498 L895.6 1481 L896.6 1515 L854.8 1534 L826.8 1514.6Z" fill="#fff" stroke="none"/>
<path d="M826.8 1490.6 L826.8 1514.6 L854.8 1534 L896.6 1515 L895.6 1481 L885.6 1473" fill="none" stroke="#000" stroke-width="2.6" />
<path d="M854.8 1534 L853.8 1504" fill="none" stroke="#000" stroke-width="2.4" />
<path d="M853.8 1505 L895.6 1481" fill="none" stroke="#000" stroke-width="2" />
<path d="M788.1 1417.5 L885.6 1473 L853.8 1498 L853.8 1509 L754.1 1454.6 L754.1 1443.6Z" fill="#fff" stroke="none"/>
<path d="M754.1 1454.6 L853.8 1509" fill="none" stroke="#000" stroke-width="3.4" />
<path d="M754.1 1443.6 L754.1 1454.6" fill="none" stroke="#000" stroke-width="2.4" />
<path d="M853.8 1498 L853.8 1509" fill="none" stroke="#000" stroke-width="2.4" />
<path d="M780.1 1419.5 L790.1 1416 L883.6 1472 L888.6 1477 L858.8 1499 L847.8 1500 L752.1 1445.6 L753.1 1438.6Z" fill="#fff" stroke="#000" stroke-width="2.6" stroke-linejoin="round"/>
<path d="M786.1 1419.1 Q793.9 1416.9 796.9 1425.2 Q804.7 1423.1 807.7 1431.4 Q815.5 1429.3 818.6 1437.6 Q826.4 1435.4 829.4 1443.7 Q837.2 1441.6 840.2 1449.9 Q848 1447.8 851.1 1456.1 Q858.9 1453.9 861.9 1462.2 Q869.7 1460.1 872.7 1468.4 Q880.5 1466.3 883.6 1474.6" fill="none" stroke="#000" stroke-width="4.2" />
<path d="M784.1 1425.6 L881.6 1481.1" fill="none" stroke="#000" stroke-width="2.2" />
<path d="M774.5 1427.9 Q782.3 1425.8 785.3 1434.1 Q793.1 1432 796.2 1440.3 Q804 1438.2 807 1446.4 Q814.8 1444.3 817.8 1452.6 Q825.6 1450.5 828.7 1458.8 Q836.5 1456.7 839.5 1464.9 Q847.3 1462.8 850.3 1471.1 Q858.1 1469 861.2 1477.3 Q869 1475.2 872 1483.4" fill="none" stroke="#000" stroke-width="4.2" />
<path d="M772.5 1434.4 L870 1489.9" fill="none" stroke="#000" stroke-width="2.2" />
<path d="M762.9 1436.8 Q770.8 1434.7 773.8 1443 Q781.6 1440.9 784.6 1449.1 Q792.4 1447 795.4 1455.3 Q803.3 1453.2 806.3 1461.5 Q814.1 1459.4 817.1 1467.6 Q824.9 1465.5 827.9 1473.8 Q835.8 1471.7 838.8 1480 Q846.6 1477.9 849.6 1486.1 Q857.4 1484 860.4 1492.3" fill="none" stroke="#000" stroke-width="4.2" />
<path d="M760.9 1443.3 L858.4 1498.8" fill="none" stroke="#000" stroke-width="2.2" />
<circle cx="744" cy="1664.4" r="2.6" fill="#000"/>
<circle cx="744" cy="1676.9" r="2.6" fill="#000"/>
<circle cx="744" cy="1689.3" r="2.6" fill="#000"/>
<path d="M718 1679 L740.5 1666.5" fill="none" stroke="#000" stroke-width="1.6" />
<path d="M1206.7 1892 C1208.4 1892.4 1213.8 1892.9 1217.3 1894.7 C1220.9 1896.4 1225.6 1899.6 1228 1902.7 C1230.4 1905.8 1231.8 1909.3 1232 1913.3 C1232.2 1917.3 1231.6 1920.4 1229.3 1926.7 C1227.1 1932.9 1222.4 1942.7 1218.7 1950.7 C1214.9 1958.7 1208.7 1970.7 1206.7 1974.7" fill="none" stroke="#000" stroke-width="3.0" />
<ellipse cx="1212.5" cy="1923.5" rx="3.6" ry="6.5" transform="rotate(25 1212.5 1923.5)" fill="none" stroke="#000" stroke-width="2.4"/>
<path d="M1206.7 1898.7 C1207.8 1898.9 1211.3 1900.1 1213.3 1900 C1215.3 1899.9 1217.8 1898.2 1218.7 1897.9" fill="none" stroke="#000" stroke-width="2" />
<path d="M1203 1702 L1203 2012" fill="none" stroke="#000" stroke-width="2.2" />
<line x1="351.7" y1="1890.2" x2="381.7" y2="1872.9" stroke="#000" stroke-width="1.5" />
<line x1="412.3" y1="1855.2" x2="442.3" y2="1837.9" stroke="#000" stroke-width="1.5" />
<line x1="472.9" y1="1820.2" x2="502.9" y2="1802.9" stroke="#000" stroke-width="1.5" />
<line x1="533.5" y1="1785.2" x2="563.5" y2="1767.9" stroke="#000" stroke-width="1.5" />
<line x1="594.1" y1="1750.2" x2="624.1" y2="1732.9" stroke="#000" stroke-width="1.5" />
<line x1="654.7" y1="1715.2" x2="684.7" y2="1697.9" stroke="#000" stroke-width="1.5" />
<line x1="715.3" y1="1680.2" x2="745.3" y2="1662.9" stroke="#000" stroke-width="1.5" />
<line x1="348.3" y1="1931.1" x2="377.3" y2="1914.4" stroke="#000" stroke-width="1.5" />
<line x1="408.3" y1="1896.5" x2="437.3" y2="1879.7" stroke="#000" stroke-width="1.5" />
<line x1="468.3" y1="1861.8" x2="497.3" y2="1845.1" stroke="#000" stroke-width="1.5" />
<line x1="528.3" y1="1827.2" x2="557.3" y2="1810.4" stroke="#000" stroke-width="1.5" />
<line x1="588.3" y1="1792.5" x2="617.3" y2="1775.8" stroke="#000" stroke-width="1.5" />
<line x1="648.3" y1="1757.9" x2="677.3" y2="1741.1" stroke="#000" stroke-width="1.5" />
<line x1="708.3" y1="1723.2" x2="737.3" y2="1706.5" stroke="#000" stroke-width="1.5" />
<line x1="1108.7" y1="1453" x2="1138.5" y2="1435.8" stroke="#000" stroke-width="1.5" />
<line x1="1048" y1="1488" x2="1078.8" y2="1470.2" stroke="#000" stroke-width="1.5" />
<line x1="986.7" y1="1523.4" x2="1018.7" y2="1505" stroke="#000" stroke-width="1.5" />
<line x1="949" y1="1545.2" x2="957" y2="1540.6" stroke="#000" stroke-width="1.5" />
<line x1="1132" y1="1478.5" x2="1162.8" y2="1460.7" stroke="#000" stroke-width="1.5" />
<line x1="1071.3" y1="1513.5" x2="1102.1" y2="1495.8" stroke="#000" stroke-width="1.5" />
<line x1="1012" y1="1547.8" x2="1041.3" y2="1530.9" stroke="#000" stroke-width="1.5" />
<line x1="1209" y1="1655" x2="1240" y2="1672" stroke="#000" stroke-width="1.5" />
<line x1="1230" y1="1648" x2="1261" y2="1665" stroke="#000" stroke-width="1.5" />
<line x1="1181" y1="1618" x2="1200" y2="1629" stroke="#000" stroke-width="1.5" />
<line x1="367.5" y1="1149" x2="396.7" y2="1165" stroke="#000" stroke-width="1.5" />
<line x1="395" y1="1185" x2="414" y2="1195" stroke="#000" stroke-width="1.5" />
<line x1="331.7" y1="1148.3" x2="336.7" y2="1150.8" stroke="#000" stroke-width="1.5" />
<line x1="1163.3" y1="705" x2="1163.8" y2="740" stroke="#000" stroke-width="1.5" />
<line x1="1164.3" y1="774.8" x2="1164.8" y2="809.8" stroke="#000" stroke-width="1.5" />
<line x1="1165.3" y1="844.6" x2="1165.8" y2="879.6" stroke="#000" stroke-width="1.5" />
<line x1="1166.3" y1="914.4" x2="1166.7" y2="949.4" stroke="#000" stroke-width="1.5" />
<line x1="1167.2" y1="984.2" x2="1167.7" y2="1019.2" stroke="#000" stroke-width="1.5" />
<line x1="1168.2" y1="1054" x2="1168.7" y2="1089" stroke="#000" stroke-width="1.5" />
<line x1="1169.2" y1="1123.8" x2="1169.7" y2="1158.8" stroke="#000" stroke-width="1.5" />
<line x1="1170.2" y1="1193.6" x2="1170.7" y2="1228.6" stroke="#000" stroke-width="1.5" />
<line x1="1171.2" y1="1263.4" x2="1171.7" y2="1298.4" stroke="#000" stroke-width="1.5" />
<line x1="1172.2" y1="1333.2" x2="1172.7" y2="1368.2" stroke="#000" stroke-width="1.5" />
<line x1="1173.1" y1="1403" x2="1173.6" y2="1438" stroke="#000" stroke-width="1.5" />
<line x1="1174.1" y1="1472.8" x2="1174.6" y2="1507.8" stroke="#000" stroke-width="1.5" />
<line x1="1175.1" y1="1542.6" x2="1175.6" y2="1577" stroke="#000" stroke-width="1.5" />
<line x1="1136" y1="1429.6" x2="1136" y2="1463.2" stroke="#000" stroke-width="1.5" />
<line x1="1136" y1="1499.6" x2="1136" y2="1533.2" stroke="#000" stroke-width="1.5" />
<line x1="1136" y1="1569" x2="1136" y2="1604" stroke="#000" stroke-width="1.5" />
<line x1="1136" y1="1611" x2="1143" y2="1615" stroke="#000" stroke-width="1.5" />
<line x1="414.9" y1="305" x2="412.6" y2="340" stroke="#000" stroke-width="1.5" />
<line x1="410.3" y1="375" x2="408.1" y2="409" stroke="#000" stroke-width="1.5" />
<line x1="404.3" y1="466" x2="402.2" y2="498" stroke="#000" stroke-width="1.5" />
<line x1="399.9" y1="533" x2="397.7" y2="567" stroke="#000" stroke-width="1.5" />
<line x1="395.4" y1="603" x2="393.1" y2="638" stroke="#000" stroke-width="1.5" />
<line x1="390.8" y1="673" x2="388.6" y2="706" stroke="#000" stroke-width="1.5" />
<line x1="377.2" y1="880.5" x2="375.3" y2="909.5" stroke="#000" stroke-width="1.5" />
<line x1="373" y1="944" x2="370.7" y2="979.6" stroke="#000" stroke-width="1.5" />
<line x1="368.4" y1="1014.2" x2="366.1" y2="1049.8" stroke="#000" stroke-width="1.5" />
<line x1="363.8" y1="1084.3" x2="361.9" y2="1114.4" stroke="#000" stroke-width="1.5" />
<line x1="413.3" y1="1146" x2="413.3" y2="1182" stroke="#000" stroke-width="1.5" />
<line x1="413.3" y1="1076.5" x2="413.3" y2="1111" stroke="#000" stroke-width="1.5" />
<path d="M269.3 131.1 L250.1 119.9 L242.7 122 L236.3 130.5 L234.1 139.1 L237.3 145.5 L252.3 155.1Z" fill="#fff" stroke="none"/>
<path d="M269.3 131.1 L250.1 119.9" fill="none" stroke="#000" stroke-width="3.2" />
<path d="M237.3 145.5 L252.3 155.1" fill="none" stroke="#000" stroke-width="3.2" />
<path d="M250.1 119.9 C248.9 120.2 245 120.2 242.7 122 C240.4 123.8 237.7 127.7 236.3 130.5 C234.9 133.3 233.9 136.6 234.1 139.1 C234.3 141.6 236.8 144.4 237.3 145.5" fill="none" stroke="#000" stroke-width="3.2" />
<ellipse cx="261.9" cy="143.3" rx="9" ry="13" transform="rotate(25 261.9 143.3)" fill="#fff" stroke="#000" stroke-width="4.6"/>
<line x1="258.7" y1="141.2" x2="281.6" y2="154.5" stroke="#000" stroke-width="1.5" />
<path d="M556.7 294.5 L537.5 283.3 L530.1 285.4 L523.7 293.9 L521.5 302.5 L524.7 308.9 L539.7 318.5Z" fill="#fff" stroke="none"/>
<path d="M556.7 294.5 L537.5 283.3" fill="none" stroke="#000" stroke-width="3.2" />
<path d="M524.7 308.9 L539.7 318.5" fill="none" stroke="#000" stroke-width="3.2" />
<path d="M537.5 283.3 C536.3 283.6 532.4 283.6 530.1 285.4 C527.8 287.2 525.1 291 523.7 293.9 C522.3 296.8 521.3 300 521.5 302.5 C521.7 305 524.2 307.8 524.7 308.9" fill="none" stroke="#000" stroke-width="3.2" />
<ellipse cx="549.3" cy="306.7" rx="9" ry="13" transform="rotate(25 549.3 306.7)" fill="#fff" stroke="#000" stroke-width="4.6"/>
<line x1="494.7" y1="277.3" x2="524" y2="294.7" stroke="#000" stroke-width="1.5" />
<line x1="546" y1="304.5" x2="556" y2="310" stroke="#000" stroke-width="1.5" />
<path d="M1000.7 549.5 L981.5 538.3 L974.1 540.4 L967.7 548.9 L965.5 557.5 L968.7 563.9 L983.7 573.5Z" fill="#fff" stroke="none"/>
<path d="M1000.7 549.5 L981.5 538.3" fill="none" stroke="#000" stroke-width="3.2" />
<path d="M968.7 563.9 L983.7 573.5" fill="none" stroke="#000" stroke-width="3.2" />
<path d="M981.5 538.3 C980.3 538.7 976.4 538.6 974.1 540.4 C971.8 542.2 969.1 546.1 967.7 548.9 C966.3 551.8 965.3 555 965.5 557.5 C965.7 560 968.2 562.8 968.7 563.9" fill="none" stroke="#000" stroke-width="3.2" />
<ellipse cx="993.3" cy="561.7" rx="9" ry="13" transform="rotate(25 993.3 561.7)" fill="#fff" stroke="#000" stroke-width="4.6"/>
<line x1="990" y1="559.5" x2="1018.3" y2="578.3" stroke="#000" stroke-width="1.5" />
<line x1="1048.3" y1="596.7" x2="1071.7" y2="610" stroke="#000" stroke-width="1.5" />
<path d="M1265.7 704.5 L1246.5 693.3 L1239.1 695.4 L1232.7 703.9 L1230.5 712.5 L1233.7 718.9 L1248.7 728.5Z" fill="#fff" stroke="none"/>
<path d="M1265.7 704.5 L1246.5 693.3" fill="none" stroke="#000" stroke-width="3.2" />
<path d="M1233.7 718.9 L1248.7 728.5" fill="none" stroke="#000" stroke-width="3.2" />
<path d="M1246.5 693.3 C1245.3 693.7 1241.4 693.6 1239.1 695.4 C1236.8 697.2 1234.1 701.1 1232.7 703.9 C1231.3 706.8 1230.3 710 1230.5 712.5 C1230.7 715 1233.2 717.8 1233.7 718.9" fill="none" stroke="#000" stroke-width="3.2" />
<ellipse cx="1258.3" cy="716.7" rx="9" ry="13" transform="rotate(25 1258.3 716.7)" fill="#fff" stroke="#000" stroke-width="4.6"/>
<line x1="1223.3" y1="698.3" x2="1236" y2="705" stroke="#000" stroke-width="1.5" />
<line x1="1255" y1="714.5" x2="1265" y2="720" stroke="#000" stroke-width="1.5" />
<line x1="311.5" y1="172.1" x2="340.8" y2="187.6" stroke="#000" stroke-width="1.5" />
<line x1="414" y1="1076.5" x2="421.4" y2="1079.9" stroke="#000" stroke-width="1.5" />
<line x1="313.4" y1="1117.7" x2="339" y2="1130" stroke="#000" stroke-width="1.5" />
<path d="M1335.2 1694.4 L1432.8 1749.6 L1421.6 1770.4 L1324 1714.4 L1319.2 1706.4 L1320.8 1698.4 L1327.2 1692.8Z" fill="#fff" stroke="none"/>
<path d="M1335.2 1694.4 L1432.8 1749.6" fill="none" stroke="#000" stroke-width="3.2" />
<path d="M1324 1714.4 L1421.6 1770.4" fill="none" stroke="#000" stroke-width="3.2" />
<path d="M1335.2 1694.4 C1333.9 1694.1 1329.6 1692.1 1327.2 1692.8 C1324.8 1693.5 1322.1 1696.1 1320.8 1698.4 C1319.5 1700.7 1318.7 1703.7 1319.2 1706.4 C1319.7 1709.1 1323.2 1713.1 1324 1714.4" fill="none" stroke="#000" stroke-width="3.2" />
<path d="M1331.2 1696 C1330.3 1696.8 1326.8 1698.8 1325.6 1700.8 C1324.4 1702.8 1323.7 1705.9 1324 1708 C1324.3 1710.1 1326.7 1712.7 1327.2 1713.6" fill="none" stroke="#000" stroke-width="1.8" />
<path d="M1432.8 1749.6 C1434.9 1748.3 1437.9 1746.5 1440.8 1746.4 C1443.7 1746.3 1448.1 1747.2 1450.4 1748.8 C1452.7 1750.4 1451.6 1749.2 1454.4 1756 C1457.2 1762.8 1465.3 1782.4 1467.2 1789.6 C1469.1 1796.8 1467.1 1796.1 1465.6 1799.2 C1464.1 1802.3 1460.9 1806.3 1458.4 1808 C1455.9 1809.7 1452.8 1810.3 1450.4 1809.6 C1448 1808.9 1448.5 1808.7 1444 1804 C1439.5 1799.3 1427.1 1786.7 1423.2 1781.6 C1419.3 1776.5 1420.8 1776.8 1420.8 1773.6 C1420.8 1770.4 1422 1765.6 1423.2 1762.4 C1424.4 1759.2 1426.4 1756.5 1428 1754.4 C1429.6 1752.3 1430.7 1750.9 1432.8 1749.6Z" fill="#fff" stroke="#000" stroke-width="3.6"/>
<ellipse cx="1438.4" cy="1766.4" rx="10.5" ry="16" transform="rotate(30 1438.4 1766.4)" fill="none" stroke="#000" stroke-width="2.6"/>
<ellipse cx="1441.6" cy="1767" rx="6.8" ry="11" transform="rotate(30 1441.6 1767)" fill="none" stroke="#000" stroke-width="2.6"/>
<ellipse cx="1456.8" cy="1797.6" rx="2.6" ry="4.2" transform="rotate(30 1456.8 1797.6)" fill="#000" stroke="#000" stroke-width="2.6"/>
<line x1="1291.2" y1="1682.4" x2="1319.2" y2="1698.4" stroke="#000" stroke-width="1.5" />
<line x1="1270.4" y1="1689.6" x2="1300.8" y2="1707.2" stroke="#000" stroke-width="1.5" />
<line x1="1331.2" y1="1724" x2="1360.8" y2="1742.4" stroke="#000" stroke-width="1.5" />
<line x1="1391.2" y1="1760" x2="1420" y2="1775.2" stroke="#000" stroke-width="1.5" />
<line x1="1466.4" y1="1802.4" x2="1484" y2="1812" stroke="#000" stroke-width="1.5" />
<ellipse cx="1490.4" cy="1816.8" rx="7" ry="8.2" transform="rotate(30 1490.4 1816.8)" fill="#000" stroke="#000" stroke-width="2"/>
<ellipse cx="1491.5" cy="1817.2" rx="1.8" ry="3.4" transform="rotate(30 1491.5 1817.2)" fill="#ddd" stroke="#000" stroke-width="1"/>
<path d="M143 998 L237 1057 L245 1062 L247 1072 L241 1082 L232 1084 L225 1080 L123 1023Z" fill="#fff" stroke="none"/>
<path d="M158 1040 C157.8 1041 158 1044 157 1046 C156 1048 154.2 1050.7 152 1052 C149.8 1053.3 146.3 1054 144 1054 C141.7 1054 143.3 1056.3 138 1052 C132.7 1047.7 116.7 1033.8 112 1028 C107.3 1022.2 109.7 1021 110 1017 C110.3 1013 112 1008 114 1004 C116 1000 119.3 995.5 122 993 C124.7 990.5 127.3 989.5 130 989 C132.7 988.5 135.8 989.2 138 990 C140.2 990.8 142.2 993.3 143 994" fill="none" stroke="#000" stroke-width="3.8" />
<path d="M143 998 L237 1057" fill="none" stroke="#000" stroke-width="3.2" />
<path d="M123 1023 L225 1080" fill="none" stroke="#000" stroke-width="3.2" />
<path d="M237 1057 C238.3 1057.8 243.3 1059.5 245 1062 C246.7 1064.5 247.7 1068.7 247 1072 C246.3 1075.3 243.5 1080 241 1082 C238.5 1084 234.7 1084.3 232 1084 C229.3 1083.7 226.2 1080.7 225 1080" fill="none" stroke="#000" stroke-width="3.2" />
<path d="M228 1064 C227.7 1065.3 225.7 1069.2 226 1072 C226.3 1074.8 229.3 1079.5 230 1081" fill="none" stroke="#000" stroke-width="2" />
<path d="M138 998 C136.3 998.5 130.8 999.2 128 1001 C125.2 1002.8 122.5 1006 121 1009 C119.5 1012 118.7 1016.5 119 1019 C119.3 1021.5 122.3 1023.2 123 1024" fill="none" stroke="#000" stroke-width="2.6" />
<ellipse cx="144.4" cy="1044.4" rx="4" ry="6.5" transform="rotate(20 144.4 1044.4)" fill="none" stroke="#000" stroke-width="2.4"/>
<ellipse cx="150.4" cy="1044.4" rx="3.6" ry="6" transform="rotate(20 150.4 1044.4)" fill="none" stroke="#000" stroke-width="2.4"/>
<path d="M143 1037.6 L152 1038.4" fill="none" stroke="#000" stroke-width="2" />
<path d="M146 1051 L154 1049" fill="none" stroke="#000" stroke-width="2" />
<path d="M160 1048 L184 1060" fill="none" stroke="#000" stroke-width="1.5" />
<path d="M192 1048 L222 1066" fill="none" stroke="#000" stroke-width="1.5" />
<path d="M210 1078 L241 1095" fill="none" stroke="#000" stroke-width="1.5" />
<path d="M253 1083 L283 1100" fill="none" stroke="#000" stroke-width="1.5" />
<path d="M271 1113 L300 1129" fill="none" stroke="#000" stroke-width="1.5" />
<ellipse cx="55" cy="988" rx="8" ry="9" transform="rotate(20 55 988)" fill="#000" stroke="#000" stroke-width="2"/>
<ellipse cx="56" cy="988.5" rx="1.8" ry="3.6" transform="rotate(25 56 988.5)" fill="#ddd" stroke="#000" stroke-width="1"/>
<line x1="63" y1="994" x2="86" y2="1007" stroke="#000" stroke-width="1.5" />
<path d="M485 1112.5 L508.3 1125" fill="none" stroke="#000" stroke-width="2.6" />
<path d="M480.8 1120 L501.7 1132.5" fill="none" stroke="#000" stroke-width="2.6" />
<path d="M485 1112.5 C484.3 1113 481.7 1114.2 481 1115.5 C480.3 1116.8 480.8 1119.2 480.8 1120" fill="none" stroke="#000" stroke-width="2.6" />
<ellipse cx="509.5" cy="1131.5" rx="5" ry="7" transform="rotate(25 509.5 1131.5)" fill="#fff" stroke="#000" stroke-width="4.2"/>
<line x1="453.3" y1="1100" x2="481.7" y2="1115.8" stroke="#000" stroke-width="1.5" />
<ellipse cx="1060.1" cy="1385.7" rx="5.5" ry="7.5" transform="rotate(25 1060.1 1385.7)" fill="#fff" stroke="#000" stroke-width="4.2"/>
<path d="M1066.7 1382 L1086.3 1394.1" fill="none" stroke="#000" stroke-width="2.6" />
<path d="M1061.1 1392.3 L1079.7 1403.5" fill="none" stroke="#000" stroke-width="2.6" />
<path d="M1086.3 1394.1 C1086.6 1394.9 1088.7 1397.1 1088.2 1398.8 C1087.7 1400.5 1084.9 1403.6 1083.5 1404.4 C1082.1 1405.2 1080.3 1403.7 1079.7 1403.5" fill="none" stroke="#000" stroke-width="2.6" />
<line x1="1088.1" y1="1400.7" x2="1108.7" y2="1413.7" stroke="#000" stroke-width="1.5" />
<path d="M1215.1 1390.4 L1254.3 1368 L1258.5 1367.6 L1260.8 1372.7 L1260.8 1399.7 L1259.5 1404 L1257 1406.3 L1216 1429.6" fill="none" stroke="#000" stroke-width="6.2" stroke-linejoin="round"/>
<path d="M1215.1 1390.4 L1254.3 1368 L1258.5 1367.6 L1260.8 1372.7 L1260.8 1399.7 L1259.5 1404 L1257 1406.3 L1216 1429.6" fill="none" stroke="#fff" stroke-width="1.8" stroke-linejoin="round"/>
<path d="M1215.1 1390.4 L1229 1382.5" fill="none" stroke="#000" stroke-width="5.5" />
<path d="M1216 1429.6 L1229 1422.2" fill="none" stroke="#000" stroke-width="5.5" />
<line x1="1169.3" y1="1418.4" x2="1215" y2="1391" stroke="#000" stroke-width="1.5" />
<line x1="1199" y1="1439.9" x2="1216" y2="1429.6" stroke="#000" stroke-width="1.5" />
<circle cx="1199.2" cy="1400.7" r="6" fill="#000"/>
<circle cx="1198.8" cy="1439.9" r="6" fill="#000"/>
<circle cx="341.5" cy="1896" r="5.8" fill="#000"/>
<circle cx="341.5" cy="1935" r="5.8" fill="#000"/>
<line x1="372" y1="57" x2="341.9" y2="124.9" stroke="#000" stroke-width="1.9" />
<polygon points="333,145 338.4,121.2 347.0,125.0" fill="#000"/>
<circle cx="332.3" cy="149.7" r="4.6" fill="#000"/>
<line x1="335.5" y1="153" x2="353.6" y2="171" stroke="#000" stroke-width="1.6" />
<line x1="135" y1="222" x2="219.7" y2="158.7" stroke="#000" stroke-width="1.9" />
<polygon points="237.3,145.5 220.9,163.6 215.3,156.1" fill="#000"/>
<line x1="823.5" y1="317.5" x2="579.0" y2="308.8" stroke="#000" stroke-width="1.9" />
<polygon points="557,308 581.2,304.2 580.8,313.6" fill="#000"/>
<line x1="866" y1="345" x2="953.7" y2="533.1" stroke="#000" stroke-width="1.9" />
<polygon points="963,553 948.6,533.2 957.1,529.3" fill="#000"/>
<line x1="1190" y1="400" x2="1130.0" y2="482.2" stroke="#000" stroke-width="1.9" />
<polygon points="1117,500 1127.4,477.8 1134.9,483.4" fill="#000"/>
<circle cx="1113" cy="505" r="4.6" fill="#000"/>
<line x1="1113" y1="505" x2="1145" y2="532" stroke="#000" stroke-width="1.6" />
<line x1="1420" y1="602" x2="1283.2" y2="694.7" stroke="#000" stroke-width="1.9" />
<polygon points="1265,707 1282.2,689.6 1287.5,697.4" fill="#000"/>
<line x1="1070" y1="1002" x2="966.5" y2="1056.7" stroke="#000" stroke-width="1.9" />
<polygon points="947,1067 966.0,1051.6 970.4,1059.9" fill="#000"/>
<line x1="33" y1="1093" x2="46.2" y2="1016.7" stroke="#000" stroke-width="1.9" />
<polygon points="50,995 50.5,1019.5 41.3,1017.8" fill="#000"/>
<line x1="158" y1="1125" x2="176.6" y2="1080.3" stroke="#000" stroke-width="1.9" />
<polygon points="185,1060 180.1,1084.0 171.5,1080.4" fill="#000"/>
<line x1="702" y1="1160" x2="538.8" y2="1139.7" stroke="#000" stroke-width="1.9" />
<polygon points="517,1137 541.4,1135.3 540.2,1144.6" fill="#000"/>
<line x1="1095" y1="1227" x2="1081.8" y2="1366.6" stroke="#000" stroke-width="1.9" />
<polygon points="1079.7,1388.5 1077.3,1364.2 1086.6,1365.1" fill="#000"/>
<line x1="832" y1="1287" x2="774.2" y2="1373.7" stroke="#000" stroke-width="1.9" />
<polygon points="762,1392 771.4,1369.4 779.2,1374.6" fill="#000"/>
<line x1="1347" y1="1445" x2="1281.1" y2="1410.0" stroke="#000" stroke-width="1.9" />
<polygon points="1261.7,1399.7 1285.1,1406.8 1280.7,1415.1" fill="#000"/>
<line x1="1342" y1="1527" x2="1222.4" y2="1450.7" stroke="#000" stroke-width="1.9" />
<polygon points="1203.9,1438.9 1226.7,1447.8 1221.6,1455.8" fill="#000"/>
<line x1="415" y1="2012" x2="360.2" y2="1954.9" stroke="#000" stroke-width="1.9" />
<polygon points="345,1939 365.0,1953.1 358.2,1959.6" fill="#000"/>
<line x1="1327" y1="1880" x2="1367.8" y2="1766.3" stroke="#000" stroke-width="1.9" />
<polygon points="1375.2,1745.6 1371.5,1769.8 1362.7,1766.6" fill="#000"/>
<line x1="1430" y1="1925" x2="1476.3" y2="1843.9" stroke="#000" stroke-width="1.9" />
<polygon points="1487.2,1824.8 1479.4,1848.0 1471.2,1843.3" fill="#000"/>
<circle cx="385" cy="30" r="28.0" fill="#fff" stroke="#000" stroke-width="2.3"/>
<text x="0" y="0" transform="translate(385,45.8) scale(0.6,1)" text-anchor="middle" font-size="44" stroke="#000" stroke-width="0.9" class="n">4</text>
<circle cx="110" cy="241" r="28.0" fill="#fff" stroke="#000" stroke-width="2.3"/>
<text x="0" y="0" transform="translate(110,256.8) scale(0.6,1)" text-anchor="middle" font-size="44" stroke="#000" stroke-width="0.9" class="n">9</text>
<circle cx="852" cy="316" r="28.0" fill="#fff" stroke="#000" stroke-width="2.3"/>
<text x="0" y="0" transform="translate(852,331.8) scale(0.6,1)" text-anchor="middle" font-size="44" stroke="#000" stroke-width="0.9" class="n">9</text>
<circle cx="1203" cy="379" r="28.0" fill="#fff" stroke="#000" stroke-width="2.3"/>
<text x="0" y="0" transform="translate(1203,394.8) scale(0.6,1)" text-anchor="middle" font-size="44" stroke="#000" stroke-width="0.9" class="n">4</text>
<circle cx="1444" cy="588" r="28.0" fill="#fff" stroke="#000" stroke-width="2.3"/>
<text x="0" y="0" transform="translate(1444,603.8) scale(0.6,1)" text-anchor="middle" font-size="44" stroke="#000" stroke-width="0.9" class="n">9</text>
<circle cx="1095" cy="992" r="28.0" fill="#fff" stroke="#000" stroke-width="2.3"/>
<text x="0" y="0" transform="translate(1095,1007.8) scale(0.6,1)" text-anchor="middle" font-size="44" stroke="#000" stroke-width="0.9" class="n">2</text>
<circle cx="29" cy="1121" r="28.0" fill="#fff" stroke="#000" stroke-width="2.3"/>
<text x="0" y="0" transform="translate(29,1136.8) scale(0.6,1)" text-anchor="middle" font-size="44" stroke="#000" stroke-width="0.9" class="n">6</text>
<circle cx="147" cy="1153" r="28.0" fill="#fff" stroke="#000" stroke-width="2.3"/>
<text x="0" y="0" transform="translate(147,1168.8) scale(0.6,1)" text-anchor="middle" font-size="44" stroke="#000" stroke-width="0.9" class="n">3</text>
<circle cx="730" cy="1165" r="28.0" fill="#fff" stroke="#000" stroke-width="2.3"/>
<text x="0" y="0" transform="translate(730,1180.8) scale(0.6,1)" text-anchor="middle" font-size="44" stroke="#000" stroke-width="0.9" class="n">5</text>
<circle cx="1095" cy="1200" r="28.0" fill="#fff" stroke="#000" stroke-width="2.3"/>
<text x="0" y="0" transform="translate(1095,1215.8) scale(0.6,1)" text-anchor="middle" font-size="44" stroke="#000" stroke-width="0.9" class="n">5</text>
<circle cx="846" cy="1262" r="28.0" fill="#fff" stroke="#000" stroke-width="2.3"/>
<text x="0" y="0" transform="translate(846,1277.8) scale(0.6,1)" text-anchor="middle" font-size="44" stroke="#000" stroke-width="0.9" class="n">1</text>
<circle cx="1368" cy="1462" r="28.0" fill="#fff" stroke="#000" stroke-width="2.3"/>
<text x="0" y="0" transform="translate(1368,1477.8) scale(0.6,1)" text-anchor="middle" font-size="44" stroke="#000" stroke-width="0.9" class="n">8</text>
<circle cx="1362" cy="1546" r="28.0" fill="#fff" stroke="#000" stroke-width="2.3"/>
<text x="0" y="0" transform="translate(1362,1561.8) scale(0.6,1)" text-anchor="middle" font-size="44" stroke="#000" stroke-width="0.9" class="n">7</text>
<circle cx="430" cy="2035" r="28.0" fill="#fff" stroke="#000" stroke-width="2.3"/>
<text x="0" y="0" transform="translate(430,2050.8) scale(0.6,1)" text-anchor="middle" font-size="44" stroke="#000" stroke-width="0.9" class="n">7</text>
<circle cx="1318" cy="1907" r="28.0" fill="#fff" stroke="#000" stroke-width="2.3"/>
<text x="0" y="0" transform="translate(1318,1922.8) scale(0.6,1)" text-anchor="middle" font-size="44" stroke="#000" stroke-width="0.9" class="n">3</text>
<circle cx="1419" cy="1950" r="28.0" fill="#fff" stroke="#000" stroke-width="2.3"/>
<text x="0" y="0" transform="translate(1419,1965.8) scale(0.6,1)" text-anchor="middle" font-size="44" stroke="#000" stroke-width="0.9" class="n">6</text>
<g id="wm" stroke="none" style="mix-blend-mode:multiply">
<text x="751" y="1257" text-anchor="middle" font-size="44" font-weight="bold" textLength="508" lengthAdjust="spacing" style="font-family:'Liberation Sans',sans-serif" fill="#ececec">LEADVENTURE</text>
<path d="M727 985 C752 1010 768 1035 772 1062 C776 1045 775 1030 771 1018 C790 1040 796 1068 786 1092 L770 1078 C764 1060 752 1046 742 1040 C746 1052 744 1062 738 1070 C730 1056 722 1048 716 1046 C722 1020 730 1005 727 985Z" fill="#f4f4f4"/>
<path d="M692 1097 L738 1097 L766 1150 L756 1170 L728 1115 L702 1115Z M704 1121 L724 1121 L756 1183 L746 1200Z M776 1110 L796 1097 L770 1160 L760 1142Z" fill="#f4f4f4"/>
</g>
<text x="600.5" y="2236" font-size="26.5" textLength="299" lengthAdjust="spacingAndGlyphs" style="font-family:'DejaVu Sans Condensed','DejaVu Sans','Liberation Sans',sans-serif" fill="#1a1a1a">Rendered by LeadVenture, Inc.</text>
</svg>
</body></html>
